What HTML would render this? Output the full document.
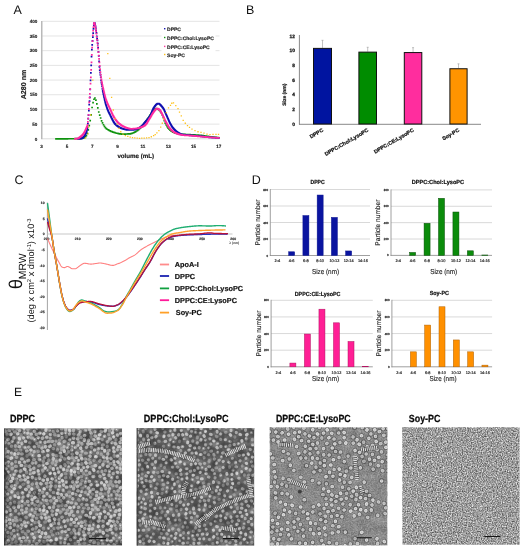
<!DOCTYPE html>
<html><head><meta charset="utf-8"><style>
html,body{margin:0;padding:0;background:#fff;overflow:hidden;}
svg{display:block;}
text{font-family:'Liberation Sans', Arial, sans-serif;text-rendering:geometricPrecision;}
</style></head><body>
<svg width="524" height="550" viewBox="0 0 524 550">
<rect width="524" height="550" fill="#fff"/>
<text x="13.6" y="14.4" font-size="12.5" fill="#111">A</text>
<line x1="42.3" y1="124.11" x2="219.5" y2="124.11" stroke="#e4e4e4" stroke-width="1"/>
<line x1="42.3" y1="109.43" x2="219.5" y2="109.43" stroke="#e4e4e4" stroke-width="1"/>
<line x1="42.3" y1="94.74" x2="219.5" y2="94.74" stroke="#e4e4e4" stroke-width="1"/>
<line x1="42.3" y1="80.05" x2="219.5" y2="80.05" stroke="#e4e4e4" stroke-width="1"/>
<line x1="42.3" y1="65.36" x2="219.5" y2="65.36" stroke="#e4e4e4" stroke-width="1"/>
<line x1="42.3" y1="50.68" x2="219.5" y2="50.68" stroke="#e4e4e4" stroke-width="1"/>
<line x1="42.3" y1="35.99" x2="219.5" y2="35.99" stroke="#e4e4e4" stroke-width="1"/>
<line x1="42.3" y1="21.3" x2="219.5" y2="21.3" stroke="#e4e4e4" stroke-width="1"/>
<line x1="42.3" y1="138.8" x2="219.5" y2="138.8" stroke="#dadada" stroke-width="1"/>
<line x1="41.8" y1="21" x2="41.8" y2="139.3" stroke="#a8a8a8" stroke-width="1.2"/>
<text x="37.3" y="140.5" font-size="4.6" font-weight="bold" text-anchor="end" fill="#222" stroke="#222" stroke-width="0.12">0</text>
<text x="37.3" y="125.81" font-size="4.6" font-weight="bold" text-anchor="end" fill="#222" stroke="#222" stroke-width="0.12">50</text>
<text x="37.3" y="111.13" font-size="4.6" font-weight="bold" text-anchor="end" fill="#222" stroke="#222" stroke-width="0.12">100</text>
<text x="37.3" y="96.44" font-size="4.6" font-weight="bold" text-anchor="end" fill="#222" stroke="#222" stroke-width="0.12">150</text>
<text x="37.3" y="81.75" font-size="4.6" font-weight="bold" text-anchor="end" fill="#222" stroke="#222" stroke-width="0.12">200</text>
<text x="37.3" y="67.06" font-size="4.6" font-weight="bold" text-anchor="end" fill="#222" stroke="#222" stroke-width="0.12">250</text>
<text x="37.3" y="52.38" font-size="4.6" font-weight="bold" text-anchor="end" fill="#222" stroke="#222" stroke-width="0.12">300</text>
<text x="37.3" y="37.69" font-size="4.6" font-weight="bold" text-anchor="end" fill="#222" stroke="#222" stroke-width="0.12">350</text>
<text x="37.3" y="23" font-size="4.6" font-weight="bold" text-anchor="end" fill="#222" stroke="#222" stroke-width="0.12">400</text>
<text x="41.6" y="147.6" font-size="4.6" font-weight="bold" text-anchor="middle" fill="#222" stroke="#222" stroke-width="0.12">3</text>
<text x="66.92" y="147.6" font-size="4.6" font-weight="bold" text-anchor="middle" fill="#222" stroke="#222" stroke-width="0.12">5</text>
<text x="92.24" y="147.6" font-size="4.6" font-weight="bold" text-anchor="middle" fill="#222" stroke="#222" stroke-width="0.12">7</text>
<text x="117.56" y="147.6" font-size="4.6" font-weight="bold" text-anchor="middle" fill="#222" stroke="#222" stroke-width="0.12">9</text>
<text x="142.88" y="147.6" font-size="4.6" font-weight="bold" text-anchor="middle" fill="#222" stroke="#222" stroke-width="0.12">11</text>
<text x="168.2" y="147.6" font-size="4.6" font-weight="bold" text-anchor="middle" fill="#222" stroke="#222" stroke-width="0.12">13</text>
<text x="193.52" y="147.6" font-size="4.6" font-weight="bold" text-anchor="middle" fill="#222" stroke="#222" stroke-width="0.12">15</text>
<text x="218.84" y="147.6" font-size="4.6" font-weight="bold" text-anchor="middle" fill="#222" stroke="#222" stroke-width="0.12">17</text>
<text x="117.4" y="157.7" font-size="6.2" font-weight="bold" fill="#1a1a1a" stroke="#1a1a1a" stroke-width="0.18">volume (mL)</text>
<text transform="translate(26.4,84.5) rotate(-90)" font-size="7.1" font-weight="bold" text-anchor="middle" fill="#1a1a1a" stroke="#1a1a1a" stroke-width="0.18">A280 nm</text>
<path d="M56 138.8h0M56.95 138.8h0M57.9 138.8h0M58.85 138.8h0M59.8 138.8h0M60.75 138.8h0M61.7 138.8h0M62.65 138.79h0M63.6 138.79h0M64.55 138.79h0M65.5 138.78h0M66.45 138.78h0M67.4 138.78h0M68.35 138.77h0M69.3 138.77h0M70.25 138.76h0M71.2 138.75h0M72.15 138.75h0M73.1 138.74h0M74.05 138.73h0M75 138.72h0M75.95 138.71h0M76.9 138.7h0M77.85 138.68h0M78.8 138.67h0M79.75 138.66h0M80.7 138.6h0M81.65 138.42h0M82.6 138.17h0M83.55 137.92h0M84.5 137.59h0M85.45 136.96h0M86.4 135.58h0M87.35 133.46h0M88.3 129.88h0M89.25 125.53h0M90.2 120.63h0M91.15 114.94h0M92.1 107.49h0M93.05 102.57h0M94 99.27h0M94.95 97.98h0M95.9 100.12h0M96.85 103.87h0M97.8 107.9h0M98.75 111.98h0M99.7 115.03h0M100.65 118.01h0M101.6 120.78h0M102.55 122.94h0M103.5 124.77h0M104.45 126.39h0M105.4 127.61h0M106.35 128.53h0M107.3 129.25h0M108.25 129.84h0M109.2 130.37h0M110.15 130.85h0M111.1 131.28h0M112.05 131.68h0M113 132.04h0M113.95 132.38h0M114.9 132.7h0M115.85 133h0M116.8 133.25h0M117.75 133.47h0M118.7 133.64h0M119.65 133.81h0M120.6 133.96h0M121.55 134.06h0M122.5 134.1h0M123.45 134.09h0M124.4 134.08h0M125.35 134.05h0M126.3 134.02h0M127.25 133.98h0M128.2 133.93h0M129.15 133.87h0M130.1 133.8h0M131.05 133.64h0M132 133.36h0M132.95 132.99h0M133.9 132.56h0M134.85 132.11h0M135.8 131.62h0M136.75 131.02h0M137.7 130.33h0M138.65 129.57h0M139.6 128.75h0M140.55 127.82h0M141.5 126.79h0M142.45 125.68h0M143.4 124.52h0M144.35 123.34h0M145.3 122.09h0M146.25 120.77h0M147.2 119.4h0M148.15 118h0M149.1 116.62h0M150.05 115.16h0M151 113.59h0M151.95 112.1h0M152.9 110.89h0M153.85 110.02h0M154.8 109.22h0M155.75 108.67h0M156.7 108.57h0M157.65 108.92h0M158.6 109.55h0M159.55 110.33h0M160.5 111.58h0M161.45 113.25h0M162.4 115.14h0M163.35 117.72h0M164.3 120.63h0M165.25 123.04h0M166.2 124.93h0M167.15 126.64h0M168.1 128.11h0M169.05 129.25h0M170 130.11h0M170.95 130.86h0M171.9 131.5h0M172.85 132.04h0M173.8 132.48h0M174.75 132.83h0M175.7 133.15h0M176.65 133.44h0M177.6 133.68h0M178.55 133.89h0M179.5 134.04h0M180.45 134.14h0M181.4 134.23h0M182.35 134.3h0M183.3 134.36h0M184.25 134.41h0M185.2 134.46h0M186.15 134.5h0M187.1 134.54h0M188.05 134.59h0M189 134.63h0M189.95 134.68h0M190.9 134.74h0M191.85 134.79h0M192.8 134.84h0M193.75 134.89h0M194.7 134.93h0M195.65 134.98h0M196.6 135.04h0M197.55 135.1h0M198.5 135.16h0M199.45 135.23h0M200.4 135.31h0M201.35 135.41h0M202.3 135.54h0M203.25 135.68h0M204.2 135.83h0M205.15 135.99h0M206.1 136.16h0M207.05 136.32h0M208 136.47h0M208.95 136.61h0M209.9 136.73h0M210.85 136.84h0M211.8 136.95h0M212.75 137.05h0M213.7 137.15h0M214.65 137.25h0M215.6 137.34h0M216.55 137.42h0M217.5 137.51h0M218.45 137.58h0" stroke="#0e930e" stroke-width="1.7" stroke-linecap="square" fill="none"/>
<path d="M78 138.8h0M78.33 138.8h0M78.66 138.79h0M78.99 138.78h0M79.32 138.77h0M79.65 138.75h0M79.98 138.73h0M80.31 138.71h0M80.64 138.68h0M80.97 138.66h0M81.3 138.6h0M81.63 138.48h0M81.96 138.3h0M82.29 138.08h0M82.62 137.82h0M82.95 137.52h0M83.28 137.2h0M83.61 136.86h0M83.94 136.51h0M84.27 136.13h0M84.6 135.67h0M84.93 135.14h0M85.26 134.53h0M85.59 133.85h0M85.92 133.11h0M86.25 132.34h0M86.58 131.52h0M86.91 130.53h0M87.24 129.24h0M87.57 127.52h0M87.9 123.72h0M88.23 118.74h0M88.56 115.03h0M88.89 110.66h0M89.22 104.69h0M89.55 101.12h0M89.88 97.32h0M90.21 89.34h0M90.54 80.39h0M90.87 72.88h0M91.2 65.36h0M91.53 56.74h0M91.86 49.66h0M92.19 44.86h0M92.52 40.93h0M92.85 37.18h0M93.18 33.02h0M93.51 28.93h0M93.84 25.49h0M94.17 23.28h0M94.5 22.8h0M94.83 23.39h0M95.16 24.57h0M95.49 26.21h0M95.82 28.17h0M96.15 30.3h0M96.48 32.86h0M96.81 36.4h0M97.14 38.6h0M97.47 40.47h0M97.8 43.64h0M98.13 47.56h0M98.46 51.92h0M98.79 55.96h0M99.12 61.37h0M99.45 66.94h0M99.78 70.07h0M100.11 72.65h0M100.44 74.8h0M100.77 77.41h0M101.1 80.46h0M101.43 82.6h0M101.76 84.26h0M102.09 86.27h0M102.42 88.91h0M102.75 90.87h0M103.08 92.49h0M103.41 94.01h0M103.74 95.61h0M104.07 97.19h0M104.4 98.71h0M104.73 100.13h0M105.06 101.5h0M105.39 102.82h0M105.72 104.06h0M106.05 105.18h0M106.38 106.23h0M106.71 107.21h0M107.04 108.15h0M107.37 109.03h0M107.7 109.87h0M108.03 110.67h0M108.36 111.42h0M108.69 112.11h0M109.02 112.77h0M109.35 113.42h0M109.68 114.07h0M110.01 114.73h0M110.34 115.42h0M110.67 116.11h0M111 116.81h0M111.33 117.49h0M111.66 118.16h0M111.99 118.81h0M112.32 119.44h0M112.65 120.09h0M112.98 120.73h0M113.31 121.35h0M113.64 121.94h0M113.97 122.49h0M114.3 122.97h0M114.63 123.39h0M114.96 123.76h0M115.29 124.1h0M115.62 124.42h0M115.95 124.72h0M116.28 125h0M116.61 125.27h0M116.94 125.53h0M117.27 125.8h0M117.6 126.05h0M117.93 126.31h0M118.26 126.55h0M118.59 126.79h0M118.92 127.01h0M119.25 127.22h0M119.58 127.42h0M119.91 127.59h0M120.24 127.75h0M120.57 127.91h0M120.9 128.05h0M121.23 128.19h0M121.56 128.33h0M121.89 128.45h0M122.22 128.57h0M122.55 128.69h0M122.88 128.79h0M123.21 128.89h0M123.54 128.99h0M123.87 129.07h0M124.2 129.15h0M124.53 129.24h0M124.86 129.32h0M125.19 129.4h0M125.52 129.48h0M125.85 129.56h0M126.18 129.63h0M126.51 129.7h0M126.84 129.76h0M127.17 129.82h0M127.5 129.87h0M127.83 129.92h0M128.16 129.95h0M128.49 129.97h0M128.82 129.99h0M129.15 129.99h0M129.48 129.98h0M129.81 129.98h0M130.14 129.97h0M130.47 129.96h0M130.8 129.94h0M131.13 129.93h0M131.46 129.91h0M131.79 129.88h0M132.12 129.86h0M132.45 129.84h0M132.78 129.81h0M133.11 129.78h0M133.44 129.75h0M133.77 129.72h0M134.1 129.68h0M134.43 129.64h0M134.76 129.58h0M135.09 129.51h0M135.42 129.43h0M135.75 129.34h0M136.08 129.23h0M136.41 129.12h0M136.74 129.01h0M137.07 128.89h0M137.4 128.76h0M137.73 128.63h0M138.06 128.49h0M138.39 128.35h0M138.72 128.19h0M139.05 128.01h0M139.38 127.82h0M139.71 127.61h0M140.04 127.4h0M140.37 127.16h0M140.7 126.92h0M141.03 126.67h0M141.36 126.41h0M141.69 126.14h0M142.02 125.86h0M142.35 125.55h0M142.68 125.21h0M143.01 124.84h0M143.34 124.44h0M143.67 124.03h0M144 123.61h0M144.33 123.19h0M144.66 122.77h0M144.99 122.36h0M145.32 121.97h0M145.65 121.58h0M145.98 121.2h0M146.31 120.82h0M146.64 120.44h0M146.97 120.06h0M147.3 119.68h0M147.63 119.29h0M147.96 118.89h0M148.29 118.47h0M148.62 118.04h0M148.95 117.59h0M149.28 117.13h0M149.61 116.63h0M149.94 116.12h0M150.27 115.53h0M150.6 114.86h0M150.93 114.12h0M151.26 113.34h0M151.59 112.52h0M151.92 111.7h0M152.25 110.88h0M152.58 110.08h0M152.91 109.33h0M153.24 108.64h0M153.57 108.02h0M153.9 107.5h0M154.23 107.07h0M154.56 106.63h0M154.89 106.2h0M155.22 105.77h0M155.55 105.36h0M155.88 104.98h0M156.21 104.63h0M156.54 104.31h0M156.87 104.04h0M157.2 103.82h0M157.53 103.66h0M157.86 103.57h0M158.19 103.55h0M158.52 103.6h0M158.85 103.7h0M159.18 103.86h0M159.51 104.06h0M159.84 104.31h0M160.17 104.6h0M160.5 104.92h0M160.83 105.27h0M161.16 105.64h0M161.49 106.03h0M161.82 106.44h0M162.15 106.86h0M162.48 107.29h0M162.81 107.71h0M163.14 108.14h0M163.47 108.65h0M163.8 109.23h0M164.13 109.87h0M164.46 110.56h0M164.79 111.28h0M165.12 112.03h0M165.45 112.79h0M165.78 113.55h0M166.11 114.3h0M166.44 115.02h0M166.77 115.77h0M167.1 116.54h0M167.43 117.33h0M167.76 118.13h0M168.09 118.93h0M168.42 119.71h0M168.75 120.47h0M169.08 121.2h0M169.41 121.88h0M169.74 122.52h0M170.07 123.16h0M170.4 123.78h0M170.73 124.38h0M171.06 124.97h0M171.39 125.54h0M171.72 126.08h0M172.05 126.59h0M172.38 127.07h0M172.71 127.52h0M173.04 127.94h0M173.37 128.34h0M173.7 128.73h0M174.03 129.11h0M174.36 129.47h0M174.69 129.82h0M175.02 130.15h0M175.35 130.47h0M175.68 130.77h0M176.01 131.06h0M176.34 131.33h0M176.67 131.58h0M177 131.82h0M177.33 132.05h0M177.66 132.29h0M177.99 132.52h0M178.32 132.74h0M178.65 132.96h0M178.98 133.17h0M179.31 133.37h0M179.64 133.55h0M179.97 133.73h0M180.3 133.89h0M180.63 134.04h0M180.96 134.16h0M181.29 134.27h0M181.62 134.36h0M181.95 134.42h0M182.28 134.48h0M182.61 134.54h0M182.94 134.59h0M183.27 134.64h0M183.6 134.68h0M183.93 134.72h0M184.26 134.76h0M184.59 134.8h0M184.92 134.84h0M185.25 134.87h0M185.58 134.9h0M185.91 134.93h0M186.24 134.96h0M186.57 134.99h0M186.9 135.01h0M187.23 135.04h0M187.56 135.07h0M187.89 135.09h0M188.22 135.12h0M188.55 135.15h0M188.88 135.17h0M189.21 135.2h0M189.54 135.23h0M189.87 135.26h0M190.2 135.29h0M190.53 135.33h0M190.86 135.36h0M191.19 135.39h0M191.52 135.42h0M191.85 135.45h0M192.18 135.47h0M192.51 135.5h0M192.84 135.53h0M193.17 135.56h0M193.5 135.59h0M193.83 135.61h0M194.16 135.64h0M194.49 135.67h0M194.82 135.7h0M195.15 135.72h0M195.48 135.75h0M195.81 135.78h0M196.14 135.81h0M196.47 135.83h0M196.8 135.86h0M197.13 135.89h0M197.46 135.92h0M197.79 135.95h0M198.12 135.98h0M198.45 136.01h0M198.78 136.04h0M199.11 136.07h0M199.44 136.1h0M199.77 136.13h0M200.1 136.17h0M200.43 136.2h0M200.76 136.24h0M201.09 136.27h0M201.42 136.31h0M201.75 136.35h0M202.08 136.39h0M202.41 136.43h0M202.74 136.47h0M203.07 136.51h0M203.4 136.56h0M203.73 136.6h0M204.06 136.64h0M204.39 136.69h0M204.72 136.73h0M205.05 136.77h0M205.38 136.81h0M205.71 136.86h0M206.04 136.9h0M206.37 136.94h0M206.7 136.98h0M207.03 137.02h0M207.36 137.06h0M207.69 137.1h0M208.02 137.14h0M208.35 137.17h0M208.68 137.21h0M209.01 137.24h0M209.34 137.27h0M209.67 137.3h0M210 137.33h0M210.33 137.36h0M210.66 137.39h0M210.99 137.41h0M211.32 137.44h0M211.65 137.47h0M211.98 137.49h0M212.31 137.52h0M212.64 137.54h0M212.97 137.57h0M213.3 137.59h0M213.63 137.61h0M213.96 137.64h0M214.29 137.66h0M214.62 137.68h0M214.95 137.7h0M215.28 137.72h0M215.61 137.74h0M215.94 137.76h0M216.27 137.78h0M216.6 137.8h0M216.93 137.82h0M217.26 137.84h0M217.59 137.85h0M217.92 137.87h0M218.25 137.89h0M218.58 137.9h0M218.91 137.92h0" stroke="#1010b0" stroke-width="1.75" stroke-linecap="square" fill="none"/>
<path d="M75 138.8h0M75.33 138.79h0M75.66 138.77h0M75.99 138.74h0M76.32 138.7h0M76.65 138.65h0M76.98 138.59h0M77.31 138.52h0M77.64 138.45h0M77.97 138.37h0M78.3 138.25h0M78.63 138.08h0M78.96 137.85h0M79.29 137.6h0M79.62 137.33h0M79.95 137.08h0M80.28 136.83h0M80.61 136.58h0M80.94 136.33h0M81.27 136.07h0M81.6 135.8h0M81.93 135.51h0M82.26 135.19h0M82.59 134.86h0M82.92 134.49h0M83.25 134.08h0M83.58 133.62h0M83.91 133.12h0M84.24 132.56h0M84.57 131.97h0M84.9 131.34h0M85.23 130.67h0M85.56 129.97h0M85.89 129.24h0M86.22 128.48h0M86.55 127.7h0M86.88 126.94h0M87.21 126.17h0M87.54 124.99h0M87.87 121.8h0M88.2 118.57h0M88.53 114.89h0M88.86 108.96h0M89.19 102.42h0M89.52 97.69h0M89.85 93.8h0M90.18 89.09h0M90.51 83.55h0M90.84 77.25h0M91.17 69.94h0M91.5 62.43h0M91.83 54.9h0M92.16 47.58h0M92.49 41.21h0M92.82 35.31h0M93.15 30.65h0M93.48 27.23h0M93.81 24.3h0M94.14 22.81h0M94.47 23.09h0M94.8 24.11h0M95.13 25.43h0M95.46 26.89h0M95.79 28.79h0M96.12 31.01h0M96.45 33.65h0M96.78 36.84h0M97.11 39.9h0M97.44 42.75h0M97.77 45.63h0M98.1 48.7h0M98.43 52.05h0M98.76 55.52h0M99.09 58.95h0M99.42 62.42h0M99.75 65.85h0M100.08 69.05h0M100.41 72.01h0M100.74 74.69h0M101.07 77.19h0M101.4 79.44h0M101.73 81.37h0M102.06 83.13h0M102.39 84.77h0M102.72 86.3h0M103.05 87.78h0M103.38 89.22h0M103.71 90.66h0M104.04 92.09h0M104.37 93.49h0M104.7 94.85h0M105.03 96.15h0M105.36 97.37h0M105.69 98.5h0M106.02 99.53h0M106.35 100.48h0M106.68 101.38h0M107.01 102.23h0M107.34 103.04h0M107.67 103.83h0M108 104.6h0M108.33 105.34h0M108.66 106.04h0M108.99 106.73h0M109.32 107.41h0M109.65 108.08h0M109.98 108.75h0M110.31 109.45h0M110.64 110.16h0M110.97 110.9h0M111.3 111.65h0M111.63 112.41h0M111.96 113.16h0M112.29 113.89h0M112.62 114.6h0M112.95 115.28h0M113.28 115.91h0M113.61 116.49h0M113.94 117.04h0M114.27 117.57h0M114.6 118.09h0M114.93 118.6h0M115.26 119.1h0M115.59 119.57h0M115.92 120.04h0M116.25 120.48h0M116.58 120.91h0M116.91 121.32h0M117.24 121.72h0M117.57 122.09h0M117.9 122.44h0M118.23 122.77h0M118.56 123.09h0M118.89 123.38h0M119.22 123.67h0M119.55 123.94h0M119.88 124.21h0M120.21 124.46h0M120.54 124.7h0M120.87 124.93h0M121.2 125.15h0M121.53 125.36h0M121.86 125.56h0M122.19 125.76h0M122.52 125.94h0M122.85 126.12h0M123.18 126.3h0M123.51 126.47h0M123.84 126.64h0M124.17 126.81h0M124.5 126.96h0M124.83 127.12h0M125.16 127.26h0M125.49 127.4h0M125.82 127.53h0M126.15 127.65h0M126.48 127.77h0M126.81 127.87h0M127.14 127.97h0M127.47 128.07h0M127.8 128.17h0M128.13 128.27h0M128.46 128.37h0M128.79 128.46h0M129.12 128.55h0M129.45 128.63h0M129.78 128.69h0M130.11 128.75h0M130.44 128.79h0M130.77 128.81h0M131.1 128.81h0M131.43 128.81h0M131.76 128.8h0M132.09 128.79h0M132.42 128.78h0M132.75 128.77h0M133.08 128.75h0M133.41 128.73h0M133.74 128.71h0M134.07 128.69h0M134.4 128.66h0M134.73 128.63h0M135.06 128.6h0M135.39 128.58h0M135.72 128.55h0M136.05 128.51h0M136.38 128.48h0M136.71 128.43h0M137.04 128.38h0M137.37 128.31h0M137.7 128.25h0M138.03 128.17h0M138.36 128.09h0M138.69 128.01h0M139.02 127.92h0M139.35 127.83h0M139.68 127.73h0M140.01 127.63h0M140.34 127.53h0M140.67 127.43h0M141 127.32h0M141.33 127.2h0M141.66 127.08h0M141.99 126.94h0M142.32 126.8h0M142.65 126.65h0M142.98 126.5h0M143.31 126.33h0M143.64 126.15h0M143.97 125.96h0M144.3 125.76h0M144.63 125.54h0M144.96 125.32h0M145.29 125.06h0M145.62 124.74h0M145.95 124.37h0M146.28 123.96h0M146.61 123.51h0M146.94 123.02h0M147.27 122.51h0M147.6 121.97h0M147.93 121.42h0M148.26 120.85h0M148.59 120.28h0M148.92 119.72h0M149.25 119.16h0M149.58 118.61h0M149.91 118.08h0M150.24 117.57h0M150.57 117.02h0M150.9 116.45h0M151.23 115.88h0M151.56 115.29h0M151.89 114.7h0M152.22 114.13h0M152.55 113.57h0M152.88 113.03h0M153.21 112.52h0M153.54 112.06h0M153.87 111.63h0M154.2 111.25h0M154.53 110.85h0M154.86 110.45h0M155.19 110.06h0M155.52 109.68h0M155.85 109.34h0M156.18 109.04h0M156.51 108.8h0M156.84 108.64h0M157.17 108.55h0M157.5 108.56h0M157.83 108.64h0M158.16 108.78h0M158.49 108.98h0M158.82 109.23h0M159.15 109.5h0M159.48 109.8h0M159.81 110.12h0M160.14 110.46h0M160.47 110.91h0M160.8 111.47h0M161.13 112.1h0M161.46 112.76h0M161.79 113.43h0M162.12 114.06h0M162.45 114.71h0M162.78 115.38h0M163.11 116.07h0M163.44 116.77h0M163.77 117.48h0M164.1 118.2h0M164.43 118.91h0M164.76 119.61h0M165.09 120.29h0M165.42 120.96h0M165.75 121.59h0M166.08 122.2h0M166.41 122.8h0M166.74 123.4h0M167.07 124h0M167.4 124.6h0M167.73 125.18h0M168.06 125.74h0M168.39 126.29h0M168.72 126.81h0M169.05 127.3h0M169.38 127.76h0M169.71 128.18h0M170.04 128.56h0M170.37 128.92h0M170.7 129.27h0M171.03 129.6h0M171.36 129.93h0M171.69 130.24h0M172.02 130.54h0M172.35 130.83h0M172.68 131.11h0M173.01 131.37h0M173.34 131.62h0M173.67 131.85h0M174 132.07h0M174.33 132.27h0M174.66 132.46h0M174.99 132.63h0M175.32 132.79h0M175.65 132.94h0M175.98 133.1h0M176.31 133.25h0M176.64 133.39h0M176.97 133.53h0M177.3 133.67h0M177.63 133.8h0M177.96 133.93h0M178.29 134.05h0M178.62 134.17h0M178.95 134.28h0M179.28 134.38h0M179.61 134.48h0M179.94 134.57h0M180.27 134.66h0M180.6 134.74h0M180.93 134.81h0M181.26 134.87h0M181.59 134.92h0M181.92 134.97h0M182.25 135.01h0M182.58 135.05h0M182.91 135.08h0M183.24 135.11h0M183.57 135.14h0M183.9 135.17h0M184.23 135.2h0M184.56 135.22h0M184.89 135.25h0M185.22 135.27h0M185.55 135.29h0M185.88 135.31h0M186.21 135.33h0M186.54 135.35h0M186.87 135.37h0M187.2 135.39h0M187.53 135.41h0M187.86 135.42h0M188.19 135.44h0M188.52 135.46h0M188.85 135.49h0M189.18 135.51h0M189.51 135.53h0M189.84 135.56h0M190.17 135.58h0M190.5 135.61h0M190.83 135.64h0M191.16 135.66h0M191.49 135.69h0M191.82 135.72h0M192.15 135.75h0M192.48 135.78h0M192.81 135.8h0M193.14 135.83h0M193.47 135.86h0M193.8 135.89h0M194.13 135.92h0M194.46 135.95h0M194.79 135.98h0M195.12 136.01h0M195.45 136.04h0M195.78 136.07h0M196.11 136.1h0M196.44 136.13h0M196.77 136.16h0M197.1 136.19h0M197.43 136.22h0M197.76 136.25h0M198.09 136.28h0M198.42 136.31h0M198.75 136.34h0M199.08 136.37h0M199.41 136.4h0M199.74 136.43h0M200.07 136.46h0M200.4 136.49h0M200.73 136.51h0M201.06 136.54h0M201.39 136.57h0M201.72 136.6h0M202.05 136.64h0M202.38 136.67h0M202.71 136.7h0M203.04 136.73h0M203.37 136.76h0M203.7 136.79h0M204.03 136.82h0M204.36 136.85h0M204.69 136.88h0M205.02 136.91h0M205.35 136.94h0M205.68 136.97h0M206.01 137h0M206.34 137.03h0M206.67 137.06h0M207 137.09h0M207.33 137.12h0M207.66 137.14h0M207.99 137.17h0M208.32 137.2h0M208.65 137.23h0M208.98 137.25h0M209.31 137.28h0M209.64 137.3h0M209.97 137.33h0M210.3 137.35h0M210.63 137.38h0M210.96 137.4h0M211.29 137.43h0M211.62 137.45h0M211.95 137.47h0M212.28 137.5h0M212.61 137.52h0M212.94 137.54h0M213.27 137.57h0M213.6 137.59h0M213.93 137.61h0M214.26 137.63h0M214.59 137.65h0M214.92 137.68h0M215.25 137.7h0M215.58 137.72h0M215.91 137.74h0M216.24 137.76h0M216.57 137.78h0M216.9 137.8h0M217.23 137.82h0M217.56 137.84h0M217.89 137.86h0M218.22 137.88h0M218.55 137.89h0M218.88 137.91h0" stroke="#ff2aa0" stroke-width="1.75" stroke-linecap="square" fill="none"/>
<path d="M85.5 137.92h0M88.1 133.81h0M88.7 127.05h0M90.7 115.01h0M92.8 80.05h0M107.8 53.61h0M109.8 78.29h0M111.6 97.38h0M113.3 110.01h0M115 118.53h0M117.1 124.11h0M119 128.23h0M120.8 131.75h0M123 134.1h0M125.4 135.57h0M127.8 136.45h0M130.2 137.04h0M132.5 137.62h0M134.8 137.92h0M137.2 138.21h0M139.5 138.36h0M141.8 138.21h0M144.2 138.07h0M146.6 137.92h0M149 137.62h0M151.3 136.74h0M153.6 135.57h0M155.2 134.69h0M156.9 132.93h0M158.9 130.58h0M160.7 127.05h0M162.3 123.23h0M163.8 118.83h0M166.3 112.66h0M168.5 107.96h0M170.5 105.31h0M171.8 103.26h0M173.5 102.96h0M175.8 105.61h0M178 108.54h0M179.5 112.07h0M181.3 115.89h0M183.2 120.29h0M185.3 123.23h0M187.5 125.58h0M189.5 127.34h0M192 129.11h0M195 130.58h0M198 131.75h0M201 132.34h0M204 133.22h0M207 134.1h0M210 134.69h0M213 134.39h0M216 134.39h0M218.5 134.39h0" stroke="#ffc21a" stroke-width="1.3" stroke-linecap="square" fill="none"/>
<rect x="161.5" y="23.6" width="54" height="34" fill="#fff"/>
<rect x="164" y="28" width="1.4" height="1.4" fill="#1a1ab4"/>
<text x="167.1" y="31" font-size="5" font-weight="bold" fill="#2a2a2a" stroke="#2a2a2a" stroke-width="0.18">DPPC</text>
<rect x="164" y="36.8" width="1.4" height="1.4" fill="#119111"/>
<text x="167.1" y="39.8" font-size="5" font-weight="bold" fill="#2a2a2a" stroke="#2a2a2a" stroke-width="0.18">DPPC:Chol:LysoPC</text>
<rect x="164" y="45.7" width="1.4" height="1.4" fill="#ff3aa0"/>
<text x="167.1" y="48.7" font-size="5" font-weight="bold" fill="#2a2a2a" stroke="#2a2a2a" stroke-width="0.18">DPPC:CE:LysoPC</text>
<rect x="164" y="53.8" width="1.4" height="1.4" fill="#ffc21a"/>
<text x="167.1" y="56.8" font-size="5" font-weight="bold" fill="#2a2a2a" stroke="#2a2a2a" stroke-width="0.18">Soy-PC</text>
<text x="246" y="14.3" font-size="12.5" fill="#111">B</text>
<line x1="299.4" y1="35" x2="299.4" y2="124.6" stroke="#7a7a7a" stroke-width="0.9"/>
<line x1="299" y1="124.3" x2="481" y2="124.3" stroke="#7a7a7a" stroke-width="0.9"/>
<text x="294.9" y="125.8" font-size="4.8" font-weight="bold" text-anchor="end" fill="#111" stroke="#111" stroke-width="0.25">0</text>
<text x="294.9" y="111.1" font-size="4.8" font-weight="bold" text-anchor="end" fill="#111" stroke="#111" stroke-width="0.25">2</text>
<text x="294.9" y="96.4" font-size="4.8" font-weight="bold" text-anchor="end" fill="#111" stroke="#111" stroke-width="0.25">4</text>
<text x="294.9" y="81.7" font-size="4.8" font-weight="bold" text-anchor="end" fill="#111" stroke="#111" stroke-width="0.25">6</text>
<text x="294.9" y="67" font-size="4.8" font-weight="bold" text-anchor="end" fill="#111" stroke="#111" stroke-width="0.25">8</text>
<text x="294.9" y="52.3" font-size="4.8" font-weight="bold" text-anchor="end" fill="#111" stroke="#111" stroke-width="0.25">10</text>
<text x="294.9" y="37.6" font-size="4.8" font-weight="bold" text-anchor="end" fill="#111" stroke="#111" stroke-width="0.25">12</text>
<line x1="322.5" y1="47.88" x2="322.5" y2="40.31" stroke="#999" stroke-width="0.6"/>
<line x1="321.5" y1="40.31" x2="323.5" y2="40.31" stroke="#999" stroke-width="0.6"/>
<rect x="313.5" y="48.38" width="18" height="75.62" fill="#0014a0" stroke="#111" stroke-width="1"/>
<text transform="translate(323.7,131.2) rotate(-30)" font-size="5.3" font-weight="bold" text-anchor="end" fill="#111" stroke="#111" stroke-width="0.22">DPPC</text>
<line x1="367.7" y1="51.63" x2="367.7" y2="47.29" stroke="#999" stroke-width="0.6"/>
<line x1="366.7" y1="47.29" x2="368.7" y2="47.29" stroke="#999" stroke-width="0.6"/>
<rect x="358.9" y="52.13" width="17.6" height="71.87" fill="#008c00" stroke="#111" stroke-width="1"/>
<text transform="translate(368.9,131.2) rotate(-30)" font-size="5.3" font-weight="bold" text-anchor="end" fill="#111" stroke="#111" stroke-width="0.22">DPPC:Chol:LysoPC</text>
<line x1="413.05" y1="52.07" x2="413.05" y2="47.66" stroke="#999" stroke-width="0.6"/>
<line x1="412.05" y1="47.66" x2="414.05" y2="47.66" stroke="#999" stroke-width="0.6"/>
<rect x="404.3" y="52.57" width="17.5" height="71.43" fill="#ff2d9e" stroke="#111" stroke-width="1"/>
<text transform="translate(414.25,131.2) rotate(-30)" font-size="5.3" font-weight="bold" text-anchor="end" fill="#111" stroke="#111" stroke-width="0.22">DPPC:CE:LysoPC</text>
<line x1="458.5" y1="68.24" x2="458.5" y2="63.83" stroke="#999" stroke-width="0.6"/>
<line x1="457.5" y1="63.83" x2="459.5" y2="63.83" stroke="#999" stroke-width="0.6"/>
<rect x="449.9" y="68.74" width="17.2" height="55.26" fill="#ff9400" stroke="#111" stroke-width="1"/>
<text transform="translate(459.7,131.2) rotate(-30)" font-size="5.3" font-weight="bold" text-anchor="end" fill="#111" stroke="#111" stroke-width="0.22">Soy-PC</text>
<text transform="translate(285.8,94.7) rotate(-90)" font-size="5" font-weight="bold" text-anchor="middle" fill="#111" stroke="#111" stroke-width="0.2">Size (nm)</text>
<text x="14.4" y="184.4" font-size="12.5" fill="#111">C</text>
<line x1="47.4" y1="202.5" x2="47.4" y2="330" stroke="#9a9a9a" stroke-width="0.9"/>
<line x1="47.4" y1="234" x2="232.5" y2="234" stroke="#c8c8c8" stroke-width="1.2"/>
<text x="44.6" y="204.3" font-size="3.4" font-weight="bold" text-anchor="end" fill="#333" stroke="#333" stroke-width="0.2">10</text>
<text x="44.6" y="219.85" font-size="3.4" font-weight="bold" text-anchor="end" fill="#333" stroke="#333" stroke-width="0.2">5</text>
<text x="44.6" y="235.4" font-size="3.4" font-weight="bold" text-anchor="end" fill="#333" stroke="#333" stroke-width="0.2">0</text>
<text x="44.6" y="250.95" font-size="3.4" font-weight="bold" text-anchor="end" fill="#333" stroke="#333" stroke-width="0.2">-5</text>
<text x="44.6" y="266.5" font-size="3.4" font-weight="bold" text-anchor="end" fill="#333" stroke="#333" stroke-width="0.2">-10</text>
<text x="44.6" y="282.05" font-size="3.4" font-weight="bold" text-anchor="end" fill="#333" stroke="#333" stroke-width="0.2">-15</text>
<text x="44.6" y="297.6" font-size="3.4" font-weight="bold" text-anchor="end" fill="#333" stroke="#333" stroke-width="0.2">-20</text>
<text x="44.6" y="313.15" font-size="3.4" font-weight="bold" text-anchor="end" fill="#333" stroke="#333" stroke-width="0.2">-25</text>
<text x="44.6" y="328.7" font-size="3.4" font-weight="bold" text-anchor="end" fill="#333" stroke="#333" stroke-width="0.2">-30</text>
<text x="46.6" y="239.7" font-size="3.4" font-weight="bold" text-anchor="middle" fill="#333" stroke="#333" stroke-width="0.2">200</text>
<text x="77.7" y="239.7" font-size="3.4" font-weight="bold" text-anchor="middle" fill="#333" stroke="#333" stroke-width="0.2">210</text>
<text x="108.8" y="239.7" font-size="3.4" font-weight="bold" text-anchor="middle" fill="#333" stroke="#333" stroke-width="0.2">220</text>
<text x="139.9" y="239.7" font-size="3.4" font-weight="bold" text-anchor="middle" fill="#333" stroke="#333" stroke-width="0.2">230</text>
<text x="171" y="239.7" font-size="3.4" font-weight="bold" text-anchor="middle" fill="#333" stroke="#333" stroke-width="0.2">240</text>
<text x="202.1" y="239.7" font-size="3.4" font-weight="bold" text-anchor="middle" fill="#333" stroke="#333" stroke-width="0.2">250</text>
<text x="233.2" y="239.7" font-size="3.4" font-weight="bold" text-anchor="middle" fill="#333" stroke="#333" stroke-width="0.2">260</text>
<text x="229.3" y="244.2" font-size="3.3" font-weight="bold" fill="#333">λ (nm)</text>
<text transform="translate(22.0,289.2) rotate(-90)" font-size="18.6" fill="#111">θ</text>
<text transform="translate(26.4,279.2) rotate(-90)" font-size="10.4" fill="#111">MRW</text>
<text transform="translate(34.3,322.5) rotate(-90)" font-size="9.2" fill="#111">(deg x cm<tspan font-size="5.8" dy="-3.6">2</tspan><tspan dy="3.6"> x dmol</tspan><tspan font-size="5.8" dy="-3.6">-1</tspan><tspan dy="3.6">) x10</tspan><tspan font-size="5.8" dy="-3.6">-3</tspan></text>
<path d="M47.5 238.5 48 239.69 48.5 240.86 49 242.02 49.5 243.16 50 244.29 50.5 245.4 51 246.5 51.5 247.58 52 248.65 52.5 249.7 53 250.74 53.5 251.77 54 252.79 54.5 253.8 55 254.8 55.5 255.8 56 256.8 56.5 257.79 57 258.77 57.5 259.72 58 260.63 58.5 261.5 59 262.39 59.5 263.33 60 264.28 60.5 265.19 61 266 61.5 266.66 62 267.11 62.5 267.32 63 267.43 63.5 267.52 64 267.58 64.5 267.6 65 267.51 65.5 267.3 66 267.02 66.5 266.75 67 266.56 67.5 266.5 68 266.58 68.5 266.76 69 266.99 69.5 267.25 70 267.5 70.5 267.82 71 268.23 71.5 268.6 72 268.79 72.5 268.8 73 268.8 73.5 268.8 74 268.8 74.5 268.8 75 268.8 75.5 268.76 76 268.55 76.5 268.23 77 267.85 77.5 267.5 78 267.15 78.5 266.75 79 266.35 79.5 265.97 80 265.64 80.5 265.31 81 264.97 81.5 264.62 82 264.29 82.5 263.99 83 263.72 83.5 263.51 84 263.37 84.5 263.3 85 263.31 85.5 263.34 86 263.4 86.5 263.47 87 263.56 87.5 263.65 88 263.75 88.5 263.84 89 263.93 89.5 264 90 264.06 90.5 264.09 91 264.1 91.5 264.08 92 264.05 92.5 264 93 263.94 93.5 263.87 94 263.79 94.5 263.72 95 263.64 95.5 263.57 96 263.5 96.5 263.43 97 263.35 97.5 263.27 98 263.19 98.5 263.12 99 263.06 99.5 263.01 100 263 100.5 263.01 101 263.05 101.5 263.11 102 263.18 102.5 263.27 103 263.36 103.5 263.47 104 263.58 104.5 263.69 105 263.8 105.5 263.9 106 264 106.5 264.1 107 264.21 107.5 264.33 108 264.46 108.5 264.6 109 264.73 109.5 264.86 110 264.98 110.5 265.1 111 265.2 111.5 265.28 112 265.34 112.5 265.39 113 265.4 113.5 265.36 114 265.25 114.5 265.08 115 264.87 115.5 264.64 116 264.41 116.5 264.19 117 264 117.5 263.83 118 263.68 118.5 263.52 119 263.36 119.5 263.19 120 263 120.5 262.8 121 262.58 121.5 262.35 122 262.1 122.5 261.85 123 261.59 123.5 261.32 124 261.05 124.5 260.78 125 260.5 125.5 260.21 126 259.91 126.5 259.6 127 259.28 127.5 258.95 128 258.62 128.5 258.3 129 257.99 129.5 257.69 130 257.4 130.5 257.13 131 256.89 131.5 256.65 132 256.42 132.5 256.19 133 255.96 133.5 255.71 134 255.45 134.5 255.16 135 254.84 135.5 254.49 136 254.1 136.5 253.69 137 253.26 137.5 252.81 138 252.36 138.5 251.9 139 251.45 139.5 251 140 250.57 140.5 250.15 141 249.76 141.5 249.4 142 249.06 142.5 248.73 143 248.42 143.5 248.11 144 247.81 144.5 247.51 145 247.22 145.5 246.94 146 246.66 146.5 246.38 147 246.11 147.5 245.84 148 245.56 148.5 245.29 149 245.02 149.5 244.76 150 244.5 150.5 244.24 151 243.99 151.5 243.74 152 243.49 152.5 243.24 153 242.99 153.5 242.74 154 242.5 154.5 242.25 155 242 155.5 241.75 156 241.5 156.5 241.24 157 240.99 157.5 240.74 158 240.48 158.5 240.23 159 239.99 159.5 239.74 160 239.51 160.5 239.28 161 239.06 161.5 238.84 162 238.61 162.5 238.39 163 238.18 163.5 237.96 164 237.76 164.5 237.56 165 237.37 165.5 237.18 166 237.02 166.5 236.86 167 236.71 167.5 236.57 168 236.43 168.5 236.29 169 236.15 169.5 236.03 170 235.92 170.5 235.81 171 235.72 171.5 235.65 172 235.6 172.5 235.56 173 235.52 173.5 235.49 174 235.46 174.5 235.43 175 235.4 175.5 235.38 176 235.36 176.5 235.34 177 235.32 177.5 235.3 178 235.28 178.5 235.26 179 235.24 179.5 235.22 180 235.2 180.5 235.18 181 235.16 181.5 235.14 182 235.12 182.5 235.1 183 235.08 183.5 235.06 184 235.04 184.5 235.02 185 235 185.5 234.99 186 234.97 186.5 234.95 187 234.93 187.5 234.91 188 234.9 188.5 234.88 189 234.86 189.5 234.85 190 234.83 190.5 234.81 191 234.8 191.5 234.78 192 234.76 192.5 234.75 193 234.73 193.5 234.71 194 234.7 194.5 234.68 195 234.67 195.5 234.65 196 234.63 196.5 234.62 197 234.6 197.5 234.58 198 234.57 198.5 234.55 199 234.53 199.5 234.52 200 234.5 200.5 234.48 201 234.46 201.5 234.44 202 234.42 202.5 234.4 203 234.38 203.5 234.36 204 234.34 204.5 234.32 205 234.29 205.5 234.27 206 234.25 206.5 234.23 207 234.21 207.5 234.19 208 234.17 208.5 234.15 209 234.13 209.5 234.11 210 234.09 210.5 234.08 211 234.06 211.5 234.05 212 234.04 212.5 234.03 213 234.02 213.5 234.01 214 234 214.5 234 215 234 215.5 234 216 234 216.5 234 217 234 217.5 234 218 234 218.5 234 219 234 219.5 234 220 234 220.5 234 221 234 221.5 234 222 234 222.5 234 223 234 223.5 234 224 234 224.5 234 225 234 225.5 234 226 234 226.5 234 227 234" stroke="#ff8080" stroke-width="1.1" fill="none" stroke-linejoin="round"/>
<path d="M47.5 218.4 48 220.62 48.5 222.79 49 224.92 49.5 227 50 228.93 50.5 230.74 51 232.58 51.5 234.61 52 237.03 52.5 240.05 53 243.45 53.5 246.98 54 250.35 54.5 253.38 55 256.23 55.5 258.99 56 261.71 56.5 264.46 57 267.3 57.5 270.27 58 273.33 58.5 276.4 59 279.43 59.5 282.34 60 285.15 60.5 287.95 61 290.66 61.5 293.17 62 295.4 62.5 297.39 63 299.24 63.5 300.92 64 302.41 64.5 303.69 65 304.88 65.5 305.96 66 306.9 66.5 307.66 67 308.24 67.5 308.79 68 309.31 68.5 309.75 69 310.08 69.5 310.27 70 310.3 70.5 310.25 71 310.16 71.5 310.03 72 309.87 72.5 309.69 73 309.5 73.5 309.21 74 308.76 74.5 308.19 75 307.55 75.5 306.87 76 306.19 76.5 305.55 77 305 77.5 304.48 78 303.93 78.5 303.4 79 302.93 79.5 302.55 80 302.3 80.5 302.14 81 301.99 81.5 301.85 82 301.73 82.5 301.63 83 301.56 83.5 301.52 84 301.5 84.5 301.5 85 301.51 85.5 301.53 86 301.55 86.5 301.57 87 301.6 87.5 301.63 88 301.66 88.5 301.7 89 301.74 89.5 301.78 90 301.82 90.5 301.88 91 301.96 91.5 302.07 92 302.18 92.5 302.32 93 302.46 93.5 302.62 94 302.79 94.5 302.96 95 303.13 95.5 303.31 96 303.49 96.5 303.67 97 303.84 97.5 304.01 98 304.17 98.5 304.32 99 304.45 99.5 304.58 100 304.69 100.5 304.8 101 304.91 101.5 305.02 102 305.13 102.5 305.23 103 305.33 103.5 305.43 104 305.52 104.5 305.6 105 305.67 105.5 305.74 106 305.8 106.5 305.85 107 305.91 107.5 305.96 108 306.01 108.5 306.06 109 306.11 109.5 306.15 110 306.19 110.5 306.23 111 306.25 111.5 306.28 112 306.29 112.5 306.3 113 306.29 113.5 306.24 114 306.16 114.5 306.04 115 305.9 115.5 305.73 116 305.56 116.5 305.38 117 305.2 117.5 305.01 118 304.78 118.5 304.53 119 304.25 119.5 303.95 120 303.62 120.5 303.28 121 302.93 121.5 302.53 122 302.09 122.5 301.61 123 301.11 123.5 300.57 124 300.02 124.5 299.46 125 298.9 125.5 298.32 126 297.73 126.5 297.1 127 296.47 127.5 295.81 128 295.14 128.5 294.47 129 293.78 129.5 293.09 130 292.4 130.5 291.7 131 290.98 131.5 290.25 132 289.51 132.5 288.76 133 288.01 133.5 287.25 134 286.5 134.5 285.74 135 285 135.5 284.26 136 283.53 136.5 282.8 137 282.07 137.5 281.34 138 280.61 138.5 279.87 139 279.12 139.5 278.37 140 277.6 140.5 276.82 141 276.02 141.5 275.2 142 274.38 142.5 273.56 143 272.73 143.5 271.91 144 271.09 144.5 270.29 145 269.5 145.5 268.73 146 267.99 146.5 267.25 147 266.53 147.5 265.8 148 265.08 148.5 264.34 149 263.58 149.5 262.81 150 262 150.5 261.15 151 260.26 151.5 259.33 152 258.37 152.5 257.4 153 256.42 153.5 255.45 154 254.49 154.5 253.56 155 252.66 155.5 251.8 156 251 156.5 250.23 157 249.47 157.5 248.72 158 247.98 158.5 247.26 159 246.56 159.5 245.89 160 245.24 160.5 244.63 161 244.04 161.5 243.5 162 243 162.5 242.53 163 242.07 163.5 241.63 164 241.21 164.5 240.8 165 240.42 165.5 240.05 166 239.7 166.5 239.37 167 239.06 167.5 238.77 168 238.5 168.5 238.24 169 238 169.5 237.76 170 237.53 170.5 237.31 171 237.11 171.5 236.93 172 236.76 172.5 236.62 173 236.5 173.5 236.4 174 236.3 174.5 236.21 175 236.12 175.5 236.04 176 235.97 176.5 235.89 177 235.83 177.5 235.77 178 235.71 178.5 235.65 179 235.6 179.5 235.55 180 235.5 180.5 235.45 181 235.41 181.5 235.36 182 235.32 182.5 235.28 183 235.23 183.5 235.19 184 235.16 184.5 235.12 185 235.08 185.5 235.05 186 235.01 186.5 234.98 187 234.95 187.5 234.92 188 234.9 188.5 234.87 189 234.84 189.5 234.82 190 234.8 190.5 234.78 191 234.76 191.5 234.74 192 234.72 192.5 234.71 193 234.69 193.5 234.68 194 234.66 194.5 234.65 195 234.64 195.5 234.62 196 234.61 196.5 234.6 197 234.58 197.5 234.57 198 234.56 198.5 234.54 199 234.53 199.5 234.51 200 234.5 200.5 234.48 201 234.47 201.5 234.45 202 234.44 202.5 234.42 203 234.41 203.5 234.39 204 234.37 204.5 234.36 205 234.34 205.5 234.33 206 234.31 206.5 234.3 207 234.28 207.5 234.27 208 234.25 208.5 234.24 209 234.23 209.5 234.21 210 234.2 210.5 234.19 211 234.17 211.5 234.16 212 234.15 212.5 234.13 213 234.12 213.5 234.11 214 234.1 214.5 234.08 215 234.07 215.5 234.06 216 234.05 216.5 234.04 217 234.03 217.5 234.02 218 234.01 218.5 234.01 219 234 219.5 234 220 234 220.5 234 221 234 221.5 234.01 222 234.02 222.5 234.03 223 234.04 223.5 234.05 224 234.06 224.5 234.08 225 234.1 225.5 234.11 226 234.13 226.5 234.16 227 234.18 227.5 234.2" stroke="#2636c0" stroke-width="1.4" fill="none" stroke-linejoin="round"/>
<path d="M47.5 203.1 48 206.79 48.5 210.51 49 214.24 49.5 218 50 221.83 50.5 225.72 51 229.57 51.5 233.28 52 236.82 52.5 240.27 53 243.62 53.5 246.87 54 250 54.5 252.98 55 255.81 55.5 258.56 56 261.29 56.5 264.09 57 267 57.5 270.11 58 273.36 58.5 276.66 59 279.88 59.5 282.92 60 285.78 60.5 288.59 61 291.27 61.5 293.76 62 296 62.5 298.02 63 299.91 63.5 301.64 64 303.18 64.5 304.52 65 305.77 65.5 306.93 66 307.93 66.5 308.74 67 309.36 67.5 309.94 68 310.47 68.5 310.92 69 311.27 69.5 311.47 70 311.49 70.5 311.4 71 311.22 71.5 310.97 72 310.68 72.5 310.35 73 310 73.5 309.56 74 308.97 74.5 308.27 75 307.51 75.5 306.74 76 306 76.5 305.24 77 304.39 77.5 303.54 78 302.73 78.5 302.03 79 301.5 79.5 301.07 80 300.67 80.5 300.32 81 300.09 81.5 300 82 300.04 82.5 300.14 83 300.29 83.5 300.46 84 300.65 84.5 300.84 85 301 85.5 301.14 86 301.28 86.5 301.42 87 301.56 87.5 301.7 88 301.84 88.5 301.99 89 302.15 89.5 302.32 90 302.5 90.5 302.7 91 302.91 91.5 303.14 92 303.39 92.5 303.64 93 303.91 93.5 304.18 94 304.45 94.5 304.73 95 305 95.5 305.27 96 305.55 96.5 305.84 97 306.13 97.5 306.42 98 306.72 98.5 307.03 99 307.35 99.5 307.67 100 308 100.5 308.37 101 308.78 101.5 309.22 102 309.66 102.5 310.09 103 310.46 103.5 310.78 104 311 104.5 311.17 105 311.33 105.5 311.48 106 311.62 106.5 311.74 107 311.85 107.5 311.92 108 311.98 108.5 312 109 311.99 109.5 311.97 110 311.93 110.5 311.88 111 311.81 111.5 311.74 112 311.66 112.5 311.58 113 311.5 113.5 311.42 114 311.32 114.5 311.22 115 311.1 115.5 310.97 116 310.82 116.5 310.65 117 310.46 117.5 310.25 118 309.97 118.5 309.59 119 309.09 119.5 308.5 120 307.84 120.5 307.12 121 306.36 121.5 305.57 122 304.76 122.5 303.96 123 303.12 123.5 302.18 124 301.16 124.5 300.09 125 299.02 125.5 297.98 126 297 126.5 296.08 127 295.19 127.5 294.31 128 293.45 128.5 292.6 129 291.74 129.5 290.88 130 290 130.5 289.11 131 288.21 131.5 287.3 132 286.39 132.5 285.48 133 284.58 133.5 283.67 134 282.77 134.5 281.88 135 281 135.5 280.14 136 279.29 136.5 278.45 137 277.62 137.5 276.79 138 275.96 138.5 275.13 139 274.28 139.5 273.42 140 272.54 140.5 271.64 141 270.71 141.5 269.76 142 268.79 142.5 267.8 143 266.81 143.5 265.81 144 264.8 144.5 263.8 145 262.79 145.5 261.79 146 260.81 146.5 259.83 147 258.88 147.5 257.94 148 256.99 148.5 256.05 149 255.1 149.5 254.16 150 253.23 150.5 252.31 151 251.41 151.5 250.53 152 249.67 152.5 248.84 153 248.04 153.5 247.26 154 246.49 154.5 245.73 155 244.98 155.5 244.26 156 243.55 156.5 242.85 157 242.18 157.5 241.54 158 240.91 158.5 240.32 159 239.74 159.5 239.18 160 238.63 160.5 238.1 161 237.58 161.5 237.07 162 236.58 162.5 236.11 163 235.66 163.5 235.23 164 234.82 164.5 234.42 165 234.05 165.5 233.69 166 233.34 166.5 233 167 232.68 167.5 232.38 168 232.09 168.5 231.81 169 231.55 169.5 231.29 170 231.04 170.5 230.79 171 230.54 171.5 230.3 172 230.07 172.5 229.85 173 229.63 173.5 229.43 174 229.25 174.5 229.07 175 228.92 175.5 228.78 176 228.65 176.5 228.54 177 228.42 177.5 228.31 178 228.21 178.5 228.11 179 228.01 179.5 227.91 180 227.82 180.5 227.73 181 227.65 181.5 227.56 182 227.48 182.5 227.4 183 227.33 183.5 227.26 184 227.19 184.5 227.12 185 227.05 185.5 226.99 186 226.93 186.5 226.87 187 226.81 187.5 226.75 188 226.7 188.5 226.65 189 226.6 189.5 226.55 190 226.5 190.5 226.45 191 226.4 191.5 226.36 192 226.31 192.5 226.26 193 226.21 193.5 226.16 194 226.12 194.5 226.07 195 226.03 195.5 225.99 196 225.96 196.5 225.92 197 225.89 197.5 225.87 198 225.84 198.5 225.82 199 225.81 199.5 225.8 200 225.8 200.5 225.8 201 225.81 201.5 225.81 202 225.82 202.5 225.83 203 225.84 203.5 225.86 204 225.87 204.5 225.89 205 225.9 205.5 225.91 206 225.93 206.5 225.94 207 225.96 207.5 225.97 208 225.98 208.5 225.99 209 225.99 209.5 226 210 226 210.5 226 211 225.98 211.5 225.96 212 225.94 212.5 225.91 213 225.87 213.5 225.84 214 225.8 214.5 225.76 215 225.73 215.5 225.69 216 225.66 216.5 225.64 217 225.62 217.5 225.6 218 225.6 218.5 225.6 219 225.61 219.5 225.61 220 225.62 220.5 225.64 221 225.65 221.5 225.67 222 225.69 222.5 225.72 223 225.74 223.5 225.77 224 225.81 224.5 225.84 225 225.88 225.5 225.93 226 225.97" stroke="#1fae72" stroke-width="1.4" fill="none" stroke-linejoin="round"/>
<path d="M47.5 222 48 223.79 48.5 225.56 49 227.29 49.5 229 50 230.58 50.5 232.05 51 233.56 51.5 235.29 52 237.43 52.5 240.25 53 243.55 53.5 247.03 54 250.37 54.5 253.36 55 256.19 55.5 258.95 56 261.69 56.5 264.46 57 267.3 57.5 270.27 58 273.33 58.5 276.4 59 279.43 59.5 282.34 60 285.15 60.5 287.95 61 290.66 61.5 293.17 62 295.4 62.5 297.39 63 299.24 63.5 300.92 64 302.41 64.5 303.69 65 304.87 65.5 305.94 66 306.87 66.5 307.64 67 308.26 67.5 308.86 68 309.41 68.5 309.89 69 310.25 69.5 310.46 70 310.49 70.5 310.42 71 310.27 71.5 310.07 72 309.83 72.5 309.57 73 309.3 73.5 308.96 74 308.51 74.5 307.98 75 307.4 75.5 306.8 76 306.22 76.5 305.67 77 305.2 77.5 304.77 78 304.34 78.5 303.93 79 303.55 79.5 303.24 80 303 80.5 302.82 81 302.66 81.5 302.51 82 302.38 82.5 302.27 83 302.17 83.5 302.08 84 302 84.5 301.92 85 301.85 85.5 301.78 86 301.71 86.5 301.64 87 301.58 87.5 301.53 88 301.48 88.5 301.44 89 301.42 89.5 301.4 90 301.4 90.5 301.43 91 301.48 91.5 301.55 92 301.64 92.5 301.75 93 301.88 93.5 302.02 94 302.17 94.5 302.33 95 302.5 95.5 302.67 96 302.85 96.5 303.03 97 303.2 97.5 303.37 98 303.54 98.5 303.69 99 303.84 99.5 303.97 100 304.1 100.5 304.23 101 304.36 101.5 304.49 102 304.62 102.5 304.75 103 304.87 103.5 304.99 104 305.11 104.5 305.22 105 305.32 105.5 305.42 106 305.5 106.5 305.58 107 305.66 107.5 305.75 108 305.83 108.5 305.91 109 305.98 109.5 306.05 110 306.12 110.5 306.17 111 306.22 111.5 306.26 112 306.29 112.5 306.3 113 306.29 113.5 306.23 114 306.13 114.5 305.99 115 305.82 115.5 305.63 116 305.42 116.5 305.21 117 305 117.5 304.77 118 304.51 118.5 304.21 119 303.89 119.5 303.55 120 303.18 120.5 302.81 121 302.42 121.5 302.01 122 301.58 122.5 301.11 123 300.62 123.5 300.11 124 299.59 124.5 299.05 125 298.5 125.5 297.93 126 297.33 126.5 296.71 127 296.07 127.5 295.41 128 294.74 128.5 294.06 129 293.37 129.5 292.69 130 292 130.5 291.31 131 290.61 131.5 289.91 132 289.19 132.5 288.47 133 287.74 133.5 287.01 134 286.28 134.5 285.54 135 284.8 135.5 284.06 136 283.31 136.5 282.56 137 281.8 137.5 281.04 138 280.28 138.5 279.51 139 278.75 139.5 277.97 140 277.2 140.5 276.42 141 275.63 141.5 274.84 142 274.04 142.5 273.24 143 272.45 143.5 271.65 144 270.86 144.5 270.07 145 269.3 145.5 268.54 146 267.8 146.5 267.07 147 266.34 147.5 265.62 148 264.89 148.5 264.14 149 263.39 149.5 262.61 150 261.8 150.5 260.95 151 260.06 151.5 259.13 152 258.17 152.5 257.2 153 256.22 153.5 255.25 154 254.29 154.5 253.36 155 252.46 155.5 251.6 156 250.8 156.5 250.03 157 249.27 157.5 248.52 158 247.79 158.5 247.07 159 246.37 159.5 245.7 160 245.05 160.5 244.44 161 243.85 161.5 243.31 162 242.8 162.5 242.32 163 241.86 163.5 241.41 164 240.97 164.5 240.56 165 240.16 165.5 239.78 166 239.42 166.5 239.08 167 238.77 167.5 238.47 168 238.2 168.5 237.94 169 237.69 169.5 237.45 170 237.22 170.5 237.01 171 236.81 171.5 236.63 172 236.46 172.5 236.32 173 236.2 173.5 236.1 174 236 174.5 235.91 175 235.83 175.5 235.75 176 235.68 176.5 235.61 177 235.55 177.5 235.49 178 235.43 178.5 235.37 179 235.32 179.5 235.26 180 235.2 180.5 235.14 181 235.08 181.5 235.02 182 234.96 182.5 234.9 183 234.85 183.5 234.79 184 234.73 184.5 234.68 185 234.62 185.5 234.57 186 234.52 186.5 234.47 187 234.43 187.5 234.38 188 234.34 188.5 234.3 189 234.26 189.5 234.23 190 234.2 190.5 234.17 191 234.15 191.5 234.13 192 234.11 192.5 234.09 193 234.07 193.5 234.05 194 234.04 194.5 234.02 195 234.01 195.5 233.99 196 233.98 196.5 233.96 197 233.94 197.5 233.93 198 233.9 198.5 233.88 199 233.86 199.5 233.83 200 233.8 200.5 233.76 201 233.71 201.5 233.65 202 233.59 202.5 233.52 203 233.45 203.5 233.38 204 233.31 204.5 233.25 205 233.2 205.5 233.15 206 233.1 206.5 233.04 207 232.99 207.5 232.94 208 232.89 208.5 232.86 209 232.83 209.5 232.81 210 232.8 210.5 232.82 211 232.86 211.5 232.92 212 232.99 212.5 233.08 213 233.16 213.5 233.25 214 233.32 214.5 233.37 215 233.4 215.5 233.42 216 233.43 216.5 233.44 217 233.45 217.5 233.46 218 233.47 218.5 233.48 219 233.49 219.5 233.49 220 233.5 220.5 233.51 221 233.52 221.5 233.52 222 233.53 222.5 233.54 223 233.54 223.5 233.55 224 233.56 224.5 233.56 225 233.57 225.5 233.58 226 233.58 226.5 233.59 227 233.59 227.5 233.6 228 233.6" stroke="#b8123a" stroke-width="1.3" fill="none" stroke-linejoin="round"/>
<path d="M47.5 209.5 48 212.69 48.5 215.83 49 218.94 49.5 222 50 224.98 50.5 227.88 51 230.78 51.5 233.77 52 236.92 52.5 240.26 53 243.69 53.5 247.1 54 250.36 54.5 253.39 55 256.25 55.5 259 56 261.72 56.5 264.46 57 267.3 57.5 270.28 58 273.34 58.5 276.44 59 279.49 59.5 282.43 60 285.29 60.5 288.15 61 290.93 61.5 293.51 62 295.8 62.5 297.84 63 299.75 63.5 301.48 64 303 64.5 304.3 65 305.48 65.5 306.55 66 307.49 66.5 308.25 67 308.85 67.5 309.43 68 309.96 68.5 310.42 69 310.76 69.5 310.96 70 310.99 70.5 310.91 71 310.75 71.5 310.53 72 310.26 72.5 309.94 73 309.6 73.5 309.07 74 308.29 74.5 307.41 75 306.58 75.5 305.9 76 305.22 76.5 304.56 77 303.95 77.5 303.42 78 303 78.5 302.64 79 302.28 79.5 301.95 80 301.64 80.5 301.38 81 301.18 81.5 301.05 82 301 82.5 301.03 83 301.13 83.5 301.27 84 301.44 84.5 301.64 85 301.84 85.5 302.03 86 302.2 86.5 302.35 87 302.51 87.5 302.66 88 302.81 88.5 302.97 89 303.14 89.5 303.31 90 303.5 90.5 303.7 91 303.92 91.5 304.16 92 304.4 92.5 304.65 93 304.91 93.5 305.18 94 305.45 94.5 305.73 95 306 95.5 306.27 96 306.55 96.5 306.84 97 307.13 97.5 307.42 98 307.72 98.5 308.03 99 308.35 99.5 308.67 100 309 100.5 309.36 101 309.75 101.5 310.16 102 310.58 102.5 310.98 103 311.37 103.5 311.71 104 312 104.5 312.27 105 312.54 105.5 312.79 106 313 106.5 313.15 107 313.2 107.5 313.2 108 313.18 108.5 313.17 109 313.14 109.5 313.11 110 313.08 110.5 313.04 111 313 111.5 312.95 112 312.87 112.5 312.76 113 312.63 113.5 312.49 114 312.32 114.5 312.13 115 311.92 115.5 311.7 116 311.46 116.5 311.2 117 310.94 117.5 310.66 118 310.34 118.5 309.93 119 309.44 119.5 308.88 120 308.26 120.5 307.6 121 306.89 121.5 306.16 122 305.41 122.5 304.65 123 303.86 123.5 302.96 124 301.99 124.5 300.98 125 299.95 125.5 298.95 126 298 126.5 297.09 127 296.2 127.5 295.32 128 294.45 128.5 293.58 129 292.72 129.5 291.86 130 291 130.5 290.14 131 289.28 131.5 288.42 132 287.56 132.5 286.71 133 285.86 133.5 285.01 134 284.17 134.5 283.33 135 282.5 135.5 281.68 136 280.86 136.5 280.05 137 279.25 137.5 278.45 138 277.65 138.5 276.86 139 276.06 139.5 275.26 140 274.45 140.5 273.64 141 272.83 141.5 272 142 271.16 142.5 270.32 143 269.47 143.5 268.62 144 267.76 144.5 266.9 145 266.04 145.5 265.17 146 264.3 146.5 263.44 147 262.57 147.5 261.71 148 260.85 148.5 260 149 259.14 149.5 258.27 150 257.4 150.5 256.52 151 255.64 151.5 254.76 152 253.89 152.5 253.03 153 252.19 153.5 251.36 154 250.55 154.5 249.76 155 249 155.5 248.25 156 247.51 156.5 246.76 157 246.03 157.5 245.31 158 244.6 158.5 243.92 159 243.27 159.5 242.64 160 242.05 160.5 241.5 161 241 161.5 240.53 162 240.08 162.5 239.65 163 239.25 163.5 238.85 164 238.48 164.5 238.12 165 237.77 165.5 237.44 166 237.11 166.5 236.8 167 236.5 167.5 236.2 168 235.9 168.5 235.61 169 235.33 169.5 235.05 170 234.8 170.5 234.56 171 234.35 171.5 234.16 172 234 172.5 233.86 173 233.74 173.5 233.62 174 233.51 174.5 233.41 175 233.31 175.5 233.22 176 233.13 176.5 233.05 177 232.97 177.5 232.89 178 232.82 178.5 232.74 179 232.66 179.5 232.58 180 232.5 180.5 232.42 181 232.33 181.5 232.24 182 232.15 182.5 232.07 183 231.98 183.5 231.89 184 231.8 184.5 231.72 185 231.63 185.5 231.55 186 231.48 186.5 231.4 187 231.33 187.5 231.26 188 231.2 188.5 231.14 189 231.09 189.5 231.04 190 231 190.5 230.96 191 230.93 191.5 230.9 192 230.86 192.5 230.83 193 230.81 193.5 230.78 194 230.75 194.5 230.73 195 230.7 195.5 230.68 196 230.66 196.5 230.64 197 230.62 197.5 230.6 198 230.58 198.5 230.56 199 230.54 199.5 230.52 200 230.5 200.5 230.48 201 230.46 201.5 230.45 202 230.43 202.5 230.41 203 230.4 203.5 230.38 204 230.37 204.5 230.35 205 230.34 205.5 230.32 206 230.31 206.5 230.29 207 230.28 207.5 230.27 208 230.25 208.5 230.24 209 230.23 209.5 230.21 210 230.2 210.5 230.19 211 230.17 211.5 230.16 212 230.14 212.5 230.13 213 230.12 213.5 230.1 214 230.09 214.5 230.08 215 230.06 215.5 230.05 216 230.04 216.5 230.03 217 230.02 217.5 230.01 218 230 218.5 229.99 219 229.98 219.5 229.97 220 229.97 220.5 229.96 221 229.95 221.5 229.94 222 229.94 222.5 229.93 223 229.92 223.5 229.92 224 229.91 224.5 229.91 225 229.9 225.5 229.9" stroke="#ffa22e" stroke-width="1.4" fill="none" stroke-linejoin="round"/>
<line x1="159.9" y1="264.5" x2="169.1" y2="264.5" stroke="#ff8c8c" stroke-width="1.8"/>
<text x="174.8" y="267.1" font-size="7.3" font-weight="bold" fill="#111" stroke="#111" stroke-width="0.18">ApoA-I</text>
<line x1="159.9" y1="276" x2="169.1" y2="276" stroke="#1a22b0" stroke-width="1.8"/>
<text x="174.8" y="278.6" font-size="7.3" font-weight="bold" fill="#111" stroke="#111" stroke-width="0.18">DPPC</text>
<line x1="159.9" y1="288.4" x2="169.1" y2="288.4" stroke="#10a040" stroke-width="1.8"/>
<text x="174.8" y="291" font-size="7.3" font-weight="bold" fill="#111" stroke="#111" stroke-width="0.18">DPPC:Chol:LysoPC</text>
<line x1="159.9" y1="300.2" x2="169.1" y2="300.2" stroke="#ff1a9a" stroke-width="1.8"/>
<text x="174.8" y="302.8" font-size="7.3" font-weight="bold" fill="#111" stroke="#111" stroke-width="0.18">DPPC:CE:LysoPC</text>
<line x1="159.9" y1="312.6" x2="169.1" y2="312.6" stroke="#ffa028" stroke-width="1.8"/>
<text x="175.8" y="315.2" font-size="7.3" font-weight="bold" fill="#111" stroke="#111" stroke-width="0.18">Soy-PC</text>
<text x="251.8" y="183.7" font-size="12.5" fill="#111">D</text>
<line x1="270.3" y1="239" x2="370" y2="239" stroke="#cfcfcf" stroke-width="0.8"/>
<line x1="270.3" y1="222.5" x2="370" y2="222.5" stroke="#cfcfcf" stroke-width="0.8"/>
<line x1="270.3" y1="206" x2="370" y2="206" stroke="#cfcfcf" stroke-width="0.8"/>
<line x1="270.3" y1="189.5" x2="370" y2="189.5" stroke="#cfcfcf" stroke-width="0.8"/>
<line x1="270.3" y1="189" x2="270.3" y2="256" stroke="#888" stroke-width="0.8"/>
<line x1="269.9" y1="255.5" x2="370" y2="255.5" stroke="#888" stroke-width="0.8"/>
<text x="268" y="256.5" font-size="2.9" font-weight="bold" text-anchor="end" fill="#333" stroke="#333" stroke-width="0.25">0</text>
<text x="268" y="240" font-size="2.9" font-weight="bold" text-anchor="end" fill="#333" stroke="#333" stroke-width="0.25">200</text>
<text x="268" y="223.5" font-size="2.9" font-weight="bold" text-anchor="end" fill="#333" stroke="#333" stroke-width="0.25">400</text>
<text x="268" y="207" font-size="2.9" font-weight="bold" text-anchor="end" fill="#333" stroke="#333" stroke-width="0.25">600</text>
<text x="268" y="190.5" font-size="2.9" font-weight="bold" text-anchor="end" fill="#333" stroke="#333" stroke-width="0.25">800</text>
<text x="277.42" y="262.3" font-size="3.9" text-anchor="middle" fill="#333" stroke="#333" stroke-width="0.2">2-4</text>
<text x="291.66" y="262.3" font-size="3.9" text-anchor="middle" fill="#333" stroke="#333" stroke-width="0.2">4-6</text>
<rect x="288.66" y="251.79" width="6.0" height="3.71" fill="#0a14a0" stroke="#0a1490" stroke-width="0.5"/>
<text x="305.91" y="262.3" font-size="3.9" text-anchor="middle" fill="#333" stroke="#333" stroke-width="0.2">6-8</text>
<rect x="302.91" y="215.57" width="6.0" height="39.93" fill="#0a14a0" stroke="#0a1490" stroke-width="0.5"/>
<text x="320.15" y="262.3" font-size="3.9" text-anchor="middle" fill="#333" stroke="#333" stroke-width="0.2">8-10</text>
<rect x="317.15" y="195.03" width="6.0" height="60.47" fill="#0a14a0" stroke="#0a1490" stroke-width="0.5"/>
<text x="334.39" y="262.3" font-size="3.9" text-anchor="middle" fill="#333" stroke="#333" stroke-width="0.2">10-12</text>
<rect x="331.39" y="217.38" width="6.0" height="38.12" fill="#0a14a0" stroke="#0a1490" stroke-width="0.5"/>
<text x="348.64" y="262.3" font-size="3.9" text-anchor="middle" fill="#333" stroke="#333" stroke-width="0.2">12-14</text>
<rect x="345.64" y="250.96" width="6.0" height="4.54" fill="#0a14a0" stroke="#0a1490" stroke-width="0.5"/>
<text x="362.88" y="262.3" font-size="3.9" text-anchor="middle" fill="#333" stroke="#333" stroke-width="0.2">14-16</text>
<text x="317.6" y="184.2" font-size="5.9" font-weight="bold" text-anchor="middle" textLength="14.2" lengthAdjust="spacingAndGlyphs" fill="#111" stroke="#111" stroke-width="0.2">DPPC</text>
<text x="325.5" y="273.9" font-size="7.2" text-anchor="middle" textLength="27" lengthAdjust="spacingAndGlyphs" fill="#222" stroke="#222" stroke-width="0.15">Size (nm)</text>
<text transform="translate(259.7,222.5) rotate(-90)" font-size="6.8" text-anchor="middle" textLength="46" lengthAdjust="spacingAndGlyphs" fill="#222" stroke="#222" stroke-width="0.15">Particle number</text>
<line x1="391" y1="239.03" x2="492" y2="239.03" stroke="#cfcfcf" stroke-width="0.8"/>
<line x1="391" y1="222.65" x2="492" y2="222.65" stroke="#cfcfcf" stroke-width="0.8"/>
<line x1="391" y1="206.28" x2="492" y2="206.28" stroke="#cfcfcf" stroke-width="0.8"/>
<line x1="391" y1="189.9" x2="492" y2="189.9" stroke="#cfcfcf" stroke-width="0.8"/>
<line x1="391" y1="189.4" x2="391" y2="255.9" stroke="#888" stroke-width="0.8"/>
<line x1="390.6" y1="255.4" x2="492" y2="255.4" stroke="#888" stroke-width="0.8"/>
<text x="388.7" y="256.4" font-size="2.9" font-weight="bold" text-anchor="end" fill="#333" stroke="#333" stroke-width="0.25">0</text>
<text x="388.7" y="240.03" font-size="2.9" font-weight="bold" text-anchor="end" fill="#333" stroke="#333" stroke-width="0.25">200</text>
<text x="388.7" y="223.65" font-size="2.9" font-weight="bold" text-anchor="end" fill="#333" stroke="#333" stroke-width="0.25">400</text>
<text x="388.7" y="207.28" font-size="2.9" font-weight="bold" text-anchor="end" fill="#333" stroke="#333" stroke-width="0.25">600</text>
<text x="388.7" y="190.9" font-size="2.9" font-weight="bold" text-anchor="end" fill="#333" stroke="#333" stroke-width="0.25">800</text>
<text x="398.21" y="262.2" font-size="3.9" text-anchor="middle" fill="#333" stroke="#333" stroke-width="0.2">2-4</text>
<text x="412.64" y="262.2" font-size="3.9" text-anchor="middle" fill="#333" stroke="#333" stroke-width="0.2">4-6</text>
<rect x="409.64" y="252.45" width="6.0" height="2.95" fill="#0b8c0b" stroke="#064d06" stroke-width="0.5"/>
<text x="427.07" y="262.2" font-size="3.9" text-anchor="middle" fill="#333" stroke="#333" stroke-width="0.2">6-8</text>
<rect x="424.07" y="223.31" width="6.0" height="32.09" fill="#0b8c0b" stroke="#064d06" stroke-width="0.5"/>
<text x="441.5" y="262.2" font-size="3.9" text-anchor="middle" fill="#333" stroke="#333" stroke-width="0.2">8-10</text>
<rect x="438.5" y="198.33" width="6.0" height="57.07" fill="#0b8c0b" stroke="#064d06" stroke-width="0.5"/>
<text x="455.93" y="262.2" font-size="3.9" text-anchor="middle" fill="#333" stroke="#333" stroke-width="0.2">10-12</text>
<rect x="452.93" y="212.01" width="6.0" height="43.39" fill="#0b8c0b" stroke="#064d06" stroke-width="0.5"/>
<text x="470.36" y="262.2" font-size="3.9" text-anchor="middle" fill="#333" stroke="#333" stroke-width="0.2">12-14</text>
<rect x="467.36" y="250.81" width="6.0" height="4.58" fill="#0b8c0b" stroke="#064d06" stroke-width="0.5"/>
<text x="484.79" y="262.2" font-size="3.9" text-anchor="middle" fill="#333" stroke="#333" stroke-width="0.2">14-16</text>
<rect x="481.79" y="254.99" width="6.0" height="0.41" fill="#0b8c0b" stroke="#064d06" stroke-width="0.5"/>
<text x="437.9" y="184.3" font-size="5.9" font-weight="bold" text-anchor="middle" textLength="52.5" lengthAdjust="spacingAndGlyphs" fill="#111" stroke="#111" stroke-width="0.2">DPPC:Chol:LysoPC</text>
<text x="443.7" y="273.8" font-size="7.2" text-anchor="middle" textLength="27" lengthAdjust="spacingAndGlyphs" fill="#222" stroke="#222" stroke-width="0.15">Size (nm)</text>
<text transform="translate(380.4,222.65) rotate(-90)" font-size="6.8" text-anchor="middle" textLength="46" lengthAdjust="spacingAndGlyphs" fill="#222" stroke="#222" stroke-width="0.15">Particle number</text>
<line x1="271.1" y1="350.18" x2="372.8" y2="350.18" stroke="#cfcfcf" stroke-width="0.8"/>
<line x1="271.1" y1="333.55" x2="372.8" y2="333.55" stroke="#cfcfcf" stroke-width="0.8"/>
<line x1="271.1" y1="316.93" x2="372.8" y2="316.93" stroke="#cfcfcf" stroke-width="0.8"/>
<line x1="271.1" y1="300.3" x2="372.8" y2="300.3" stroke="#cfcfcf" stroke-width="0.8"/>
<line x1="271.1" y1="299.8" x2="271.1" y2="367.3" stroke="#888" stroke-width="0.8"/>
<line x1="270.7" y1="366.8" x2="372.8" y2="366.8" stroke="#888" stroke-width="0.8"/>
<text x="268.8" y="367.8" font-size="2.9" font-weight="bold" text-anchor="end" fill="#333" stroke="#333" stroke-width="0.25">0</text>
<text x="268.8" y="351.18" font-size="2.9" font-weight="bold" text-anchor="end" fill="#333" stroke="#333" stroke-width="0.25">200</text>
<text x="268.8" y="334.55" font-size="2.9" font-weight="bold" text-anchor="end" fill="#333" stroke="#333" stroke-width="0.25">400</text>
<text x="268.8" y="317.93" font-size="2.9" font-weight="bold" text-anchor="end" fill="#333" stroke="#333" stroke-width="0.25">600</text>
<text x="268.8" y="301.3" font-size="2.9" font-weight="bold" text-anchor="end" fill="#333" stroke="#333" stroke-width="0.25">800</text>
<text x="278.36" y="373.6" font-size="3.9" text-anchor="middle" fill="#333" stroke="#333" stroke-width="0.2">2-4</text>
<text x="292.89" y="373.6" font-size="3.9" text-anchor="middle" fill="#333" stroke="#333" stroke-width="0.2">4-6</text>
<rect x="289.89" y="363.06" width="6.0" height="3.74" fill="#ff1f95" stroke="#b0105f" stroke-width="0.5"/>
<text x="307.42" y="373.6" font-size="3.9" text-anchor="middle" fill="#333" stroke="#333" stroke-width="0.2">6-8</text>
<rect x="304.42" y="334.05" width="6.0" height="32.75" fill="#ff1f95" stroke="#b0105f" stroke-width="0.5"/>
<text x="321.95" y="373.6" font-size="3.9" text-anchor="middle" fill="#333" stroke="#333" stroke-width="0.2">8-10</text>
<rect x="318.95" y="309.19" width="6.0" height="57.61" fill="#ff1f95" stroke="#b0105f" stroke-width="0.5"/>
<text x="336.48" y="373.6" font-size="3.9" text-anchor="middle" fill="#333" stroke="#333" stroke-width="0.2">10-12</text>
<rect x="333.48" y="322.83" width="6.0" height="43.97" fill="#ff1f95" stroke="#b0105f" stroke-width="0.5"/>
<text x="351.01" y="373.6" font-size="3.9" text-anchor="middle" fill="#333" stroke="#333" stroke-width="0.2">12-14</text>
<rect x="348.01" y="341.53" width="6.0" height="25.27" fill="#ff1f95" stroke="#b0105f" stroke-width="0.5"/>
<text x="365.54" y="373.6" font-size="3.9" text-anchor="middle" fill="#333" stroke="#333" stroke-width="0.2">14-16</text>
<rect x="362.54" y="366.47" width="6.0" height="0.33" fill="#ff1f95" stroke="#b0105f" stroke-width="0.5"/>
<text x="317.6" y="295.9" font-size="5.9" font-weight="bold" text-anchor="middle" textLength="45.8" lengthAdjust="spacingAndGlyphs" fill="#111" stroke="#111" stroke-width="0.2">DPPC:CE:LysoPC</text>
<text x="325.5" y="380.7" font-size="7.2" text-anchor="middle" textLength="27" lengthAdjust="spacingAndGlyphs" fill="#222" stroke="#222" stroke-width="0.15">Size (nm)</text>
<text transform="translate(260.5,333.55) rotate(-90)" font-size="6.8" text-anchor="middle" textLength="46" lengthAdjust="spacingAndGlyphs" fill="#222" stroke="#222" stroke-width="0.15">Particle number</text>
<line x1="391.9" y1="350.18" x2="492.1" y2="350.18" stroke="#cfcfcf" stroke-width="0.8"/>
<line x1="391.9" y1="333.55" x2="492.1" y2="333.55" stroke="#cfcfcf" stroke-width="0.8"/>
<line x1="391.9" y1="316.93" x2="492.1" y2="316.93" stroke="#cfcfcf" stroke-width="0.8"/>
<line x1="391.9" y1="300.3" x2="492.1" y2="300.3" stroke="#cfcfcf" stroke-width="0.8"/>
<line x1="391.9" y1="299.8" x2="391.9" y2="367.3" stroke="#888" stroke-width="0.8"/>
<line x1="391.5" y1="366.8" x2="492.1" y2="366.8" stroke="#888" stroke-width="0.8"/>
<text x="389.6" y="367.8" font-size="2.9" font-weight="bold" text-anchor="end" fill="#333" stroke="#333" stroke-width="0.25">0</text>
<text x="389.6" y="351.18" font-size="2.9" font-weight="bold" text-anchor="end" fill="#333" stroke="#333" stroke-width="0.25">200</text>
<text x="389.6" y="334.55" font-size="2.9" font-weight="bold" text-anchor="end" fill="#333" stroke="#333" stroke-width="0.25">400</text>
<text x="389.6" y="317.93" font-size="2.9" font-weight="bold" text-anchor="end" fill="#333" stroke="#333" stroke-width="0.25">600</text>
<text x="389.6" y="301.3" font-size="2.9" font-weight="bold" text-anchor="end" fill="#333" stroke="#333" stroke-width="0.25">800</text>
<text x="399.06" y="373.6" font-size="3.9" text-anchor="middle" fill="#333" stroke="#333" stroke-width="0.2">2-4</text>
<text x="413.37" y="373.6" font-size="3.9" text-anchor="middle" fill="#333" stroke="#333" stroke-width="0.2">4-6</text>
<rect x="410.37" y="351.84" width="6.0" height="14.96" fill="#ff9000" stroke="#b06000" stroke-width="0.5"/>
<text x="427.69" y="373.6" font-size="3.9" text-anchor="middle" fill="#333" stroke="#333" stroke-width="0.2">6-8</text>
<rect x="424.69" y="325.07" width="6.0" height="41.73" fill="#ff9000" stroke="#b06000" stroke-width="0.5"/>
<text x="442" y="373.6" font-size="3.9" text-anchor="middle" fill="#333" stroke="#333" stroke-width="0.2">8-10</text>
<rect x="439" y="306.78" width="6.0" height="60.02" fill="#ff9000" stroke="#b06000" stroke-width="0.5"/>
<text x="456.31" y="373.6" font-size="3.9" text-anchor="middle" fill="#333" stroke="#333" stroke-width="0.2">10-12</text>
<rect x="453.31" y="339.95" width="6.0" height="26.85" fill="#ff9000" stroke="#b06000" stroke-width="0.5"/>
<text x="470.63" y="373.6" font-size="3.9" text-anchor="middle" fill="#333" stroke="#333" stroke-width="0.2">12-14</text>
<rect x="467.63" y="351.84" width="6.0" height="14.96" fill="#ff9000" stroke="#b06000" stroke-width="0.5"/>
<text x="484.94" y="373.6" font-size="3.9" text-anchor="middle" fill="#333" stroke="#333" stroke-width="0.2">14-16</text>
<rect x="481.94" y="365.14" width="6.0" height="1.66" fill="#ff9000" stroke="#b06000" stroke-width="0.5"/>
<text x="439.3" y="295.3" font-size="5.9" font-weight="bold" text-anchor="middle" textLength="19.3" lengthAdjust="spacingAndGlyphs" fill="#111" stroke="#111" stroke-width="0.2">Soy-PC</text>
<text x="443" y="380.7" font-size="7.2" text-anchor="middle" textLength="27" lengthAdjust="spacingAndGlyphs" fill="#222" stroke="#222" stroke-width="0.15">Size (nm)</text>
<text transform="translate(381.3,333.55) rotate(-90)" font-size="6.8" text-anchor="middle" textLength="46" lengthAdjust="spacingAndGlyphs" fill="#222" stroke="#222" stroke-width="0.15">Particle number</text>
<text x="14.1" y="396.2" font-size="12" fill="#111">E</text>
<text x="10" y="421.9" font-size="10.4" font-weight="bold" textLength="25.0" lengthAdjust="spacingAndGlyphs" fill="#0a0a0a" stroke="#0a0a0a" stroke-width="0.25">DPPC</text>
<text x="143.8" y="422.1" font-size="10.4" font-weight="bold" textLength="84.8" lengthAdjust="spacingAndGlyphs" fill="#0a0a0a" stroke="#0a0a0a" stroke-width="0.25">DPPC:Chol:LysoPC</text>
<text x="276" y="422.1" font-size="10.4" font-weight="bold" textLength="74.6" lengthAdjust="spacingAndGlyphs" fill="#0a0a0a" stroke="#0a0a0a" stroke-width="0.25">DPPC:CE:LysoPC</text>
<text x="408.8" y="422.1" font-size="10.4" font-weight="bold" textLength="31.6" lengthAdjust="spacingAndGlyphs" fill="#0a0a0a" stroke="#0a0a0a" stroke-width="0.25">Soy-PC</text>
<defs>
<clipPath id="cp0"><rect x="4" y="428.3" width="118.1" height="117.3"/></clipPath>
<filter id="bl0" filterUnits="userSpaceOnUse" x="4" y="428.3" width="118.1" height="117.3"><feGaussianBlur stdDeviation="0.5"/></filter>
<clipPath id="cp1"><rect x="136.5" y="428.1" width="117.9" height="117.7"/></clipPath>
<filter id="bl1" filterUnits="userSpaceOnUse" x="136.5" y="428.1" width="117.9" height="117.7"><feGaussianBlur stdDeviation="0.5"/></filter>
<clipPath id="cp2"><rect x="269.6" y="427.3" width="117.9" height="118.2"/></clipPath>
<filter id="bl2" filterUnits="userSpaceOnUse" x="269.6" y="427.3" width="117.9" height="118.2"><feGaussianBlur stdDeviation="0.5"/></filter>
<clipPath id="cp3"><rect x="402.3" y="427.3" width="117.3" height="117.4"/></clipPath>
<filter id="bl3" filterUnits="userSpaceOnUse" x="402.3" y="427.3" width="117.3" height="117.4"><feGaussianBlur stdDeviation="0.5"/></filter>
<filter id="soy" color-interpolation-filters="sRGB" filterUnits="userSpaceOnUse" x="402.3" y="427.3" width="117.3" height="117.4"><feTurbulence type="fractalNoise" baseFrequency="0.8" numOctaves="2" seed="3" result="t"/><feColorMatrix type="matrix" values="0.95 0 0 0 0.14  0.95 0 0 0 0.14  0.95 0 0 0 0.14  0 0 0 0 1" in="t"/><feGaussianBlur stdDeviation="0.35"/></filter>
<filter id="ceg" color-interpolation-filters="sRGB" filterUnits="userSpaceOnUse" x="269.6" y="427.3" width="117.9" height="118.2"><feTurbulence type="fractalNoise" baseFrequency="0.7" numOctaves="2" seed="5"/><feColorMatrix type="matrix" values="1.6 0 0 0 -0.3  1.6 0 0 0 -0.3  1.6 0 0 0 -0.3  0 0 0 0 1"/></filter>
<filter id="mtD0" color-interpolation-filters="sRGB" filterUnits="userSpaceOnUse" x="4" y="428.3" width="118.1" height="117.3"><feTurbulence type="fractalNoise" baseFrequency="0.12" numOctaves="3" seed="1"/><feColorMatrix type="matrix" values="0 0 0 0 0  0 0 0 0 0  0 0 0 0 0  1.6 0 0 0 -0.8"/></filter>
<filter id="mtL0" color-interpolation-filters="sRGB" filterUnits="userSpaceOnUse" x="4" y="428.3" width="118.1" height="117.3"><feTurbulence type="fractalNoise" baseFrequency="0.12" numOctaves="3" seed="1"/><feColorMatrix type="matrix" values="0 0 0 0 1  0 0 0 0 1  0 0 0 0 1  -1.6 0 0 0 0.8"/></filter>
<filter id="mtD1" color-interpolation-filters="sRGB" filterUnits="userSpaceOnUse" x="136.5" y="428.1" width="117.9" height="117.7"><feTurbulence type="fractalNoise" baseFrequency="0.12" numOctaves="3" seed="8"/><feColorMatrix type="matrix" values="0 0 0 0 0  0 0 0 0 0  0 0 0 0 0  1.6 0 0 0 -0.8"/></filter>
<filter id="mtL1" color-interpolation-filters="sRGB" filterUnits="userSpaceOnUse" x="136.5" y="428.1" width="117.9" height="117.7"><feTurbulence type="fractalNoise" baseFrequency="0.12" numOctaves="3" seed="8"/><feColorMatrix type="matrix" values="0 0 0 0 1  0 0 0 0 1  0 0 0 0 1  -1.6 0 0 0 0.8"/></filter>
<filter id="mtD2" color-interpolation-filters="sRGB" filterUnits="userSpaceOnUse" x="269.6" y="427.3" width="117.9" height="118.2"><feTurbulence type="fractalNoise" baseFrequency="0.12" numOctaves="3" seed="15"/><feColorMatrix type="matrix" values="0 0 0 0 0  0 0 0 0 0  0 0 0 0 0  1.6 0 0 0 -0.8"/></filter>
<filter id="mtL2" color-interpolation-filters="sRGB" filterUnits="userSpaceOnUse" x="269.6" y="427.3" width="117.9" height="118.2"><feTurbulence type="fractalNoise" baseFrequency="0.12" numOctaves="3" seed="15"/><feColorMatrix type="matrix" values="0 0 0 0 1  0 0 0 0 1  0 0 0 0 1  -1.6 0 0 0 0.8"/></filter>
<filter id="mtD3" color-interpolation-filters="sRGB" filterUnits="userSpaceOnUse" x="402.3" y="427.3" width="117.3" height="117.4"><feTurbulence type="fractalNoise" baseFrequency="0.12" numOctaves="3" seed="22"/><feColorMatrix type="matrix" values="0 0 0 0 0  0 0 0 0 0  0 0 0 0 0  1.6 0 0 0 -0.8"/></filter>
<filter id="mtL3" color-interpolation-filters="sRGB" filterUnits="userSpaceOnUse" x="402.3" y="427.3" width="117.3" height="117.4"><feTurbulence type="fractalNoise" baseFrequency="0.12" numOctaves="3" seed="22"/><feColorMatrix type="matrix" values="0 0 0 0 1  0 0 0 0 1  0 0 0 0 1  -1.6 0 0 0 0.8"/></filter>
</defs>
<g clip-path="url(#cp0)"><g filter="url(#bl0)"><rect x="4" y="428.3" width="118.1" height="117.3" fill="#5a5a5a"/>
<path d="M17.65 529.4l0.04 0.77M55.49 486.15l-0.3 0.56M30.16 453.54l-0.47 0.46M104.96 493.87l-0.02 0.07M124.06 531.01l0.24 0.65M104.05 507.8l-0.08 0.29M38.99 497.74l-0.69 0.02M65.36 473.77l0.57 0.04M119.52 425.87l0.52 0.28M70.63 477.52l0.07 0.62M23.22 497.1l-0.45 0.53M14.51 502.13l0.15 0.42M75.67 526.04l0.98 0.01M85.11 492.24l0.1 0.44M28.23 545.52l0.29 0.15M28.6 505.26l0.2 0M40.83 503.09l0.07 0M71.77 446.31l0.01 0.28M25.52 465.71l0.81 0.01M11.55 446.07l-0.08 0.31M17.82 492.97l-0.05 0.57M111.61 494.59l-0.12 0.61M35.72 522.19l-0.64 0.31M97.12 546.73l0.41 0.01M54.73 444.57l-0.07 0.39M68.74 492.04l0.85 0.02M49.98 466.82l0.26 0.47M81.62 476.63l-0.79 0.1M50.67 500.69l0.22 0.26M113.55 538.27l0 0.36M20.85 519.53l-0.12 0.43M75.46 475.43l0.18 0.4M55.56 427.79l-0.21 0.2M78.67 499.69l0.41 0.57M48.75 460.09l-0.37 0.46M15.93 517.36l-0.55 0.16M62.09 504.73l0 0.85M38.83 446.11l0.13 0.39M51.4 531.09l-0.21 0.81M68.54 443.73l0.01 0.64M82.58 427.59l-0.13 0.29M86.97 474.82l-0.58 0.07M4.7 536.1l0.18 0.19M27.74 429.52l0.26 0.12M43.41 528.29l0.18 0.64M124.45 430.88l-0.09 0.24M95.18 443.94l-0.08 0.27M17.11 481.95l0.04 0.85M83.14 472.99l0.27 0.72M74 468.25l0.56 0.31M25.54 533.54l0.39 0.56M66.08 436.03l0.02 0.82M81.79 480.45l0.38 0.33M104.45 461.11l-0.5 0.22M6.47 525.46l-0.12 0.65M81.88 463.54l-0.16 0.86M60.28 537.66l0.5 0.39M22.84 531.52l-0.64 0.08M124.8 456.76l0.15 0.34M25.87 517.29l0.25 0.17M86.34 478.74l0.91 0.03M43.74 541.8l0.58 0.3M52.65 534.78l0.11 0.02M68.56 451.54l0.1 0.44M124 506.2l-0.53 0.29M75.27 543.27l0.01 0.82M110.65 481.6l-0.19 0.72M7.58 482.9l0.07 0.9M31.39 524.95l0.08 0.02M96.53 514.47l0.83 0.01M80.72 484.03l-0.24 0.64M91.73 466.51l-0.01 0.46M15.75 450.07l0.51 0.15M57.57 528.07l0.64 0.13M35.65 531.93l-0.36 0.05M42.66 470.42l0.25 0.6M78.54 472.49l0.24 0.28M45.66 521.98l-0.89 0.19M108.48 434.33l0.04 0.24M42.54 427.53l-0.5 0.16M27.17 455.37l-0.18 0.77M71.31 532.92l0.11 0.29M81.83 488.12l0.78 0.01M92.47 501.37l-0.62 0.3M5.9 449l-0.76 0.42M49.67 430.25l-0.03 0.18M40.95 544.92l-0.07 0.22M68.05 462.41l0.22 0.49M3.76 500.5l-0.11 0.24M5.04 503.77l0.36 0.07M1.12 463.79l0.22 0.01M96.1 481.48l0.45 0.35M94.14 460.26l-0.06 0.13M107.17 446.36l0.18 0.08M23.58 484.18l-0.5 0.43M119.99 537.09l-0.37 0.73M3.84 495.47l0 0.11M47.42 503.8l-0.51 0.02M116.76 429.01l0.04 0.96M64.29 458.69l0.34 0.25M54.89 528.13l-0.9 0.32M102.13 439.29l0.06 0.15M116.82 541.82l-0.18 0.42M39.37 493.59l-0.09 0.9M93.48 524.03l0.19 0.85M114.06 548.45l-0.36 0.04M61.27 448.78l0.08 0.78M70.09 496.07l0.02 0.42M20.14 449.99l0.5 0.17M38.28 451.27l-0.26 0.04M116.09 498.42l0.05 0.23M55.09 543.62l0.03 0.79M101.14 454.28l0.21 0.04M115.85 534.46l0.25 0.48M17.99 534.11l-0.02 0.72M56.46 461.23l0.26 0.24M114.06 455.58l0.04 0.67M120.31 458.91l-0.26 0.32M109.44 450.32l-0.86 0.15M58.78 505.87l-0.55 0.33M65.8 477.74l-0.29 0.11M12.46 468.12l-0.3 0.64M55.71 464.6l-0.22 0.47M33.98 541.67l-0.51 0.01M93.21 538.5l-0.12 0.37M29.74 442.92l0.19 0.02M7.26 499.82l0.42 0.37M112.37 499.5l0.23 0.25M84.49 543.13l-0.34 0.29M88.89 459.59l0.07 0.22M41.38 513.35l-0.17 0.13M85.43 486.13l-0.24 0.18M7.82 465.61l0.8 0.2M124.55 469.21l-0.1 0.55M47.9 469.98l-0.13 0.64M55.52 476.9l-0.08 0.42M27.38 537.24l-0.19 0.71M32.84 455.24l0.12 0.9M92.21 426.96l0.13 0.1M72.06 457.44l0.93 0.16M56.06 455.57l0.86 0.02M98.63 442.62l0.65 0.28M112.36 485.05l0.39 0.52M25.02 503.58l0.09 0.28M66.25 454.21l-0.11 0.06M6.85 517.02l0.09 0.16M2 547.66l-0.17 0.6M1.86 475.72l0.59 0.46M90.49 521.88l-0.09 0.12M52.8 462.71l-0.46 0.24M1.34 470.55l0.13 0.01M1.66 434.59l-0.1 0.02M58.81 519.74l0.12 0.44M60.85 512.04l-0.53 0.63M61.33 527.08l0.05 0.09M18.97 548.24l-0.17 0.45M100.52 506.46l0.15 0.61M1.66 489.2l0.14 0.12M18.96 502.81l0.11 0.38M11.96 542.7l-0.16 0.28M1.5 454.6l-0.67 0.01M30.18 473.81l0.22 0.09M73.61 434.04l0.39 0.26M92.76 494.08l-0.32 0.12M2.03 515.78l-0.03 0.64M17.09 520.73l-0.92 0.09M116.01 439.7l0.07 0.18M59.78 439.92l-0.42 0.39M67.57 509.91l-0.65 0.48M8.86 489.73l-0.06 0.45M38.75 505.73l-0.31 0.26M17.14 478.85l-0.51 0.02M74.62 484.79l-0.23 0.61M16.87 427.99l0.01 0.94M108.13 495.69l0.18 0.58M123.48 510.15l0.11 0.01M11.16 533.3l0.2 0.7M109.58 430.19l-0.01 0.9M21.15 434.6l-0.05 0.65M109.16 484.73l-0.77 0.49M107.75 461.12l0.29 0.75M31.58 496.12l-0.08 0.01" stroke="#919191" stroke-width="3.3" stroke-linecap="round" fill="none" opacity="1.0"/><path d="M12.61 428.6l0.07 0.39M95.55 425.34l0.1 0.45M29.25 541.57l0.28 0.56M37.03 427.67l-0.13 0.57M15.61 466.29l0.78 0.05M34.47 492.73l-0.1 0.28M7.97 532.56l-0.01 0.02M14.52 536.09l-0.04 0.31M102.59 543.74l0.2 0.4M37.6 486.57l0.29 0.7M110.47 509.77l0.07 0.51M43.29 461.06l-0.12 0.3M98.1 471.7l-0.12 0.42M15.34 445.64l0.01 0.59M32.58 484l-0.27 0.23M82.03 504.55l-0.23 0.18M39.29 465.58l-0.44 0.14M42.52 492.12l-0.06 0.57M112.05 442.74l-0.26 0.06M120.49 524.69l0.13 0.53M16.24 457.25l0.57 0M7.3 434.09l-0.64 0.06M106.87 535.72l0.79 0.27M120.43 495.66l-0.57 0.14M95.08 431.53l-0.09 0.39M101.38 502.54l-0.22 0.5M82.99 511.59l-0.23 0.14M121.84 472.31l-0.63 0.27M15.65 461.69l0 0.09M1.39 448.69l0.21 0.04M14.48 524.6l-0.13 0.53M55.86 480.59l0.05 0.28M38.77 474.3l0.11 0.49M75.28 533.58l-0.1 0.87M45.25 425.65l0.7 0.16M62.33 517.18l-0.37 0.15M44.63 457.76l-0.53 0.33M88.82 532.97l0.09 0.17M21.93 505.78l-0.03 0.09M90.44 462.75l-0.55 0.45M14.5 474.02l-0.6 0.47M24.09 431.66l0.18 0.93M15.67 510.47l-0.03 0.46M34.81 439.51l0.29 0.55M80.49 517.09l-0.75 0.05M80.76 455.24l-0.28 0.07M65.8 432.47l0 0.65M53.64 506.68l-0.01 0.59M106.71 530.25l0.67 0.25M56.09 441.1l-0.14 0.01M123.53 513.98l0.18 0.04M67.3 535.5l0.34 0.76M63.18 489.88l0.01 0.59M118.02 504.6l-0.15 0.09M111.81 477.65l-0.03 0.21M74.18 460.6l-0.02 0.2M60.55 542.28l-0.02 0.85M33.49 459.64l0.87 0.06M48.61 536.92l0.68 0.03M43.16 499.98l-0.32 0.01M88.49 494.72l-0.51 0.01M86.29 453.17l-0.62 0.05M11.41 452.93l0.17 0.11M85.29 430.16l0.49 0.39M10.98 514.47l-0.77 0.43M64.78 464.66l0.32 0.64M48.46 528.11l0.2 0.01M22.59 513.49l0.19 0.34M115.97 528.66l0.08 0.36M100.25 460.54l-0.46 0.67M114.03 491.5l0.45 0.21M49.62 425.57l-0.25 0.76M39.41 459.43l0.62 0.32M60.7 500.5l0.24 0.91M8.71 536.84l0.59 0.3M54.27 497.68l-0.6 0.4M73.93 529.81l0.42 0.82M79.73 529.3l-0.01 0.9M102.95 548.06l-0.01 0.01M90.77 452.1l-0.03 0.6M25.11 447.5l0.24 0.37M70.92 524.34l0.02 0.6M25.88 540.85l-0.38 0.08M109.51 488.17l0 0.82M64.78 441.12l-0.66 0.34M78.8 441.96l0.09 0.03M16.25 542.14l-0.62 0.23M54.74 434.01l0.01 0.87M50.2 489.56l0.13 0.28M74.97 447.51l0.45 0.07M57 533.4l0.69 0.1M40.63 442.19l-0.51 0.02M95.19 507.24l0.18 0.48M8.77 443.48l0.14 0.1M67.66 520.1l0.16 0.19M44.68 537.6l0.74 0.01M124.11 527.66l0.13 0.31M1.6 484.23l-0.01 0.8M27.56 522.71l0.49 0M70.12 426.05l-0.22 0.91M101.97 540.6l-0.31 0M78.01 445.29l-0.12 0.11M85.45 521.31l-0.29 0.1M103.41 444.9l-0.96 0.06M101.1 431.28l0.49 0.33M14.51 431.83l0.76 0.02M86.7 470.93l-0.59 0.06M116.84 486.02l0.03 0.33M28.39 531.21l-0.45 0.18M96.08 531.65l0.46 0.35M28.6 436.97l-0.57 0.3M63.82 509.1l-0.63 0.05M101.09 493.81l-0.85 0.15M7.61 506.72l0.91 0.07M58.77 435.55l-0.66 0.1M13.08 520.31l0.01 0.49M81.78 443.51l0.17 0.57M9.01 430.48l0.54 0.15M105.4 487.98l0.4 0.79M90.92 436.28l0.17 0.91M26.56 471.9l0 0.83M18.65 442.52l-0.57 0.41M102.8 520.97l0.56 0.25M10.39 497.53l-0.01 0.47M53.72 492.36l-0.35 0.02M36.71 443.24l0.09 0.08M65.56 538.83l-0.14 0.12M50.22 438.15l0 0.04M12.23 539.05l0.13 0.14M57.59 449.68l-0.01 0.46M74.42 425.88l0.2 0.46M120.36 464.34l-0.07 0.76M29.39 491.82l0.06 0.73M118.32 490.76l-0.45 0.22M54.25 503.35l0.23 0.36M80.12 431.05l-0.09 0.97M68.7 466.71l-0.11 0.19M53.22 431.23l-0.04 0.13M47.22 486.64l0.27 0.13M43.73 547.14l0.17 0.66M7.62 456.63l0.58 0.64M124.83 539.57l-0.07 0.05M67.25 470.22l-0.06 0.09M62.65 425.44l-0.01 0.22M84.34 507.84l-0.64 0.1M68.08 447.57l-0.56 0.25M51.89 511.02l0.45 0.32M58.55 489.89l0.04 0.12M124.62 543.49l0.29 0.12M91.33 447.28l0.19 0.2M82.09 451.22l-0.17 0.6M28.7 486.48l-0.6 0.27M37.45 514.79l0.73 0.01M97.58 452.94l-0.05 0.12M119.24 499.2l0.59 0.12M35.84 478.29l0 0.58M72.05 453.94l0.25 0.28M43.22 464.97l-0.07 0.48M31.4 437.77l0.9 0.08M21.01 528.14l-0.36 0.34M106.7 548l-0.44 0.14M80.98 437.19l0.31 0.42M71.23 473.92l0.08 0.98M116.38 494.62l0.31 0.48M86.01 524.7l-0.1 0.24M15.35 485.31l-0.42 0.01M44.36 514.29l0.54 0.19" stroke="#9e9e9e" stroke-width="3.3" stroke-linecap="round" fill="none" opacity="1.0"/><path d="M81.58 522.3l0.57 0.49M4.05 491.83l0.22 0.45M4.28 452.28l0.65 0.71M99.78 476.31l0.35 0.14M22.32 492.84l0.3 0.26M88.45 508.18l-0.41 0.56M62.01 428.94l-0.47 0.02M123.06 497.99l-0.1 0.89M63.15 546.38l0.36 0.03M107.76 453.49l0 0.87M68.14 502.16l-0.63 0.03M3.14 427.07l-0.13 0.05M21.42 458.95l0.89 0M53.2 448.3l0.07 0.37M19.19 513.92l-0.03 0.03M49.92 496.29l0.17 0.03M121.12 533.23l-0.01 0.04M39.47 541.01l0.1 0.2M93.69 476.56l-0.77 0.11M32.16 426.1l0.31 0.48M88.51 487.83l-0.28 0.42M26.54 508.41l0 0.03M14.22 507.28l-0.52 0.27M43.47 451.54l-0.79 0.05M116.8 467.57l-0.23 0.25M30.38 514.52l-0.51 0.47M108.65 499.62l-0.01 0.31M69.39 434l0.02 0.09M10.41 503.45l-0.17 0.39M62.35 531.5l-0.27 0.34M100.52 537.13l0.47 0.05M86.67 447.14l-0.18 0.26M35 504.93l0.31 0.15M110.94 463.69l-0.71 0.11M6.19 546.28l-0.27 0M32.12 509.11l0.03 0.94M97.82 509.54l0.72 0.06M73.18 515.66l0.7 0.25M86.44 499.85l0.11 0.09M89.47 525.52l0.13 0.55M98.85 448.68l-0.76 0.06M62.09 437.4l0.03 0.45M22.25 453.84l-0.66 0.06M74.25 537.33l0.84 0.23M100.01 530.78l-0.09 0.51M79.27 544.65l0.09 0.4M76.12 494.33l0.01 0.11M19.83 538.43l-0.17 0.27M98.22 542.89l0.06 0.65M20.8 470.77l-0.62 0.39M21.71 443.26l0.22 0.66M73.64 429.82l-0.19 0.84M24.45 462.07l0.2 0.28M58.59 523.29l0.07 0.28M12.43 441.14l-0.18 0.25M121.09 453.53l-0.29 0.07M4.25 456.34l-0.02 0.36M104.72 436.25l-0.35 0.09M77.14 547.94l-0.41 0.28M35.11 511.99l-0.07 0.78M52.55 441.31l-0.93 0.09M34.13 451.69l0.02 0.09M46.95 483.23l-0.63 0.18M12.05 491.49l-0.25 0.49M85.42 546.69l0.11 0.12M85.05 459.02l0.59 0.03M108.99 474.87l0.05 0.77M66.41 494.68l0.17 0.43M64.16 446.64l-0.1 0.5M59.43 486.03l0.08 0.02M20.61 545.15l-0.62 0.03M73.65 488.25l-0.01 0.63M97.85 501.56l0.03 0.87M78.9 434.49l-0.57 0.65M57.31 430.8l0.05 0.07M6.6 487.06l-0.51 0.04M107.97 441.49l-0.65 0.47M122.11 449.61l-0.7 0.06M116.09 510.76l-0.47 0.79M66.37 481.94l-0.08 0.52M93.4 533.61l-0.19 0.17M11.91 485.76l-0.37 0.38M19.64 430.59l-0.03 0.05M57.62 468.44l0.02 0.5M83.54 467.41l0.19 0.14M71.81 511.11l-0.16 0.9M21.51 479.81l-0.97 0.03M123.26 547.62l0.6 0.38M20.5 425.97l-0.64 0.25M13.87 437.73l-0.08 0.52M122.01 541.06l-0.44 0.82M65.44 505.67l0.85 0.04M36.88 483.26l-0.22 0.57M34.49 446.64l-0.23 0.18M103.46 456.87l0.35 0.78M14.25 548.2l0.03 0.25M17 545.59l-0.94 0.17M75.88 503.88l0.51 0.04M8.25 439.43l-0.7 0.42M124.59 535.96l0.05 0.16M37.72 501.24l-0.85 0.1M66.16 513.29l-0.38 0.29M33.85 468.33l-0.15 0.11M21.98 510.05l-0.48 0.03M112.21 532.96l0.62 0.09M90.75 497.08l-0.03 0.15M118.73 518.24l-0.86 0.05M77.66 511.6l-0.02 0.37M121.23 528.69l-0.84 0.1M90.47 540.85l-0.35 0.5M70.51 539.58l-0.02 0.16M69.79 439.74l-0.09 0.1M36.24 527.57l-0.31 0.7M115.43 443.42l0.41 0.54M78.36 460.34l0.02 0.08M32.26 503.07l-0.34 0.14M90.73 432.86l0.54 0.78M78.16 428.08l0.55 0.31M59.51 477.59l-0.44 0.78M53.03 454.49l0.19 0.44M12.04 463.69l-0.19 0.22M117.51 434.93l0.12 0.35M7.72 493.94l-0.22 0.05M121.38 502.77l-1 0M28.9 446.98l-0.33 0.24M78.47 523.34l-0.01 0.05M9.85 475.6l-0.92 0.09M124.05 452.59l0.56 0.02M113.21 473.37l0.03 0.13M89.66 472.66l0.25 0.76M109.36 470.81l0.12 0.54M119.89 547.77l-0.7 0.02M89.14 429.36l0.32 0.36M90.63 536.26l-0.22 0.02M103.26 526.07l-0.29 0.16M69.42 514.14l0.08 0.82M92.18 509.29l0.51 0.55M61.71 433.39l0.33 0.12M30.38 469.41l-0.08 0.61M32.62 533.9l-0.87 0.07M94.97 435.88l0.67 0.36M27.14 425.66l-0.27 0.59M70.5 486.35l0.66 0.08M23.93 475.42l0.29 0.83M92.43 528.45l-0.51 0.4M77.88 486.22l-0.29 0.58M36.28 518.1l0.58 0.03M18.07 526.02l-0.11 0.57M71.75 502.79l-0.34 0.01M109.49 438.81l0.89 0.29M59.36 425.39l-0.91 0.02M117.2 449.87l-0.25 0.03M50.21 434.34l0.46 0.09M85.5 481.75l0 0.64M124.92 489.08l0.01 0.55M83.31 531.77l0.19 0.22M83.23 498.55l-0.1 0.53M5.83 542.65l-0.17 0.16M108.56 491.65l-0.23 0.71M49.02 517.14l0.3 0.01M48.96 441.62l-0.65 0.08M26.2 511.89l-0.87 0.19M115.75 425.94l-0.23 0.17M125.33 473.19l-0.58 0.14M114.76 524.45l0.2 0.62M18.97 446.59l0.54 0.04M42.13 448.05l-0.29 0.12M81.76 491.62l-0.47 0.13M28.03 433l-0.63 0.25M59.5 482.42l-0.33 0.04M101.91 471.05l0.01 0.67M61.01 456.21l0.51 0.71" stroke="#aaaaaa" stroke-width="3.3" stroke-linecap="round" fill="none" opacity="1.0"/><path d="M104.81 478.6l-0.19 0.12M112.67 428.87l0.4 0.4M117.4 472.26l0.31 0.09M27.76 477.19l0.24 0.31M28.17 481.88l-0.04 0.18M117.21 477.24l0 0.22M110.18 529.6l0.67 0.08M50.2 446.1l-0.7 0.41M72.85 481.87l-0.28 0.08M101.29 488.95l0.25 0.6M71.77 449.67l-0.07 0.54M63.61 484.87l0.06 0.44M77.29 481.63l-0.57 0.33M32.8 529.03l-0.24 0.12M40.74 483.6l0.45 0.24M3.99 472.53l-0.11 0.87M8.41 462.01l-0.22 0.21M123.06 521.78l0.87 0.05M95.62 499.3l-0.83 0M105.38 470.62l0 0.14M115.81 481.72l-0.02 0.05M123.81 477.18l-0.36 0.06M123.43 461.74l-0.99 0.01M39.51 433.06l0.74 0.01M114.05 544.77l0.61 0.22M122.41 492.1l0.4 0.28M72.87 498.75l-0.03 0.06M31.35 434.21l-0.2 0.02M20.17 487.09l-0.08 0.07M118.34 446.66l0.92 0M103.03 464.28l-0.15 0.9M45.01 442.28l0.08 0.13M103.58 474.32l0.58 0.06M60.26 453.01l0.32 0.09M33.98 537.62l0.44 0.47M96.46 495.42l-0.04 0.46M68.5 544.27l0.34 0.01M72.32 463.36l-0.52 0.64M93.36 546.84l0.09 0.45M117.11 521.57l0.38 0.43M110.83 458.3l0.26 0.36M114.16 515.09l0.32 0.01M76.06 457.59l0.36 0.03M45.74 517.82l0.15 0.24M44.88 476.09l-0.09 0.17M89.43 516.94l0.24 0.01M41.16 517.22l0.42 0.74M72.38 547.62l0.11 0.11M50.52 482.58l0.88 0.01M113.59 447.83l-0.11 0.47M51.73 514.97l0.57 0.18M68.47 457.81l0.5 0.5M106.47 504.27l0.19 0.69M87.08 425.85l-0.57 0.26M60.74 466.39l0 0.82M86.19 504.82l0.91 0.04M34.29 431.34l0.26 0.2M4.54 463.24l0.47 0.11M2.2 542.57l-0.36 0.31M1.49 430.45l-0.84 0.08M97.51 538.14l-0.21 0.29M43.92 506.33l0.09 0.09M7.98 478.79l-0.15 0.26M84.99 535.13l-0.94 0.15M25.29 479.45l-0.48 0.34M53.99 523.03l0.11 0.43M59.3 443.57l-0.5 0.21M14.01 530.56l-0.38 0.07M84.29 538.83l0.09 0.15M53.36 458.48l-0.19 0.72M50.06 547.72l0.25 0.04M19.33 438.16l0.14 0.89M74 507.06l0.04 0.12M1.92 519.56l0.44 0.05M78.98 507.21l-0.68 0.05M73.8 522.31l0.63 0.03M1.6 512.15l-0.83 0.02M47.03 493.44l-0.03 0.32M93.28 439.4l0.64 0.39M28.71 460.44l-0.86 0.27M109.6 506.23l-0.2 0.78M9.7 523.56l0.54 0.15M39.21 477.87l0.46 0.5M18.75 453.24l-0.54 0.35M123.21 427.42l0.13 0.18M17.98 433.63l-0.33 0.19M107.17 427.55l0.92 0.2M32.21 463.02l0.22 0.08M123.89 465.96l0.3 0.05M23.07 537.72l0.65 0M22.05 501.03l0.04 0.35M76.53 452.86l0.59 0.35M95.73 465.68l-0.89 0.19M45.62 446.51l-0.24 0.53M46.55 437.16l0.57 0.01M56.1 500.61l0.83 0.05M119.45 481.5l-0.37 0.58M102.64 496.71l-0.5 0.79M104.91 499.82l0.27 0.21M123.65 517.53l0.6 0.08M121.46 433.49l-0.84 0.21M34.2 472.55l-0.87 0.26M39.8 509.49l0.02 0.76M107.23 539.74l-0.01 0.65M35.9 462.75l-0.01 0.32M10.07 509.7l0 0.87M99.68 467.45l-0.07 0.3M65.59 428.99l-0.03 0.68M3.23 479.78l0.26 0.43M21.78 524.8l0.26 0.29M46.09 500.33l0.82 0.01M88.64 440.11l-0.22 0.74M89.99 456.02l0.21 0.18M23.3 437.67l0.35 0.33M80.78 539l-0.08 0.32M65.34 526.34l0.11 0.24M93.05 489.35l0.51 0.02M47.13 463.48l-0.42 0.11M87.78 443.8l0.32 0.36M108.37 466.14l-0.85 0.2M1.55 527.63l-0.39 0.68M91.15 484.69l-0.31 0.13M94.74 449.9l-0.25 0.01M18.47 506.18l0.03 0.93M111.46 425.27l0.38 0.32M25.22 546.38l-0.77 0.07M52.04 478.71l0.4 0.31M33.23 516.28l-0.31 0.64M120.11 468.35l0.17 0.64M14.83 425.41l-0.71 0.43M47.84 455.28l-0.13 0.39M57.39 547.78l-0.12 0.01M108.1 513.77l0.53 0.01M123.65 485.99l-0.45 0.33M100.49 513.92l-0.18 0.03M119.42 514.46l0.16 0.46M92.84 505.09l-0.68 0.15M29.66 466.11l-0.65 0.49M36.96 547.22l0.52 0.35M98.93 438.61l-0.94 0.02M117.74 455.97l-0.42 0.13M91.02 443.67l0.94 0.03M68.26 547.95l0 0.06M124.57 441.59l-0.03 0.7M99.55 426.99l0.53 0.38M114.06 464.9l0.62 0.18M1.46 538.85l0.16 0.29M58.59 497.27l0.26 0.26M36.84 434.25l-0.68 0.1M1.08 497.47l-0.07 0.48M94.76 542.24l-0.88 0.27M47.37 540.68l-0.13 0.2M42.05 532.66l-0.22 0.73M19.63 462.4l-0.14 0.04M35.98 508.54l0.46 0M90.07 491.1l-0.1 0.87M69.43 430.11l0.31 0.7M37.11 543.44l-0.72 0.41M21.29 541.58l0.54 0.04" stroke="#b7b7b7" stroke-width="3.3" stroke-linecap="round" fill="none" opacity="1.0"/><path d="M95.4 456.74l0.78 0.02M62.34 480.56l0.29 0.32M56.32 514.03l-0.09 0.48M80.65 448l0.11 0.44M90.63 512.57l-0.18 0.84M63.74 497.83l-0.07 0.18M47.45 479.05l0.1 0.75M64.22 520.89l-0.25 0.79M6.28 511.97l0.24 0.11M96.31 491.82l0.63 0.03M64.74 542.6l0.03 0.27M98.29 526.21l-0.08 0.52M111.03 516.17l-0.1 0.86M45.38 467.87l-0.21 0.2M107.6 523.74l0.5 0.01M84.28 435.56l0.5 0.01M43.83 433.74l-0.17 0.26M89.05 481.36l0.52 0M64.29 450.75l0.04 0.67M39.16 530.74l-0.28 0.84M108.64 545.32l0.11 0.09M84.65 528.54l0.1 0.09M113.88 451.41l0.34 0.3M11.51 457.99l-0.72 0.39M103.78 426.63l-0.11 0.4M47.95 544.84l-0.02 0.19M113.82 461.3l0.03 0.5M121.19 438.65l0.32 0.75M27.5 501.32l0.41 0.31M39.4 455.67l-0.52 0.01M99.86 434.69l-0.4 0.23M14.44 488.66l-0.36 0.13M40.14 536.53l0.18 0.24M105.41 516.86l-0.15 0.9M67.01 487.04l-0.79 0.04M85.88 515.46l0.63 0.05M47.16 511.57l-0.08 0.4M28.09 495.16l-0.16 0.73M44.12 488.77l0.12 0.07M120.01 442.22l0.11 0.47M56.25 538.8l-0.03 0.93M21.76 465.41l-0.62 0.04M104.58 450.49l0.17 0.58M35.29 497.37l-0.77 0.31M63.35 468.93l0.16 0.73M66.38 425.4l0.39 0.01M48.1 450.34l-0.5 0.21M1.83 459.29l-0.69 0.47M123.56 482.07l-0.15 0.28M78.04 490.66l-0.19 0.21M104.35 484.84l0.04 0.41M53.36 468.69l0.18 0.81M27.23 450.83l-0.62 0.16M10.58 527.72l-0.57 0.01M88.53 529.29l0.33 0.11M78.03 464.28l0.43 0.1M54.36 519.02l0.44 0.37M8.09 471.83l0 0.51M105.54 430.21l-0.44 0.75M8.27 540.29l0.4 0.62M32.35 545.52l-0.25 0.34M73.3 438.17l0.38 0.07M104.44 511.67l0.31 0.19M43.67 496.18l0.37 0.02M9.66 545.63l-0.23 0.86M93.44 469.52l0.43 0.73M11.11 434.02l-0.74 0.51M61.66 474.68l-0.43 0.81M106.49 481.66l0.27 0.34M71.3 470.37l-0.14 0.7M51.13 540.65l-0.44 0.25M97.73 485.16l-0.62 0.08M84.45 439.55l-0.2 0.76M49.18 507.66l0.36 0.18M25.7 489.32l0.54 0.38M19.06 476.24l0.83 0.16M31.88 519.97l0.49 0.53M4.84 442.13l0.06 0.62M112.28 503.13l0.4 0.37M69.05 529.29l-0.9 0.11M88.74 545.54l0.84 0M113.6 506.87l-0.03 0.17M50.22 473.16l-0.27 0.22M25.96 525.95l-0.1 0.16M72.56 493.58l0.25 0.04M39.84 525.34l0.65 0.23M113.69 436.81l-0.01 0.18M45.6 533.16l0.09 0.68M99.15 520.78l-0.93 0.32M15.05 495.82l0.07 0.46M3.74 438.2l-0.36 0.04M2.44 466.98l0.84 0.04M94.11 517.6l-0.59 0.19M9.45 425.69l0.04 0M32.29 477.04l0 0.79M24.48 468.99l0.62 0.4M120.7 487.73l-0.51 0.35M57.52 493.2l0.63 0.36M31.04 449.9l-0.25 0.16M112.03 468.23l-0.25 0.1M113.41 521.21l0 0.27M56.95 510.22l0.9 0M38.86 521.77l0 0.56M78.91 532.94l-0.04 0.9M32.12 499.64l-0.21 0.01M2.87 533l0.48 0.11M111.27 541.02l-0.77 0.09M12.66 478.19l0.11 0.48M72.52 442.73l0.93 0.03M54.57 473.46l0.22 0.24M60.28 459.95l-0.11 0.29M31.76 488.91l0.08 0.5M1.89 443.92l-0.33 0.13M79.96 495.37l0.4 0.15M2.7 506.79l-0.86 0.05M38.13 437.67l0.05 0.03M124.75 446.22l-0.39 0.07M71.32 519.28l0.26 0.03M77.89 541.54l0.71 0.03M5.93 520.94l-0.39 0.59M23.76 427.91l0.26 0.69M42.97 480.15l0.47 0.07M49.66 520.61l-0.7 0.17M77.95 438.45l-0.49 0.38M117.75 461.83l0.37 0.41M1.65 523.78l0.7 0.09M18.59 497.32l-0.2 0.15M85.74 462.55l0.48 0.65M101.52 482.57l0.02 0.27M58.77 471.83l-0.09 0.39M38.2 470.76l0.02 0.31M46.03 429.43l-0.12 0.88M119.72 509.83l-0.52 0.43M103.11 532.42l0.3 0.84M8.2 451.35l-0.17 0.47M42.76 438.02l-0.52 0.26M14.8 453.55l0 0.91M69.65 507.44l0.68 0.27M25.39 441.2l0.28 0.07M5.88 468.78l0.26 0M4.48 529.33l0.25 0.24M78.2 467.75l-0.19 0.77M111.31 526.22l0.3 0.04M39.52 490.28l-0.01 0.11M124.99 436.36l0.22 0.09M9.35 519.69l0.2 0.07M87.84 466.77l-0.2 0.15M61.31 494.72l0.1 0.45M106.98 457.73l0.12 0.47M112.72 432.54l-0.3 0.32M109.51 520.82l0.96 0.01M51.08 485.77l-0.47 0.82M81.42 470.09l-0.06 0.6M4.87 430.67l0 0.97M16.18 471.08l-0.39 0.05M50.91 524.93l0.24 0.7M80.67 548.46l0.39 0.27M125.19 502.59l-0.64 0.24M24.22 522.06l0.25 0.76M74.54 471.91l-0.03 0.1M76.35 519.07l-0.28 0.18M81.31 526.19l0.58 0.09M65.68 531.48l-0.03 0.02M99.5 516.82l0.01 0.94M11.41 481.39l-0.81 0.1M81.67 458.32l0.31 0.75M43.96 509.84l-0.62 0.67M99.24 497.89l-0.45 0.44M78.23 477.92l-0.47 0.6M102 448.16l0.06 0.29" stroke="#c4c4c4" stroke-width="3.3" stroke-linecap="round" fill="none" opacity="1.0"/>
<path d="M17.83 530.12h0M95.54 456.51h0M56.64 514.12h0M29.47 541.65h0M113.13 428.93h0M28.07 477.73h0M4.16 453.05h0M36.39 428.14h0M116.65 477.03h0M22.78 492.38h0M49.55 446.83h0M64.42 543.22h0M111 516.66h0M72.3 450.39h0M68.25 501.6h0M76.65 482.05h0M22.95 496.91h0M107.38 523.45h0M44.24 434.02h0M89.08 481.09h0M3.55 472.86h0M27.81 545.83h0M28.19 505.1h0M8.46 461.66h0M121.13 532.92h0M39.28 541.5h0M93.12 477.07h0M103.01 543.71h0M72.17 446.61h0M108.44 545.4h0M14.18 507.93h0M43.45 450.98h0M84.17 528.41h0M116.81 467.55h0M110.59 510.41h0M30.54 514.51h0M114.64 451.33h0M97.9 471.6h0M111.28 494.89h0M123.9 477.03h0M47.97 545.35h0M40.39 433.25h0M97.37 547.07h0M111.41 443.21h0M120.46 525.49h0M113.19 538.07h0M21.2 520.28h0M47.62 511.84h0M95.61 432.08h0M43.88 489.12h0M5.82 546.79h0M121.46 472.78h0M31.84 509.57h0M68.66 543.75h0M72.44 463.27h0M63.72 469.35h0M56.16 480.18h0M38.91 474.41h0M75.78 533.97h0M117.46 521.42h0M68.99 444.55h0M27.27 450.77h0M88.99 525.64h0M77.8 464.26h0M98.75 448.15h0M114.78 514.73h0M76.29 458.08h0M13.94 474.68h0M24.48 432.43h0M74.35 537.42h0M7.65 472.05h0M104.93 430.33h0M34.49 439.39h0M78.98 544.8h0M65.51 433.28h0M32.04 546.12h0M19.96 538.42h0M67.16 535.42h0M6.62 525.26h0M41.56 517.85h0M63.26 489.98h0M60.8 538.12h0M94.12 469.87h0M118.28 504.46h0M21.67 444.1h0M113.77 447.7h0M11.11 434.12h0M111.28 477.5h0M124.45 457.43h0M61.41 475.33h0M106.76 481.53h0M24.92 461.85h0M86.62 426.45h0M71.26 470.43h0M50.34 540.27h0M60.92 467.18h0M86.56 478.17h0M96.96 485.71h0M12.78 441.43h0M60.37 542.93h0M104.35 436.54h0M43.95 542.11h0M84.64 440h0M42.61 499.9h0M11.84 492.17h0M88.24 494.24h0M10.96 452.8h0M32.47 519.7h0M86.02 430.3h0M10.2 514.25h0M68.11 529.43h0M5.07 463.21h0M31.28 524.55h0M84.15 535.36h0M48.54 528.64h0M22.5 513.27h0M58.96 486.06h0M97.26 514.59h0M20.48 545.59h0M114.01 491.07h0M113.23 506.84h0M40.23 459.54h0M50.4 473.55h0M113.42 436.48h0M54.42 498.24h0M98.42 520.79h0M74.15 507.2h0M90.47 452.31h0M25.24 447.49h0M3.11 438.42h0M78.94 506.79h0M66.26 482.15h0M1.39 512.42h0M109.83 488.65h0M9.92 425.76h0M94.11 439.39h0M57.41 468.34h0M83.83 467.95h0M123.26 427.64h0M18.29 434.13h0M107.16 427.84h0M49.79 489.28h0M57.54 493.31h0M22.5 501.6h0M20.14 426.47h0M5.72 448.7h0M74.72 447.72h0M40.41 442.11h0M66.25 505.09h0M50.09 430.33h0M33.96 446.73h0M9.11 443.17h0M103.12 457.56h0M14.35 548.49h0M7.43 440h0M38.76 521.56h0M3.46 500.49h0M124.73 536.53h0M96.4 481.58h0M32.09 500.09h0M27.36 522.66h0M119.51 537.61h0M4.09 496.07h0M101.59 540.24h0M102.76 496.73h0M116.44 429.4h0M78.44 445.11h0M112.04 532.45h0M121.46 433.27h0M34.02 472.95h0M39.8 509.95h0M107.01 540.53h0M116.85 541.57h0M111.21 540.57h0M86.01 470.75h0M99.62 467.38h0M38.8 493.46h0M93.41 524.78h0M96.21 531.35h0M27.77 437h0M70.16 439.41h0M115.92 498.44h0M31.89 488.97h0M115.66 535.12h0M17.52 534.26h0M23.99 437.64h0M7.92 507.32h0M58.92 435.93h0M80.9 539.38h0M78.7 460.01h0M79.62 495.91h0M32.42 502.96h0M109.47 449.84h0M90.6 433.7h0M1.68 506.68h0M38.12 438.13h0M9.88 431.13h0M124.99 446.58h0M58.74 478.57h0M18.31 442.5h0M102.98 520.76h0M55.92 465.3h0M33.53 541.09h0M8.21 493.92h0M9.9 497.95h0M23.73 428.48h0M77.96 438.64h0M78.17 523.52h0M85.77 486.25h0M111.56 425.2h0M24.51 546.94h0M8.28 465.97h0M9.56 475.41h0M51.67 478.78h0M18.67 497.94h0M47.38 470.24h0M120.51 468.86h0M14.66 425.72h0M64.99 539.43h0M109.47 471.38h0M55.39 477.62h0M27.68 537.77h0M32.39 455.29h0M98.7 442.48h0M14.66 453.45h0M57.29 548.12h0M6.48 517.38h0M1.5 547.62h0M2.51 476.48h0M102.77 525.57h0M100.82 513.4h0M61.78 433.78h0M30.08 470.1h0M1.15 470.42h0M1.5 434.61h0M32.67 533.48h0M29.23 492.42h0M54.52 502.99h0M92.03 505.09h0M79.73 432h0M68.83 466.45h0M71.33 486.27h0M111.05 526.21h0M23.67 475.57h0M125.24 436.83h0M8.9 519.74h0M60.81 527.41h0M97.99 438.33h0M100.4 506.26h0M18.56 526.25h0M117.97 455.61h0M112.96 432.95h0M109.96 520.34h0M67.41 447.61h0M68.63 547.68h0M124.63 442h0M58.13 489.6h0M49.95 434.68h0M125.21 543.56h0M85.67 481.52h0M114.35 464.43h0M82.1 451.02h0M29.83 474.24h0M83.53 498.54h0M1.51 516.59h0M15.73 470.83h0M0.46 498.27h0M119.08 499.15h0M35.88 479.17h0M76.09 518.97h0M17.4 478.7h0M71.75 453.98h0M43.41 465.57h0M99.58 517.32h0M11.37 480.88h0M82.22 459.08h0M108.48 496.01h0M43.96 510.38h0M21.36 528.72h0M81.61 492.11h0M27.9 432.96h0M59.66 482.27h0M71.16 474.68h0M69.16 429.97h0M78.16 478.21h0M14.66 485.15h0M101.69 447.78h0M108 461.74h0M21.25 541.24h0M45.01 514.21h0" stroke="#d4d4d4" stroke-width="1.4" stroke-linecap="round" fill="none" opacity="1.0"/>
<path d="M33 490 L37 496 L44 503 L48.6 510 L52 519 L55.6 528 L58 536" stroke="#3a3a3a" stroke-width="1.2" fill="none" opacity="0.45"/>
<path d="M4 470 L9 476 L6 482" stroke="#333" stroke-width="2" fill="none" opacity="0.6"/>
</g>
<rect x="4" y="428.3" width="118.1" height="117.3" filter="url(#mtD0)" opacity="0.5"/>
<rect x="4" y="428.3" width="118.1" height="117.3" filter="url(#mtL0)" opacity="0.5"/>
<rect x="4" y="541" width="118" height="5" fill="#202020" opacity="0.25"/>
<rect x="4" y="428" width="6" height="118" fill="#202020" opacity="0.15"/>
<rect x="4" y="428.5" width="1.4" height="117" fill="#2a2a2a" opacity="0.7"/>
<line x1="89" y1="538.6" x2="106" y2="538.6" stroke="#151515" stroke-width="1.1"/>
</g>
<g clip-path="url(#cp1)"><g filter="url(#bl1)"><rect x="136.5" y="428.1" width="117.9" height="117.7" fill="#5a5a5a"/>
<path d="M251.84 542.25l0.22 0.19M174.01 441.96l-0.46 0.1M244.37 523.65l-0.32 0.02M227.6 522.7l0.84 0.19M226.89 513.23l0.06 0.67M245.02 482.05l-0.09 0.14M223.17 484.95l0.01 0.7M160.96 465.1l0.05 0.32M251.78 512.26l0.68 0.4M214.35 497.58l-0.29 0.5M226.14 432.33l-0.72 0.07M161.33 533.38l0.49 0.03M136.34 456.57l-0.43 0.32M184.36 438.83l-0.45 0.05M233.15 470.2l-0.41 0.39M209.25 460.48l-0.22 0.88M255.36 470.83l0 0.63M135.64 509.81l0.43 0.13M237.6 507.87l0.1 0.86M212.83 543.44l0.18 0.75M215.12 521.2l0.09 0.08M178.06 481.48l-0.5 0.3M194.16 456.85l-0.19 0.67M234.8 436.72l0.07 0.5M256.65 521.71l0.28 0.45M221.5 540.86l0.04 0.21M203.92 482.72l-0.56 0.31M164.53 467.48l-0.06 0.02M179.54 520.05l0.3 0.07M146.82 547.93l0.19 0.57M217.71 538.22l0.02 0.16M216.22 436.16l0.53 0.62M163.06 484.58l0.72 0.16M235.15 489.74l0.41 0.09M234.24 494.67l-0.39 0.02M162.08 511.75l-0.39 0.65M212.08 492.43l0.41 0M157.18 483.91l-0.08 0.17M197.39 437.14l-0.23 0.89M244.31 474.66l0.08 0.54M183.27 538.14l0.36 0.25M187.91 542.7l-0.43 0.08M252.29 439.24l0.02 0.71M219.69 469.54l0.12 0.87M204.84 452.59l-0.18 0.18M233.13 533.54l0.2 0.57M159.61 476.59l-0.59 0.18M141.45 502.17l-0.11 0.57M217.68 452.28l-0.02 0.08M227.52 483.76l-0.07 0.49M160.27 507.43l0 0.61M158.63 441.34l0.61 0.11M208.74 484.19l-0.04 0.52M169.79 522.49l0.21 0.5M169.32 425.59l-0.37 0.03M159.35 457.9l-0.01 0.31M198.9 505.04l0.08 0.93M140.22 524.71l0.02 0.63M182.6 547.83l-0.29 0.56M175.88 524.79l0.06 0.1M229.45 466.69l-0.02 0.73M197.83 460.12l0.22 0.34M202.06 467.29l-0.07 0.64M143.55 538.97l-0.18 0.34M165.12 431.88l-0.49 0.03M154.28 528.12l0.32 0.03M218.88 482.44l0.05 0.37M200.55 432.75l-0.34 0.14M238.51 483.18l0.42 0.07M142.62 469.07l-0.01 0.28M205.49 439.96l-0.12 0.13M219.05 499.45l0.21 0.06M172.15 541.39l-0.19 0.45M148.94 529.11l0 0.46M251.5 432.52l-0.01 0.34M163.37 446.17l0.56 0.15M179.71 441.12l-0.23 0.57M187.21 527.06l0.13 0.24M165.64 515.25l-0.24 0.67M215.6 548.44l-0.16 0.32M180.75 450.48l0.08 0.17M248.81 475.08l-0.45 0.32M197.69 477.51l-0.86 0.1M253.75 548.01l0.47 0.27M230.29 542.43l-0.42 0.26M164.83 507.71l0.13 0.07M200.05 487.56l-0.12 0.26M188.42 538.14l0 0.32M192.34 479.49l0.17 0.24M177.95 477.4l0.35 0.09M247.09 542.44l0.36 0.12M138.47 460.41l0.26 0.03M256.35 447.3l-0.2 0.29M133.84 482.68l-0.51 0.25M186.84 547.69l-0.78 0.02M142.16 473.93l-0.08 0.03M233.34 548.53l-0.73 0.41M203.88 448.45l-0.54 0.01M151.04 537.14l0.02 0.43M146.11 428.25l-0.64 0.19M217.66 443.11l-0.36 0.85M168.58 539.41l0.11 0.05M215.74 467.79l0.92 0.07M162.08 493.36l-0.22 0.4M230.13 445.5l-0.46 0.13" stroke="#8c8c8c" stroke-width="3.0" stroke-linecap="round" fill="none" opacity="1.0"/><path d="M208.62 499.92l-0.08 0.48M205.51 444.24l-0.01 0.9M162.74 427.57l0.03 0.96M193.99 539.27l0.45 0.47M195.73 527.67l-0.36 0.58M195.73 489.13l0.49 0.03M147.05 489.62l-0.76 0.2M143.72 543.09l0.09 0.18M135.7 493.75l0.07 0.74M150.89 432.12l0.04 0.02M162.38 479.96l-0.16 0.29M221.43 456.73l-0.05 0.23M145.73 462.89l0.6 0.1M142.47 460.15l0.35 0.24M179.8 540.78l-0.19 0.03M220.71 474.84l-0.17 0.52M252.5 465.89l0.38 0.24M150.68 500.74l-0.19 0.22M158.76 544.69l0.28 0M195.69 428.29l0.24 0.43M154.97 517.79l0.1 0.23M235.67 462.33l-0.06 0.79M214.46 473.55l0 0.31M199 530.33l0.45 0.07M145.84 454.16l0 0.71M192.8 535.56l-0.5 0.14M227.86 478.97l0 0.23M152.01 463.97l0.3 0.53M141.28 442.7l-0.28 0.44M229.59 441.41l0.81 0.24M175.58 520.12l-0.39 0.02M192.03 501.72l0.34 0.01M172.96 528.53l-0.4 0.37M154.89 442.95l0.13 0.63M195.63 432.41l0.18 0.31M150.71 485.55l0.26 0.85M211.6 451.06l-0.8 0.12M254.47 536.22l0.4 0.24M204.71 463.38l-0.35 0.01M141.13 506.96l0.08 0.95M192.83 440.84l-0.08 0.51M200.13 501.09l-0.02 0.36M177.29 467.04l0.43 0.26M163.97 522.39l0.18 0.39M134.07 475.14l0.42 0.19M160.5 517.93l0.37 0.07M210.44 428.54l0.14 0.02M178.51 529.54l0.44 0.68M241.71 504.09l0.43 0.08M163.53 529.61l-0.16 0.13M137.1 439.42l-0.05 0.8M166.85 491.68l-0.22 0.49M176.36 473.76l-0.38 0.07M162.53 489.09l-0.38 0.05M197.27 516.25l0.18 0.01M217.24 533.93l-0.1 0.15M180.98 509.15l-0.06 0.51M249.85 537.29l0.35 0.01M245.1 425.15l0.26 0.04M168.53 435.47l0.25 0.16M225.88 446.41l-0.45 0.16M158.33 426.24l-0.05 0.62M143.14 431.1l0.11 0.7M220.58 439.33l0.04 0.22M176.47 506l-0.03 0.33M169.07 444.76l0.04 0.29M171.44 535.82l-0.1 0.18M256.94 487.42l0.33 0.04M153.41 534.01l-0.07 0M181.69 426.14l0 0.4M148.14 459.52l0.43 0.31M179.9 490.99l-0.14 0.67M243.65 527.42l-0.34 0.58M208.56 454.72l0.27 0.05M193.27 531.01l0.09 0.57M164.69 547.14l0.86 0.11M214.35 426.61l0.13 0.23M242.12 465.88l0.05 0.26M256.96 482.75l0.01 0.25M215.14 477.59l-0.14 0.47M199.01 425.22l-0.69 0.07M170.48 439.34l-0.57 0.46M172.16 488.12l-0.2 0.56M241.88 427.72l0.11 0.46M209.48 539.41l-0.07 0.19M176.46 499.84l-0.35 0.7M158.01 472.52l-0.4 0.18M208.57 447.75l0.1 0.11M183.65 532.48l0.02 0.69M176.71 510.34l0.25 0.72M158.78 548.66l-0.68 0.05M173.6 446.67l0.82 0M170.46 509l0.68 0.07M184.97 498.42l0.24 0.68M224.44 480.42l-0.45 0.74M186.02 517.62l0.61 0.48M247.05 491.15l-0.27 0.62M240.63 542.87l0 0.35M143.52 438.95l0.14 0.73M204.02 457.26l0.15 0.62M141.12 455.72l0 0.08M149.8 454.52l0.31 0.43M219.13 546.26l0.24 0.04M133.95 489.32l0.06 0.52M170.44 430.67l-0.28 0.06M213.73 454.47l0.28 0.76M167.34 487.54l-0.01 0.71M257.36 455.39l-0.11 0.42M256.34 425.48l0.35 0.23M149.84 481.38l0.53 0.35" stroke="#989898" stroke-width="3.0" stroke-linecap="round" fill="none" opacity="1.0"/><path d="M216.67 462.85l-0.37 0.74M137.95 428.11l0 0.76M180.32 535.39l0.53 0.04M196.67 548.62l0.1 0.04M253.04 444.99l-0.73 0.09M246 458l-0.02 0.55M214.42 458.63l-0.04 0.5M239.43 455.28l-0.26 0.21M137.82 469.86l-0.74 0.13M136.88 515.3l-0.48 0.07M234.41 444.51l-0.28 0.06M181.42 430.37l-0.3 0.13M245.24 518.32l0.05 0.5M191.94 453l0.27 0M197.37 442.69l-0.18 0.4M208.23 476.89l0.72 0.26M210.84 523.79l-0.01 0.6M160 537.22l-0.35 0.05M143.26 518.18l-0.56 0.61M143.76 530.2l-0.57 0.1M232.46 458.35l0.01 0.04M251.77 524.14l0.03 0.91M249.06 528.5l-0.16 0.03M244.26 547.21l0.39 0.36M188.12 428.63l0.09 0.2M207.5 533.9l-0.53 0.56M155.71 488.13l0.29 0.15M223.87 500.1l0.02 0.03M153.9 472.25l-0.52 0.13M188.35 532.62l0.03 0.31M183.13 526.85l-0.07 0.24M182.86 446.7l-0.8 0.03M239.27 478.25l-0.71 0.02M255.64 529.09l0.78 0.03M139.97 536.03l-0.6 0.48M180.79 501.83l-0.62 0.59M240.21 536.78l-0.66 0.34M209.77 506.41l0.02 0.34M232.64 538.3l0.15 0.19M253.1 428.13l0.49 0.26M257.3 513.57l-0.01 0.04M245.54 429.61l0.01 0.92M246.16 438.52l-0.02 0.59M203.99 509.83l-0.01 0.34M250.34 469.64l-0.18 0.59M223.35 452.77l-0.82 0.31M150.43 516.37l0.07 0.03M199.7 463.71l0.69 0.39M133.74 523.08l-0.04 0.7M152.68 458.21l-0.05 0.17M166.43 456.79l0.12 0.19M139.57 464.61l-0.36 0.38M175.63 463.22l-0.52 0.09M159.29 528.91l-0.46 0.02M228.62 462.21l0.48 0.48M167.29 501.83l0.08 0.65M199.18 447.55l-0.07 0.38M163.42 475.71l0.35 0.07M253.37 475.1l-0.67 0.27M251.37 500.87l0.28 0.25M166.77 533.7l0.38 0.44M184.5 463.92l0.19 0.39M240.88 494.24l-0.51 0.07M228.76 536.84l0.28 0.02M242.43 488.69l0.64 0.44M225.5 427.05l0.51 0.28M254.7 451.53l0.61 0.11M172.7 467.14l-0.41 0.05M206.45 545.93l-0.22 0.24M153.05 547.87l0.6 0.02M144.96 514.01l-0.27 0.39M251.39 461.84l0.05 0.11M141.5 478.48l-0.07 0.14M169.38 472.51l-0.09 0.18M210.81 443.99l0.07 0.18M191.55 517.48l-0.03 0.36M141.03 491.01l0.16 0.4M151.04 505.1l-0.7 0.1M210.62 547.2l-0.45 0.23M144.76 508.62l0.79 0.01M235.66 541.03l0.29 0.37M191.83 485.63l-0.31 0M220.8 446.37l0.26 0.08M134.16 429.1l-0.45 0.06M225.78 541.3l0.51 0M133.81 499.66l0.76 0.26M133.08 443.33l0.84 0.04M134.56 548l-0.04 0.9M235.9 466.73l0.71 0.18M236.35 504.16l-0.44 0.11M146.73 535.98l0.5 0M193.82 543.31l0 0.38M210.04 495.76l-0.09 0.6M135.43 526.69l0.74 0.52M205.29 425.56l0.59 0.65M187.02 468.68l-0.82 0.11M250.09 425.07l0.09 0.35M204.63 525.16l-0.27 0.47M238.38 443.47l-0.18 0.18M240.16 460.66l-0.24 0.26M163.71 542.79l-0.17 0.41M219.35 460.1l-0.48 0.1M248.78 521.58l-0.66 0.13M189.44 449.96l-0.74 0.2M189.97 511.98l0.05 0.72M191.5 431.28l0.11 0M154.08 425.12l0.57 0.02M216.71 516.15l-0.71 0.59M204.05 486.53l-0.18 0.86M142.02 482.48l0.37 0.51M246.07 501.48l0.34 0.12M254.96 516.94l0.22 0.34M209.88 438.65l0.06 0.29M250.23 449.39l0.44 0.17M204.23 500.59l0.71 0.25M137.56 432.23l-0.15 0.85" stroke="#a5a5a5" stroke-width="3.0" stroke-linecap="round" fill="none" opacity="1.0"/><path d="M237.18 516.14l-0.33 0M186.92 473.72l-0.11 0.12M191.09 464.18l0.02 0.63M216.82 447.3l0.49 0.59M177.13 546.39l0.42 0.12M203.84 538.82l0.01 0.25M210.26 434.31l0.93 0.23M137.44 480.49l-0.24 0.22M240.56 512.27l-0.4 0.16M146.1 480.19l0.08 0.61M205.63 473.65l0.69 0.13M171.86 504.27l0.04 0.43M156.18 436.34l-0.46 0.71M219.36 427.94l-0.08 0.41M135.83 541.73l-0.41 0.09M145.96 525.75l-0.02 0.49M228.95 449.76l-0.85 0.05M193.66 508.1l-0.14 0.96M172.98 434.41l-0.06 0.52M225.34 517.86l0.33 0.28M226.95 545.84l-0.17 0.74M200.36 454.39l0.75 0M209.64 466.71l-0.97 0.02M149.63 540.78l-0.48 0.55M180.6 461.74l-0.71 0.3M139.19 520.33l0.47 0.6M135.16 532.76l-0.2 0.03M223.27 467.46l-0.1 0.1M236.82 427.08l-0.1 0.55M181.98 479.03l0 0.04M199.43 526.09l0.13 0.26M217.03 431.33l0.08 0.86M230.74 496.88l-0.58 0.16M146.28 494l-0.26 0.23M240.04 434.53l0.56 0.12M139.07 498.03l0.01 0.87M190.82 471.13l-0.69 0.18M254.19 495.75l-0.1 0.18M183.68 505.03l-0.01 0.18M174.36 483.81l0.02 0.94M178.1 447.24l0.45 0.23M247.8 505.63l0.74 0.52M190.58 436.15l-0.17 0.12M255.2 478.54l0.38 0.33M230.99 430.09l0.03 0.55M185.44 452.89l-0.33 0.37M238.27 520l0.42 0.63M257.39 430.31l-0.08 0.08M241.67 471.39l-0.01 0.6M191.33 522.26l-0.32 0.01M206.17 493.79l0.36 0.05M145.86 475.88l0.64 0.32M178.89 514.35l-0.03 0.83M227.56 490.83l-0.2 0.29M172.67 478.99l-0.07 0.46M143.98 486.3l0.39 0.12M223.07 511.05l-0.3 0.06M171.08 459.65l0.51 0.55M150.16 426.46l0.68 0.01M199.42 538.93l0.06 0.02M219.46 493.86l-0.68 0M245.8 510.32l0.01 0.33M234.71 511.74l-0.41 0.17M140.01 512.16l0.88 0.07M134.23 460.43l0.68 0.19M162.56 471.44l-0.65 0M220.72 520.1l0.13 0.6M147.58 435.57l-0.03 0.59M185.31 522.36l0.04 0.57M191.3 424.85l-0.13 0.51M202.82 533.97l-0.57 0.14M243.57 454.94l-0.41 0.04M251.48 531.92l-0.66 0.12M167.8 482.66l-0.01 0.18M223.35 461.25l-0.28 0.3M155.46 454.7l0 0.8M190.36 545.73l-0.1 0.51M199.12 543.12l-0.82 0.09M232.2 520.89l-0.13 0.42M217.31 542.43l-0.03 0.52M230.97 516.87l-0.01 0.77M156.86 513.26l0 0.47M236.28 432.22l-0.03 0.53M224.74 495.72l-0.01 0.3M173.34 515.05l0.04 0.44M180.94 474.08l0.1 0.73M154.35 467.92l0.35 0.01M256.98 442.96l0.26 0.39M219.93 529.98l-0.06 0.56M241.92 516.01l0 0.58M165.81 441.28l-0.78 0.21M175.66 437.66l0.16 0.3M216.58 526.6l0.81 0.13M225.44 439.75l-0.27 0.01M231.46 487.51l0.11 0.29M133.67 466.5l-0.34 0.3M178.75 434.42l-0.28 0.52M214.29 502.12l0.2 0.8M220.79 433.9l-0.09 0.12M231.83 479.29l0.15 0.17M134.44 518.82l0.54 0.27M257.54 491.58l-0.57 0.05M256.65 463.72l-0.97 0.02M231.1 526.19l-0.27 0.35M201.14 439.3l-0.31 0.9M186.32 434.13l0.59 0.32M182.74 543.28l0.74 0.02M197.42 534.97l0.16 0.11M143.48 498.95l0.16 0.13M155.49 461.52l0.03 0.61M212.13 469.96l0.65 0.31M239.67 528.3l-0.29 0.56M217.26 486.95l0.58 0.11M216.27 490.62l0 0.43M168.9 529.93l0 0.56M194.27 512.97l0.19 0.6M242.01 508.18l-0.6 0.12M138.2 504.11l-0.89 0.03M197.94 467.77l0 0.44M185.88 425.49l-0.34 0.14" stroke="#b2b2b2" stroke-width="3.0" stroke-linecap="round" fill="none" opacity="1.0"/><path d="M140.45 435.15l0.11 0.91M223.52 548.14l-0.87 0.04M224.57 536.91l-0.15 0.66M190.65 490.29l0.03 0.82M246.24 463.25l0.35 0.28M186.06 513.49l-0.31 0.6M154.8 508.2l-0.02 0.25M147.48 466.6l0.07 0.43M241.78 440.42l0.2 0.91M252.33 457.12l0.16 0.05M145.45 503.65l-0.15 0.02M249.37 548.09l-0.26 0.07M198.27 482.21l-0.5 0.68M205.54 431.33l-0.09 0.22M159.34 497.6l-0.09 0.66M226.8 473.59l0.15 0.76M148.67 440.03l-0.17 0.26M186.27 508.93l0.43 0.37M151.81 476.53l-0.31 0.25M213.53 440.94l0.53 0.11M251.28 518.45l-0.17 0.28M193.46 475.15l-0.36 0.07M254.63 503.57l-0.11 0.12M221.47 534.35l0.4 0M245.61 534.11l0.11 0.86M142.55 425.14l-0.05 0.68M174.96 458.12l0.06 0.01M200.18 472.37l-0.04 0.04M247.16 434.28l-0.66 0.63M167.96 543.27l-0.15 0.61M180.78 469.93l-0.58 0.55M190.38 445.64l-0.43 0.11M244.43 539.03l-0.18 0.17M188.28 504.18l-0.03 0.08M176.08 533.38l-0.34 0.81M236.79 472.98l-0.02 0.71M232.51 425.8l-0.28 0.78M186.87 477.67l0.02 0.68M205.33 504.62l0 0.56M174.75 491.42l0.07 0.47M220.68 489.79l-0.35 0.25M220.83 515.63l-0.01 0.66M187.75 442.01l-0.11 0.87M137.41 485.87l-0.3 0.54M213.39 530.13l0.07 0.18M157.73 493.48l0.11 0.08M255.05 508.82l0.04 0.01M150.2 510.89l-0.03 0.2M133.3 538.11l0.8 0.09M206.14 529.12l-0.01 0.12M238.77 547.87l0.58 0.11M167.67 511.6l0.18 0.19M138.43 475.54l-0.32 0.07M151.47 492.21l0.01 0.69M156.88 432.52l0.6 0.35M174.42 425.4l0.03 0.3M168.18 518.81l0.29 0.22M257.34 543.62l0.04 0.3M199.05 509.49l0.24 0.11M231.12 507.05l0.1 0.14M174.84 429.58l0.06 0.7M201.52 547.23l0.04 0.16M147.97 472.47l0.46 0.01M152.14 496.45l-0.14 0.6M154.18 479.97l-0.16 0.41M200.8 428.39l0.45 0.2M164.05 435.96l-0.15 0.86M248.14 453.83l0.42 0.66M194.46 497.6l-0.08 0.09M133.62 504.19l-0.09 0.82M231.87 474.1l0.09 0.46M232.54 483.32l0.18 0.54M255.59 459.17l0.52 0.41M138.55 530.23l-0.63 0M163.37 538.04l0.89 0.06M140.87 547.8l-0.05 0.04M246.3 468.29l-0.16 0.15M140.04 541.32l0.07 0.44M202.27 478.85l-0.95 0M166.1 462.83l-0.06 0M257.1 437.05l0 0.41M153.91 541.36l0.31 0.36M196.11 452.75l0.24 0.53M235.88 545.16l-0.21 0.29M213.53 481.79l-0.06 0.83M167.92 476.56l-0.34 0.21M134.34 435.5l-0.09 0.5M230.16 434.56l0.58 0.69M203.92 435.7l0.43 0.7M213.87 536.68l-0.25 0.53M240.85 532.61l-0.01 0.51M194.41 470.35l0.01 0.12M237.28 524.14l-0.54 0.29M179.61 485.93l0.03 0.36M201.53 497.3l-0.06 0.15M172.95 546.39l-0.05 0.05M154.95 428.9l0.19 0.48M253.02 485.8l-0.57 0.02M194.71 448.01l-0.24 0.05M152.09 437.66l-0.47 0.05M256.91 498.72l0.47 0.81M195.59 463.7l0.01 0.01M175.26 537.91l-0.32 0.38M246.72 514.27l0.16 0.32M168.98 548.07l0.29 0.76M163.08 459.32l0.58 0.22M182.5 434.48l0.26 0.47M205.99 469.12l0.14 0.77" stroke="#bebebe" stroke-width="3.0" stroke-linecap="round" fill="none" opacity="1.0"/>
<path d="M216.53 463.29h0M205.08 444.85h0M180.21 535.31h0M173.37 441.76h0M244.06 523.58h0M177.45 546.8h0M252.86 445.42h0M190.71 491.12h0M252.2 512.17h0M146.42 489.48h0M136.29 515.3h0M180.88 430.73h0M147.47 466.41h0M205.52 473.59h0M162.46 480.04h0M221.35 456.73h0M183.83 438.94h0M198.38 482.2h0M205.71 431.46h0M233.15 470.64h0M158.9 497.73h0M179.86 540.87h0M142.82 518.76h0M214.83 521.3h0M193.65 457.5h0M213.66 441.35h0M251 519.06h0M220.95 475.52h0M207.36 534.65h0M222.16 534.47h0M228.16 449.86h0M187.9 532.97h0M236.05 462.25h0M214.92 473.87h0M168.15 543.19h0M176.39 533.3h0M226.65 546.12h0M182.69 446.54h0M192.69 535.53h0M200.27 454.86h0M237.01 473.36h0M229.53 441.28h0M175.36 520.27h0M192.1 502.05h0M231.92 426.52h0M155.41 442.8h0M139.46 536.17h0M195.66 432.31h0M235.25 489.82h0M150.6 486.31h0M239.42 537.19h0M180.52 461.79h0M186.46 478.37h0M220.63 490.16h0M141.45 507.2h0M199.98 526.17h0M230.79 496.89h0M221.26 516.24h0M253.35 428.27h0M245.81 438.4h0M183.2 538.01h0M174.39 483.8h0M163.74 529.67h0M233.56 533.66h0M150.91 516.75h0M254.9 509.28h0M141.46 502.16h0M166.39 491.79h0M217.84 451.89h0M216.84 534.17h0M149.83 511.16h0M250.23 537.51h0M245.15 425.5h0M175.72 463.7h0M225.7 446.87h0M228.38 462.35h0M167.33 501.92h0M241.89 471.93h0M169.55 425.25h0M199.09 505.35h0M157.58 432.75h0M158.22 426.88h0M202.15 467.39h0M199.5 509.77h0M231.04 507.5h0M168.7 445.34h0M171.16 535.72h0M171.79 460.25h0M150.41 426.91h0M151.8 496.34h0M246.23 510.23h0M200.19 432.73h0M181.64 425.89h0M140.32 512.53h0M147.94 459.81h0M184.53 464.26h0M164.13 436.57h0M248.77 454.63h0M194.2 497.4h0M229.34 536.74h0M225.67 426.88h0M172.12 467.11h0M133.23 504.91h0M185.24 522.45h0M145.22 514.51h0M243.74 455.04h0M169.74 472.96h0M232.96 484.03h0M250.86 532.19h0M205.12 440.47h0M165.61 546.99h0M138.55 530.49h0M172.35 541.54h0M256.47 482.88h0M251.32 432.48h0M140.39 548.28h0M210.11 547.67h0M216.86 542.52h0M231.25 517.45h0M191.48 486.09h0M139.94 541.94h0M257.07 443.49h0M170.25 440.02h0M219.8 530.06h0M133.75 499.39h0M257.41 437.6h0M195.8 453.21h0M172.42 488.19h0M241.43 427.87h0M176.05 499.75h0M253.82 547.98h0M208.44 448h0M214.6 502.42h0M231.64 479.38h0M165.07 507.87h0M240.42 533.01h0M230.65 526.39h0M201.14 439.73h0M173.98 446.48h0M188.87 538.14h0M224.68 481.16h0M209.79 496.45h0M186.26 518.22h0M246.77 491.64h0M192.54 479.82h0M135.47 527.1h0M173.41 546.48h0M205.34 425.65h0M155.45 428.71h0M177.7 477.15h0M186.7 468.98h0M252.44 485.43h0M247.61 542.66h0M239.13 528.7h0M217.66 487.28h0M238.6 443.4h0M139.06 460.18h0M164 543.46h0M189.1 449.69h0M175.23 538.18h0M170.32 431.11h0M246.96 514.16h0M167.12 487.62h0M142.33 482.31h0M203.43 448.21h0M168.82 530.35h0M257.35 455.16h0M150.94 537.43h0M217.91 443.58h0M137.96 504.49h0" stroke="#d2d2d2" stroke-width="1.4" stroke-linecap="round" fill="none" opacity="1.0"/>
<path d="M136 451 L150 449.8 L163.5 450.9 L177.2 454.3 L188.7 457.8 L194 460.5" stroke="#303030" stroke-width="5" fill="none" opacity="0.7"/>
<path d="M135.8 448.7L136.2 453.3M137.54 448.43L137.95 453.27M139.29 448.39L139.69 453.01M141.05 448.39L141.42 452.71M142.78 448.11L143.17 452.7M144.51 447.87L144.92 452.63M146.3 448.2L146.63 452.01M147.99 447.49L148.42 452.42M149.77 447.67L150.13 451.94M151.84 448.11L151.54 451.77M153.62 447.88L153.26 452.28M155.35 448.12L155.01 452.32M157.08 448.44L156.77 452.29M158.86 448.21L158.48 452.8M160.58 448.64L160.25 452.65M162.35 448.42L161.96 453.17M164.31 449.33L163.48 452.67M166.2 448.98L164.98 453.86M167.77 449.9L166.81 453.78M169.54 450.04L168.44 454.48M171.13 450.88L170.24 454.49M172.91 450.98L171.86 455.23M174.61 451.41L173.56 455.64M176.26 452.01L175.3 455.88M178.21 451.97L176.74 456.79M179.88 452.5L178.42 457.29M181.35 453.68L180.3 457.13M183.14 453.82L181.86 458.01M184.92 453.97L183.43 458.87M186.38 455.17L185.31 458.69M188.12 455.48L186.92 459.4M190.15 456.08L188.17 459.99M191.79 456.72L189.65 460.94M193.21 457.8L191.35 461.44M194.66 458.8L193.02 462.03" stroke="#dedede" stroke-width="1.05" fill="none"/>
<path d="M136 447.5 L145.2 444.5 L151 443" stroke="#303030" stroke-width="5" fill="none" opacity="0.7"/>
<path d="M135.43 445.77L136.57 449.23M136.9 444.61L138.43 449.3M138.57 444.1L140.08 448.73M140.33 443.85L141.65 447.9M141.89 442.98L143.42 447.67M143.61 442.61L145.03 446.96M145.53 442.48L146.47 446.11M147.19 441.91L148.19 445.8M148.85 441.34L149.92 445.5" stroke="#dedede" stroke-width="1.05" fill="none"/>
<path d="M156 502 L172.6 497.8 L186.4 495.6 L197.8 493.3 L211.6 487.5" stroke="#303030" stroke-width="5" fill="none" opacity="0.7"/>
<path d="M155.39 499.59L156.61 504.41M157.13 499.33L158.26 503.81M158.96 499.41L159.83 502.87M160.63 498.9L161.55 502.53M162.32 498.44L163.25 502.12M164.01 497.97L164.96 501.74M165.67 497.4L166.69 501.44M167.33 496.84L168.42 501.15M168.94 496.07L170.2 501.06M170.8 496.29L171.74 499.98M172.69 496L173.25 499.48M174.31 495.04L175.09 499.89M176.05 494.79L176.81 499.58M177.77 494.52L178.54 499.31M179.56 494.62L180.21 498.65M181.33 494.61L181.89 498.12M182.96 493.67L183.73 498.5M184.74 493.77L185.39 497.85M186.32 493.17L187.27 497.88M188.08 493.06L188.94 497.29M189.83 492.86L190.62 496.8M191.6 492.79L192.28 496.18M193.3 492.39L194.01 495.88M194.98 491.86L195.76 495.72M196.64 491.21L197.54 495.68M198.02 491.19L199.47 494.62M199.59 490.41L201.12 494.04M201.16 489.61L202.78 493.49M202.68 488.73L204.48 493.01M204.42 488.34L205.98 492.05M206.04 487.69L207.58 491.34M207.57 486.82L209.27 490.85M209.1 485.92L210.98 490.4" stroke="#dedede" stroke-width="1.05" fill="none"/>
<path d="M204.7 519.6 L213.9 510.4 L227.6 503.6 L239 499 L252 494" stroke="#303030" stroke-width="5" fill="none" opacity="0.7"/>
<path d="M203.38 518.28L206.02 520.92M204.59 517.02L207.28 519.71M205.64 515.59L208.71 518.66M206.94 514.42L209.88 517.36M208.33 513.33L210.97 515.97M209.43 511.95L212.35 514.87M210.78 510.83L213.47 513.52M211.8 509.38L214.92 512.5M213.75 507.88L215.82 512.04M215.31 507.07L217.4 511.29M217.04 506.63L218.8 510.18M218.62 505.88L220.35 509.37M220.2 505.12L221.91 508.58M221.76 504.33L223.49 507.81M223.4 503.69L224.99 506.89M224.87 502.73L226.64 506.3M226.48 502.04L228.17 505.43M228.05 500.85L229.83 505.27M229.72 500.32L231.4 504.49M231.46 499.96L232.91 503.54M233.12 499.39L234.5 502.8M234.56 498.27L236.3 502.61M236.12 497.47L237.99 502.1M237.89 497.17L239.47 501.09M239.56 496.56L241.05 500.44M241.32 496.24L242.57 499.5M242.87 495.42L244.28 499.06M244.44 494.61L245.98 498.61M246.11 494.08L247.57 497.89M247.6 493.07L249.35 497.64M249.26 492.52L250.96 496.94M251.07 492.35L252.41 495.85" stroke="#dedede" stroke-width="1.05" fill="none"/>
<path d="M248.2 478 L250.5 489.8 L251.6 497" stroke="#303030" stroke-width="5" fill="none" opacity="0.7"/>
<path d="M249.91 477.67L246.49 478.33M250.83 479.27L246.24 480.17M250.91 481.04L246.83 481.83M251.15 482.77L247.26 483.53M251.72 484.45L247.36 485.3M252.2 486.13L247.55 487.04M251.97 487.96L248.45 488.65M253.03 489.64L248.04 490.41M252.97 491.42L248.62 492.09M252.83 493.22L249.3 493.76M253.25 494.92L249.41 495.51M254.1 496.56L249.09 497.33" stroke="#dedede" stroke-width="1.05" fill="none"/>
<path d="M143 522 L158.9 524.2" stroke="#303030" stroke-width="5" fill="none" opacity="0.7"/>
<path d="M143.35 519.48L142.65 524.52M145.03 520.1L144.44 524.38M146.79 520.14L146.14 524.82M148.51 520.48L147.89 524.96M150.28 520.47L149.59 525.45M151.91 521.45L151.43 524.94M153.64 521.68L153.16 525.2M155.38 521.9L154.89 525.46M157.16 521.77L156.57 526.07M158.91 521.92L158.29 526.39" stroke="#dedede" stroke-width="1.05" fill="none"/>
<path d="M183 494 L184.1 487.5 L187 482" stroke="#303030" stroke-width="5" fill="none" opacity="0.7"/>
<path d="M180.74 493.62L185.26 494.38M180.84 491.86L185.74 492.69M181.66 490.22L185.51 490.87M181.8 488.47L185.95 489.17M182.12 485.99L186.46 488.29M183.24 484.61L186.97 486.58M183.67 482.86L188.17 485.23M184.9 481.53L188.58 483.46" stroke="#dedede" stroke-width="1.05" fill="none"/>
<path d="M196 524 L207 515" stroke="#303030" stroke-width="5" fill="none" opacity="0.7"/>
<path d="M194.6 522.29L197.4 525.71M195.99 521.22L198.72 524.57M197.1 519.82L200.32 523.75M198.93 519.29L201.2 522.06M200.31 518.21L202.53 520.92M201.55 516.97L203.99 519.95M203.02 515.99L205.24 518.71M204 514.43L206.97 518.06M205.64 513.67L208.03 516.6" stroke="#dedede" stroke-width="1.05" fill="none"/>
<path d="M222 528 L236 530" stroke="#303030" stroke-width="5" fill="none" opacity="0.7"/>
<path d="M222.28 526.07L221.72 529.93M223.98 526.51L223.48 529.99M225.77 526.39L225.16 530.6M227.53 526.39L226.86 531.09M229.21 527L228.64 530.98M230.99 526.96L230.34 531.52M232.75 527.01L232.04 531.96M234.4 527.85L233.86 531.61M236.15 527.97L235.57 531.99" stroke="#dedede" stroke-width="1.05" fill="none"/>
<path d="M150 521 L158 524 L166 527" stroke="#303030" stroke-width="5" fill="none" opacity="0.7"/>
<path d="M150.79 518.89L149.21 523.11M152.41 519.56L150.87 523.67M153.91 520.54L152.64 523.92M155.66 520.85L154.17 524.84M157.34 521.36L155.77 525.56M158.98 521.98L157.41 526.17M160.69 522.41L158.98 526.96M162.12 523.56L160.82 527.04M163.89 523.82L162.32 528.01M165.42 524.73L164.07 528.33" stroke="#dedede" stroke-width="1.05" fill="none"/>
<path d="M226 455 L236 450 L246 446" stroke="#303030" stroke-width="5" fill="none" opacity="0.7"/>
<path d="M225.1 453.19L226.9 456.81M226.69 452.47L228.44 455.97M228.22 451.61L230.04 455.26M229.91 451.08L231.48 454.22M231.21 449.77L233.31 453.97M232.71 448.86L234.94 453.31M234.43 448.38L236.36 452.23M236.06 447.26L237.93 451.95M237.89 447.13L239.35 450.77M239.5 446.45L240.98 450.16M241 445.49L242.73 449.81M242.62 444.81L244.37 449.2M244.18 444.01L246.06 448.7" stroke="#dedede" stroke-width="1.05" fill="none"/>
</g>
<rect x="136.5" y="428.1" width="117.9" height="117.7" filter="url(#mtD1)" opacity="0.5"/>
<rect x="136.5" y="428.1" width="117.9" height="117.7" filter="url(#mtL1)" opacity="0.5"/>
<rect x="136.5" y="428.1" width="1.2" height="117.7" fill="#3a3a3a"/>
<line x1="223" y1="538.5" x2="239" y2="538.5" stroke="#151515" stroke-width="1.1"/>
</g>
<g clip-path="url(#cp2)"><g filter="url(#bl2)"><rect x="269.6" y="427.3" width="117.9" height="118.2" fill="#8d8d8d"/>
<rect x="269.6" y="427.3" width="117.9" height="118.2" filter="url(#ceg)" opacity="0.18"/>
<path d="M344.13 432.44h0M268.23 528.31h0M298.73 453.4h0M389.96 482.71h0M345.78 443.01h0M345.26 532.11h0M331.42 516.36h0M360.54 497.71h0M303.93 428.15h0M355.08 538.7h0M315.54 523.77h0M321.69 540.5h0M375.49 436.4h0M283.45 451.25h0M344.24 461.69h0M329.45 472.22h0M372.71 547.38h0M355.04 450.52h0M369.64 495.53h0M277.57 523.73h0M317.46 443.03h0M374.74 429.79h0M355.61 465.4h0M329.22 548.31h0M304.97 433.86h0M340.91 428.2h0M271.86 532.08h0M305.48 543.37h0M323.64 488.89h0M346.38 498.28h0M335.89 501.32h0M320.02 513.76h0M334.55 425.72h0M344.33 482.21h0M350.76 468.09h0M354.19 515.96h0M269.35 431.82h0M350.36 543.94h0M311.69 463.13h0M362.28 427.64h0M337.13 515.61h0M305.01 451.94h0M366.19 453.95h0M353.09 436.95h0M306.49 465.75h0M372.6 445.33h0M294.48 439.32h0M332.22 448h0M289.35 458.9h0M366.62 504.03h0M282.67 460.56h0M380.66 443.67h0M267.18 541.45h0M381.5 451.88h0M348.74 488.76h0M294.78 432.75h0M366.98 429.9h0M297.88 531.32h0M325.72 521.46h0M310.19 448.81h0M332.84 525.75h0M287.82 522.63h0M368.63 425.23h0M272.79 458.01h0M319.01 483.03h0M273.39 440.06h0M282.04 432.8h0M277.27 486.66h0M339.28 469.12h0M290.28 465.13h0M281.93 493.3h0M355.32 471.53h0M320.07 470.55h0M328.07 511.6h0M323.7 454.74h0M332.99 510.64h0M275.47 477.07h0M319.36 533.55h0M382.63 470.78h0M267.21 442.12h0M277.97 436.63h0M281.63 529.12h0M274.18 464.57h0M296.6 446.63h0M359.2 444.25h0M326.53 504.15h0M278.48 517.22h0M291.28 497.03h0M303.26 511.9h0M339.04 457.48h0M293.56 427.17h0M284.39 547.41h0M326.02 498.7h0M324.59 527.96h0M357.49 543.56h0M295.69 513.44h0M372.4 454.37h0M289.79 511.83h0M338.5 508.2h0M267.45 465.88h0M334.05 439.1h0M300.64 506.95h0M280.54 534.49h0M385.71 507.86h0M355.57 508.58h0M288.79 534.83h0M307.68 513.78h0M340.62 493.22h0M305.31 446.21h0M275.1 513.21h0M329.13 455h0M310.32 529.48h0M367.67 517.29h0M339.94 442.49h0M315.96 448.35h0M331.97 494.89h0M345.11 545.64h0M271.19 486.46h0M336.73 543.41h0M366.55 540.02h0M286.53 486.04h0M353.24 491.05h0M318.9 504.94h0M304.35 481.98h0M340.5 452.1h0M266.93 450.26h0M363.64 442.12h0M323.59 448.56h0M274 427.09h0M356.76 458.47h0M364.21 482.1h0M382.19 461.63h0M309.31 435.94h0M287.7 428.85h0M383.08 428.55h0M304.36 499.68h0M383.88 435.2h0M302.96 529.86h0M317.98 452.79h0M355.89 499.53h0M326.95 443.41h0M354.66 427.15h0M377.73 515.32h0M285.52 504.35h0M288.61 434.13h0M368.88 438.28h0M294.2 527.32h0M342.85 504.01h0M321.81 438.08h0M275.46 492.95h0M332.98 476.31h0M390.17 538.6h0M317.53 433.93h0M312.76 444.34h0M387.93 428.66h0M377.58 543.57h0M305.78 457.94h0M384.29 541.52h0M301.53 440.63h0M350.18 504.65h0M313.98 437.6h0M314.9 546.95h0M284.6 440.06h0M388.01 454.85h0M364.98 547.45h0M361.51 435.79h0M332.44 532.96h0M293.85 470.37h0M325.5 534.88h0M310.12 425.23h0M326.06 476.73h0M333.39 459.65h0M303.59 536.06h0M320.23 463.06h0M309.46 547.94h0M338.81 526.62h0M267.94 508.58h0M385.86 447.41h0M359.59 452.29h0M323.23 545.32h0M351.75 477.42h0M329.16 542.68h0M312.75 429.7h0M376.17 441.45h0M330.81 465.01h0M278.96 539.39h0M390.44 445.19h0M277.57 544.05h0M272.03 544.04h0M378.25 465.67h0M378.69 457.28h0M291.44 538.89h0M315.99 467.16h0M320.83 519.67h0M287.69 529.58h0M369.48 459.15h0M283.52 514.82h0M340.22 474.56h0M363.92 461.35h0M322.98 494.54h0M266.78 478.89h0M327.17 429.83h0M273.77 538.68h0M360.72 509.6h0M376 424.31h0M292.17 505.38h0M339.57 480.04h0M388.36 438.11h0M319.34 427.32h0M312.75 511.94h0M275.73 497.85h0M338.58 432.94h0M351.72 496.16h0M288.78 479.4h0M348.15 456.03h0M360.35 467.82h0M298.16 518.93h0M378.54 501.99h0M390.08 516.68h0M356.35 487.38h0M340.75 548.5h0M372 505.04h0M310.04 453.83h0M388.16 470.71h0M353.26 443.11h0M331.81 433.27h0M312.69 542.22h0M365.85 510.64h0M372.89 500.06h0M388.14 460.14h0M318.83 528.69h0M367.17 446.86h0M312.37 480.6h0M312.48 458.03h0M344.14 510h0M313.98 472.03h0M283.08 478.34h0M324.34 465.69h0M266.74 459.17h0M370.42 464.1h0M313.62 533.8h0M310.51 523.08h0M272.52 520.36h0M267.9 473.71h0M335.43 521.2h0M371.33 510.11h0M268.74 425.94h0M348.93 425.59h0M332.18 486.6h0M384.04 503.36h0M274.21 471.73h0M389.59 493.93h0M294 521.93h0M381.62 480.91h0M377.01 449.79h0M356.57 548.3h0M346.42 471.09h0M267.66 436.33h0M278.55 424.71h0M350.67 511.12h0M300.81 477.17h0M350.05 482.42h0M275.86 432.06h0M299.81 424.31h0M362.01 456.46h0M326.42 483.86h0M299.71 548.28h0M344.93 475.83h0M331.79 505h0M342.5 487.22h0M366.51 491.23h0M283.39 444.83h0M324.02 508.55h0M266.98 534.88h0M300.34 524.48h0M276.97 530.69h0M293.09 482.43h0M341.94 516.65h0M325.26 516.18h0M324.34 460.57h0M317.4 458.42h0M308.73 441.32h0M323.52 433.17h0M281.91 484.25h0M272.87 527h0M344.17 437.6h0M361.9 493.07h0M385.08 513.48h0M280.41 502.11h0M328.87 437.73h0M358.54 504.75h0M328.68 491.29h0M328.37 424.77h0M299.52 431.93h0M274.58 482.07h0M338.24 531.77h0M336.75 496.3h0M376.96 538.74h0M385.72 442.13h0M334.15 469.46h0M389.88 450.08h0M300.91 457.95h0M287.29 493.96h0M335.62 451.53h0M356.65 494.75h0M268.17 547.84h0M307.88 518.61h0M266.75 523.66h0M284.4 510.1h0M346.54 493.32h0M266.66 488.56h0M379.4 431.68h0M274.73 548.41h0M335.14 547.96h0M365.52 498.58h0M313.39 506.86h0M331.13 499.77h0M389.52 433.32h0M357.06 439.77h0M341.16 499.18h0M299.74 543.1h0M374.48 460.34h0M359.46 514.28h0M278.1 441.91h0M298.72 436.69h0M334.84 443.86h0M373.17 469.17h0M370.89 433.87h0M288.23 453.85h0M361.79 532.25h0M362.52 448.46h0M270.23 453.9h0" stroke="#505050" stroke-width="5.0" stroke-linecap="round" fill="none" opacity="0.9"/>
<path d="M268.13 528.23l0.21 0.17M331.43 516.33l-0.01 0.07M304.11 428.04l-0.37 0.23M355.09 538.61l-0.03 0.19M315.36 523.76l0.36 0.02M321.82 540.38l-0.26 0.24M317.46 442.83l0 0.39M329.25 548.3l-0.06 0.04M304.91 433.77l0.11 0.17M341.05 428.08l-0.28 0.24M271.99 531.96l-0.26 0.24M346.36 498.25l0.04 0.07M320.14 513.71l-0.23 0.11M344.31 482.07l0.03 0.28M350.39 543.86l-0.07 0.16M362.3 427.63l-0.03 0.04M305.04 451.79l-0.06 0.29M366.2 453.91l-0.01 0.07M353.13 436.83l-0.07 0.24M372.45 445.27l0.31 0.12M289.27 458.78l0.15 0.24M380.93 443.6l-0.52 0.15M381.47 451.75l0.06 0.26M348.68 488.7l0.13 0.13M332.65 525.68l0.37 0.13M272.54 457.96l0.49 0.1M323.7 454.56l-0.01 0.36M275.31 476.94l0.31 0.27M382.43 470.69l0.39 0.18M277.7 436.58l0.55 0.1M303.4 511.87l-0.29 0.06M326.03 498.68l-0.01 0.04M357.27 543.55l0.44 0.03M372.4 454.33l0 0.08M338.29 508.17l0.42 0.06M333.94 439.09l0.22 0.02M280.6 534.46l-0.11 0.05M385.77 507.83l-0.12 0.07M275.22 513l-0.24 0.42M367.54 517.22l0.26 0.14M339.91 442.36l0.05 0.26M315.93 448.31l0.06 0.07M331.75 494.72l0.44 0.34M336.76 543.29l-0.06 0.25M286.52 485.82l0 0.46M340.31 452.09l0.38 0.02M363.64 441.95l-0.02 0.34M384.13 435.17l-0.5 0.06M302.97 529.81l-0.04 0.1M317.98 452.62l0.01 0.34M377.8 515.12l-0.15 0.4M294.38 527.32l-0.37 0M342.87 503.93l-0.04 0.16M321.81 437.85l0 0.46M390.2 538.56l-0.07 0.07M388.02 428.61l-0.19 0.1M377.67 543.34l-0.18 0.46M305.78 457.89l-0.01 0.11M313.96 437.57l0.03 0.05M388.23 454.8l-0.44 0.1M364.71 547.44l0.54 0.03M293.93 470.26l-0.17 0.22M325.3 534.77l0.4 0.21M310.13 425.21l-0.02 0.04M320.23 462.81l0 0.5M279.06 539.28l-0.2 0.21M390.36 445.01l0.16 0.35M272.3 544.03l-0.55 0.02M378.15 465.62l0.21 0.11M315.97 467l0.04 0.32M364.15 461.29l-0.47 0.12M388.42 437.98l-0.12 0.25M319.36 427.07l-0.03 0.52M312.86 511.83l-0.22 0.21M338.52 432.86l0.11 0.15M351.67 496.11l0.11 0.1M288.67 479.4l0.22 0.02M348.16 455.9l-0.01 0.26M297.87 518.9l0.57 0.05M378.46 501.95l0.16 0.09M371.93 504.93l0.13 0.23M309.99 453.7l0.09 0.26M388.07 470.68l0.17 0.06M353.39 443.03l-0.25 0.15M318.92 528.61l-0.19 0.17M312.45 480.49l-0.17 0.22M283.13 478.14l-0.1 0.38M370.41 464.06l0.03 0.09M268.86 425.9l-0.24 0.08M384.03 503.25l0.03 0.22M346.63 471.02l-0.43 0.14M301.03 477.15l-0.43 0.03M350.18 482.39l-0.26 0.07M361.96 456.31l0.09 0.3M326.43 483.68l-0.01 0.36M342.47 487.15l0.04 0.14M366.22 491.22l0.57 0.03M266.77 534.79l0.42 0.17M300.36 524.27l-0.04 0.43M276.98 530.65l-0.01 0.08M293.17 482.41l-0.16 0.03M325.07 516.02l0.37 0.33M317.3 458.34l0.2 0.16M281.99 484.09l-0.14 0.33M272.87 526.99l-0.01 0.01M362 492.86l-0.19 0.42M274.56 481.98l0.04 0.19M334.16 469.39l-0.03 0.14M390.03 450.05l-0.3 0.07M300.86 457.79l0.12 0.32M287.1 493.87l0.37 0.18M266.79 523.53l-0.07 0.27M346.65 493.25l-0.23 0.14M274.66 548.24l0.14 0.34M335.25 547.93l-0.22 0.05M313.56 506.83l-0.33 0.06M370.9 433.74l-0.03 0.27M288.02 453.83l0.42 0.05M362.47 448.43l0.1 0.08" stroke="#c4c4c4" stroke-width="3.5" stroke-linecap="round" fill="none" opacity="1.0"/><path d="M298.95 453.27l-0.44 0.27M389.81 482.56l0.3 0.29M283.52 451.22l-0.15 0.07M344.19 461.67l0.1 0.04M329.47 471.94l-0.04 0.58M372.75 547.15l-0.08 0.46M369.81 495.51l-0.35 0.04M323.71 488.74l-0.14 0.3M336.01 501.29l-0.24 0.06M334.54 425.7l0.02 0.04M354.16 515.79l0.06 0.34M269.25 431.82l0.2 0M311.77 463.07l-0.16 0.14M337.25 515.61l-0.24 0M306.49 465.75l-0.01 0M294.36 439.08l0.25 0.48M282.48 460.46l0.38 0.19M294.67 432.74l0.23 0.03M297.88 531.28l0 0.07M368.47 425.19l0.31 0.09M319.11 483.03l-0.21 0M273.5 440.02l-0.21 0.07M277.2 486.52l0.14 0.29M339.16 468.96l0.25 0.3M281.86 493.29l0.15 0.01M355.12 471.37l0.39 0.31M320.06 470.51l0.04 0.1M328.22 511.53l-0.29 0.14M267.25 442.06l-0.09 0.12M274.42 464.52l-0.49 0.11M296.63 446.43l-0.06 0.4M326.61 504.14l-0.16 0.02M291.34 496.9l-0.12 0.26M339.03 457.25l0.02 0.47M293.4 427l0.33 0.34M295.72 513.24l-0.05 0.39M289.8 511.81l-0.02 0.04M267.42 465.84l0.07 0.08M305.25 446.16l0.12 0.08M329.16 454.94l-0.05 0.12M310.32 529.26l-0.01 0.45M271.2 486.43l-0.01 0.06M304.1 481.97l0.49 0.03M266.79 450.12l0.28 0.28M323.63 448.54l-0.08 0.03M273.88 427.06l0.25 0.05M364.19 481.92l0.05 0.37M287.58 428.61l0.25 0.47M304.65 499.67l-0.59 0.03M355.94 499.3l-0.1 0.46M327.07 443.25l-0.23 0.32M354.66 427.05l0 0.2M275.24 492.89l0.43 0.12M312.67 444.27l0.19 0.13M301.76 440.62l-0.45 0.03M350.22 504.41l-0.07 0.47M314.93 546.95l-0.06 0.01M332.73 532.93l-0.58 0.06M303.59 535.89l0.01 0.34M339.08 526.55l-0.54 0.15M351.76 477.33l-0.03 0.17M329 542.64l0.32 0.07M378.42 457.26l0.52 0.03M287.82 529.56l-0.26 0.03M369.43 458.91l0.1 0.46M340.06 474.56l0.33 0M322.75 494.52l0.46 0.04M273.78 538.41l-0.01 0.54M339.52 479.93l0.11 0.22M331.75 433.23l0.12 0.07M367.24 446.66l-0.13 0.4M312.48 457.79l-0.01 0.48M266.9 458.96l-0.32 0.42M313.52 533.63l0.2 0.35M267.85 473.64l0.1 0.14M371.3 509.84l0.05 0.53M348.95 425.46l-0.04 0.26M331.98 486.59l0.41 0.02M331.73 504.99l0.13 0.03M283.37 444.65l0.05 0.35M324.02 508.3l0 0.5M341.97 516.4l-0.06 0.5M324.47 460.56l-0.26 0.02M308.72 441.29l0 0.06M323.61 433.1l-0.17 0.13M344.23 437.55l-0.11 0.09M384.95 513.33l0.26 0.3M280.47 502.11l-0.12 0.02M338.11 531.71l0.25 0.13M336.64 496.27l0.23 0.06M377.04 538.6l-0.16 0.28M385.78 442.03l-0.12 0.21M335.61 451.46l0.02 0.15M356.59 494.5l0.12 0.49M268.18 547.79l-0.03 0.08M308.04 518.57l-0.33 0.08M266.58 488.46l0.16 0.2M379.67 431.63l-0.54 0.1M365.58 498.5l-0.11 0.16M331.13 499.75l0.01 0.04M357.14 439.54l-0.16 0.46M341.01 499.17l0.3 0.02M374.32 460.33l0.31 0.02M359.35 514.11l0.22 0.33M278.24 441.88l-0.28 0.06M373.1 469.04l0.15 0.26" stroke="#cecece" stroke-width="3.5" stroke-linecap="round" fill="none" opacity="1.0"/><path d="M343.99 432.32l0.28 0.24M345.9 442.83l-0.24 0.36M345.26 531.95l0 0.32M360.59 497.69l-0.09 0.05M375.48 436.31l0.03 0.19M355 450.45l0.09 0.15M277.36 523.73l0.41 0.01M374.68 429.7l0.12 0.17M355.57 465.27l0.1 0.27M305.49 543.21l-0.01 0.31M350.63 468.07l0.26 0.03M332.12 447.99l0.21 0.01M366.69 503.78l-0.14 0.49M267.38 541.39l-0.41 0.12M367.1 429.71l-0.24 0.38M325.78 521.39l-0.12 0.16M309.95 448.8l0.5 0.02M287.71 522.52l0.23 0.22M282.14 432.69l-0.2 0.21M290.27 464.89l0.01 0.49M333.21 510.62l-0.45 0.03M319.5 533.5l-0.27 0.12M281.69 529.07l-0.14 0.1M358.98 444.12l0.46 0.25M278.54 517.07l-0.12 0.3M284.33 547.41l0.12 0M324.71 527.85l-0.24 0.21M300.87 506.93l-0.46 0.04M355.6 508.54l-0.06 0.07M288.81 534.66l-0.04 0.33M307.53 513.74l0.3 0.09M340.51 493l0.21 0.45M345.11 545.61l-0.01 0.05M366.51 539.88l0.07 0.29M353.28 491l-0.09 0.1M318.79 504.77l0.23 0.34M356.73 458.21l0.06 0.51M382.23 461.53l-0.09 0.19M309.26 435.92l0.11 0.04M383.03 428.5l0.1 0.11M285.53 504.32l-0.02 0.06M288.76 434.04l-0.3 0.18M368.86 438.22l0.04 0.12M333.1 476.3l-0.24 0.01M317.33 433.78l0.4 0.31M384.16 541.28l0.27 0.48M284.32 440.03l0.55 0.07M361.77 435.78l-0.52 0.01M325.9 476.7l0.32 0.06M333.15 459.63l0.48 0.03M309.64 547.92l-0.36 0.05M267.72 508.49l0.44 0.18M385.93 447.37l-0.14 0.08M359.5 452.23l0.17 0.12M323.39 545.13l-0.32 0.39M312.82 429.52l-0.14 0.37M376.09 441.32l0.16 0.28M330.58 464.99l0.46 0.05M277.61 543.8l-0.08 0.51M291.69 538.85l-0.49 0.06M320.97 519.66l-0.28 0.02M283.37 514.81l0.29 0.02M266.83 478.87l-0.1 0.04M327.06 429.66l0.22 0.35M360.76 509.4l-0.08 0.41M375.99 424.23l0.02 0.15M291.95 505.19l0.44 0.39M275.66 497.74l0.14 0.23M360.36 467.74l-0.02 0.17M390.33 516.66l-0.49 0.06M356.22 487.22l0.26 0.33M340.73 548.32l0.03 0.36M312.69 542.15l-0.01 0.13M365.85 510.39l-0.01 0.49M372.87 499.93l0.06 0.27M388.07 460.09l0.14 0.09M344.12 509.99l0.04 0.03M313.79 472.03l0.38 0M324.38 465.67l-0.07 0.03M310.49 522.85l0.03 0.45M272.54 520.33l-0.05 0.05M335.43 520.95l0 0.51M274.41 471.67l-0.41 0.13M389.41 493.88l0.36 0.11M294 521.91l0.02 0.04M381.73 480.9l-0.23 0.01M376.99 449.79l0.05 0.01M356.71 548.18l-0.29 0.23M267.76 436.28l-0.2 0.1M278.74 424.65l-0.37 0.13M350.88 511.02l-0.41 0.2M275.87 432.04l-0.02 0.04M299.72 424.25l0.18 0.12M299.77 548.2l-0.12 0.16M344.98 475.7l-0.09 0.26M329.02 437.63l-0.31 0.21M358.45 504.7l0.18 0.1M328.76 491.24l-0.16 0.09M328.38 424.74l-0.02 0.07M299.38 431.92l0.28 0.02M284.47 510.09l-0.13 0.01M389.4 433.15l0.24 0.34M299.73 543.06l0.03 0.09M298.79 436.67l-0.14 0.04M334.93 443.78l-0.17 0.15M361.97 532.19l-0.35 0.13M270.45 453.78l-0.45 0.24" stroke="#d8d8d8" stroke-width="3.5" stroke-linecap="round" fill="none" opacity="1.0"/>
<path d="M344.13 432.44h0M268.23 528.31h0M298.73 453.4h0M389.96 482.71h0M345.78 443.01h0M345.26 532.11h0M331.42 516.36h0M360.54 497.71h0M303.93 428.15h0M355.08 538.7h0M315.54 523.77h0M321.69 540.5h0M375.49 436.4h0M283.45 451.25h0M344.24 461.69h0M329.45 472.22h0M372.71 547.38h0M355.04 450.52h0M369.64 495.53h0M277.57 523.73h0M317.46 443.03h0M374.74 429.79h0M355.61 465.4h0M329.22 548.31h0M304.97 433.86h0M340.91 428.2h0M271.86 532.08h0M305.48 543.37h0M323.64 488.89h0M346.38 498.28h0M335.89 501.32h0M320.02 513.76h0M334.55 425.72h0M344.33 482.21h0M350.76 468.09h0M354.19 515.96h0M269.35 431.82h0M350.36 543.94h0M311.69 463.13h0M362.28 427.64h0M337.13 515.61h0M305.01 451.94h0M366.19 453.95h0M353.09 436.95h0M306.49 465.75h0M372.6 445.33h0M294.48 439.32h0M332.22 448h0M289.35 458.9h0M366.62 504.03h0M282.67 460.56h0M380.66 443.67h0M267.18 541.45h0M381.5 451.88h0M348.74 488.76h0M294.78 432.75h0M366.98 429.9h0M297.88 531.32h0M325.72 521.46h0M310.19 448.81h0M332.84 525.75h0M287.82 522.63h0M368.63 425.23h0M272.79 458.01h0M319.01 483.03h0M273.39 440.06h0M282.04 432.8h0M277.27 486.66h0M339.28 469.12h0M290.28 465.13h0M281.93 493.3h0M355.32 471.53h0M320.07 470.55h0M328.07 511.6h0M323.7 454.74h0M332.99 510.64h0M275.47 477.07h0M319.36 533.55h0M382.63 470.78h0M267.21 442.12h0M277.97 436.63h0M281.63 529.12h0M274.18 464.57h0M296.6 446.63h0M359.2 444.25h0M326.53 504.15h0M278.48 517.22h0M291.28 497.03h0M303.26 511.9h0M339.04 457.48h0M293.56 427.17h0M284.39 547.41h0M326.02 498.7h0M324.59 527.96h0M357.49 543.56h0M295.69 513.44h0M372.4 454.37h0M289.79 511.83h0M338.5 508.2h0M267.45 465.88h0M334.05 439.1h0M300.64 506.95h0M280.54 534.49h0M385.71 507.86h0M355.57 508.58h0M288.79 534.83h0M307.68 513.78h0M340.62 493.22h0M305.31 446.21h0M275.1 513.21h0M329.13 455h0M310.32 529.48h0M367.67 517.29h0M339.94 442.49h0M315.96 448.35h0M331.97 494.89h0M345.11 545.64h0M271.19 486.46h0M336.73 543.41h0M366.55 540.02h0M286.53 486.04h0M353.24 491.05h0M318.9 504.94h0M304.35 481.98h0M340.5 452.1h0M266.93 450.26h0M363.64 442.12h0M323.59 448.56h0M274 427.09h0M356.76 458.47h0M364.21 482.1h0M382.19 461.63h0M309.31 435.94h0M287.7 428.85h0M383.08 428.55h0M304.36 499.68h0M383.88 435.2h0M302.96 529.86h0M317.98 452.79h0M355.89 499.53h0M326.95 443.41h0M354.66 427.15h0M377.73 515.32h0M285.52 504.35h0M288.61 434.13h0M368.88 438.28h0M294.2 527.32h0M342.85 504.01h0M321.81 438.08h0M275.46 492.95h0M332.98 476.31h0M390.17 538.6h0M317.53 433.93h0M312.76 444.34h0M387.93 428.66h0M377.58 543.57h0M305.78 457.94h0M384.29 541.52h0M301.53 440.63h0M350.18 504.65h0M313.98 437.6h0M314.9 546.95h0M284.6 440.06h0M388.01 454.85h0M364.98 547.45h0M361.51 435.79h0M332.44 532.96h0M293.85 470.37h0M325.5 534.88h0M310.12 425.23h0M326.06 476.73h0M333.39 459.65h0M303.59 536.06h0M320.23 463.06h0M309.46 547.94h0M338.81 526.62h0M267.94 508.58h0M385.86 447.41h0M359.59 452.29h0M323.23 545.32h0M351.75 477.42h0M329.16 542.68h0M312.75 429.7h0M376.17 441.45h0M330.81 465.01h0M278.96 539.39h0M390.44 445.19h0M277.57 544.05h0M272.03 544.04h0M378.25 465.67h0M378.69 457.28h0M291.44 538.89h0M315.99 467.16h0M320.83 519.67h0M287.69 529.58h0M369.48 459.15h0M283.52 514.82h0M340.22 474.56h0M363.92 461.35h0M322.98 494.54h0M266.78 478.89h0M327.17 429.83h0M273.77 538.68h0M360.72 509.6h0M376 424.31h0M292.17 505.38h0M339.57 480.04h0M388.36 438.11h0M319.34 427.32h0M312.75 511.94h0M275.73 497.85h0M338.58 432.94h0M351.72 496.16h0M288.78 479.4h0M348.15 456.03h0M360.35 467.82h0M298.16 518.93h0M378.54 501.99h0M390.08 516.68h0M356.35 487.38h0M340.75 548.5h0M372 505.04h0M310.04 453.83h0M388.16 470.71h0M353.26 443.11h0M331.81 433.27h0M312.69 542.22h0M365.85 510.64h0M372.89 500.06h0M388.14 460.14h0M318.83 528.69h0M367.17 446.86h0M312.37 480.6h0M312.48 458.03h0M344.14 510h0M313.98 472.03h0M283.08 478.34h0M324.34 465.69h0M266.74 459.17h0M370.42 464.1h0M313.62 533.8h0M310.51 523.08h0M272.52 520.36h0M267.9 473.71h0M335.43 521.2h0M371.33 510.11h0M268.74 425.94h0M348.93 425.59h0M332.18 486.6h0M384.04 503.36h0M274.21 471.73h0M389.59 493.93h0M294 521.93h0M381.62 480.91h0M377.01 449.79h0M356.57 548.3h0M346.42 471.09h0M267.66 436.33h0M278.55 424.71h0M350.67 511.12h0M300.81 477.17h0M350.05 482.42h0M275.86 432.06h0M299.81 424.31h0M362.01 456.46h0M326.42 483.86h0M299.71 548.28h0M344.93 475.83h0M331.79 505h0M342.5 487.22h0M366.51 491.23h0M283.39 444.83h0M324.02 508.55h0M266.98 534.88h0M300.34 524.48h0M276.97 530.69h0M293.09 482.43h0M341.94 516.65h0M325.26 516.18h0M324.34 460.57h0M317.4 458.42h0M308.73 441.32h0M323.52 433.17h0M281.91 484.25h0M272.87 527h0M344.17 437.6h0M361.9 493.07h0M385.08 513.48h0M280.41 502.11h0M328.87 437.73h0M358.54 504.75h0M328.68 491.29h0M328.37 424.77h0M299.52 431.93h0M274.58 482.07h0M338.24 531.77h0M336.75 496.3h0M376.96 538.74h0M385.72 442.13h0M334.15 469.46h0M389.88 450.08h0M300.91 457.95h0M287.29 493.96h0M335.62 451.53h0M356.65 494.75h0M268.17 547.84h0M307.88 518.61h0M266.75 523.66h0M284.4 510.1h0M346.54 493.32h0M266.66 488.56h0M379.4 431.68h0M274.73 548.41h0M335.14 547.96h0M365.52 498.58h0M313.39 506.86h0M331.13 499.77h0M389.52 433.32h0M357.06 439.77h0M341.16 499.18h0M299.74 543.1h0M374.48 460.34h0M359.46 514.28h0M278.1 441.91h0M298.72 436.69h0M334.84 443.86h0M373.17 469.17h0M370.89 433.87h0M288.23 453.85h0M361.79 532.25h0M362.52 448.46h0M270.23 453.9h0" stroke="#a5a5a5" stroke-width="1.3" stroke-linecap="round" fill="none" opacity="0.7"/>
<path d="M279 444.5 L286 444.8 L293 445.5" stroke="#383838" stroke-width="4.6" fill="none" opacity="0.85"/>
<path d="M279.09 442.47L278.91 446.53M280.98 442.71L280.82 446.45M282.87 442.95L282.72 446.37M284.78 442.85L284.61 446.64M286.81 442.68L286.37 447.04M288.64 443.48L288.32 446.61M290.6 442.92L290.14 447.55M292.47 443.35L292.05 447.51" stroke="#e4e4e4" stroke-width="1.05" fill="none"/>
<path d="M290.6 480.8 L298 484 L306.6 487.7" stroke="#383838" stroke-width="4.6" fill="none" opacity="0.85"/>
<path d="M291.51 478.69L289.69 482.91M293.21 479.55L291.48 483.56M294.92 480.39L293.26 484.23M296.61 481.27L295.06 484.86M298.38 481.95L296.77 485.69M300.04 482.9L298.6 486.24M301.83 483.53L300.3 487.11M303.72 483.95L301.9 488.19M305.42 484.82L303.7 488.82M306.99 485.97L305.61 489.17" stroke="#e4e4e4" stroke-width="1.05" fill="none"/>
<path d="M354.7 456.8 L356 468 L357 479.7" stroke="#383838" stroke-width="4.6" fill="none" opacity="0.85"/>
<path d="M356.85 456.55L352.55 457.05M356.87 458.46L352.97 458.91M357.1 460.35L353.18 460.8M357.16 462.25L353.55 462.67M357.71 464.1L353.44 464.6M357.49 466.04L354.1 466.43M358.16 467.94L353.86 468.31M358.36 469.83L353.99 470.2M358.53 471.72L354.14 472.1M358.4 473.64L354.6 473.97M358.45 475.54L354.87 475.85M358.92 477.41L354.72 477.77M358.71 479.33L355.25 479.63" stroke="#e4e4e4" stroke-width="1.05" fill="none"/>
<path d="M361.6 449.9 L370 448.5 L377.6 447.6" stroke="#383838" stroke-width="4.6" fill="none" opacity="0.85"/>
<path d="M361.33 448.29L361.87 451.51M363.15 447.63L363.8 451.55M365.06 447.55L365.64 451.01M366.93 447.18L367.52 450.75M368.76 446.66L369.43 450.64M370.71 446.1L371.25 450.67M372.66 446.48L373.06 449.85M374.49 445.77L375.01 450.11M376.4 445.73L376.87 449.7" stroke="#e4e4e4" stroke-width="1.05" fill="none"/>
<path d="M360.5 486.5 L362.7 493.4" stroke="#383838" stroke-width="4.6" fill="none" opacity="0.85"/>
<path d="M362.26 485.94L358.74 487.06M362.59 487.83L359.56 488.79M363.67 489.48L359.63 490.76M364.35 491.26L360.12 492.6" stroke="#e4e4e4" stroke-width="1.05" fill="none"/>
<circle cx="299.8" cy="491.5" r="2" fill="#222" opacity="0.7"/>
</g>
<rect x="269.6" y="427.3" width="117.9" height="118.2" filter="url(#mtD2)" opacity="0.22"/>
<rect x="269.6" y="427.3" width="117.9" height="118.2" filter="url(#mtL2)" opacity="0.22"/>
<line x1="356.9" y1="537.8" x2="371.9" y2="537.8" stroke="#151515" stroke-width="1.1"/>
</g>
<g clip-path="url(#cp3)">
<rect x="402.3" y="427.3" width="117.3" height="117.4" filter="url(#soy)"/>
<line x1="484.2" y1="536.5" x2="500.5" y2="536.5" stroke="#151515" stroke-width="1.2"/>
</g>
</svg></body></html>
